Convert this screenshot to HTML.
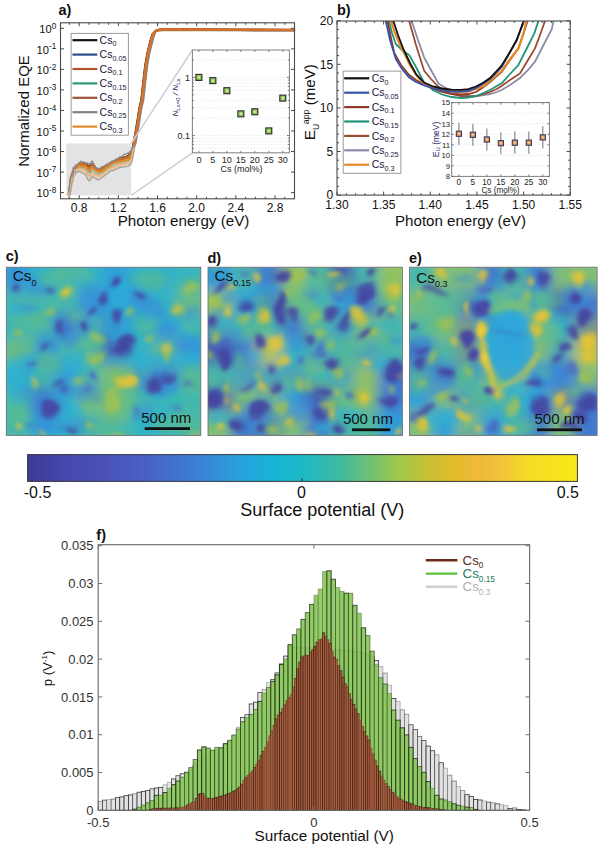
<!DOCTYPE html>
<html><head><meta charset="utf-8"><style>
html,body{margin:0;padding:0;background:#fff;}
svg{display:block;font-family:"Liberation Sans", sans-serif;}
</style></head><body>
<svg width="599" height="847" viewBox="0 0 599 847">
<defs>
<clipPath id="clipb"><rect x="337.0" y="21.0" width="233.20000000000005" height="174.1"/></clipPath>
<clipPath id="clipafm0"><rect x="6.3" y="267.2" width="194.5" height="168.3"/></clipPath><clipPath id="clipafm1"><rect x="208.0" y="267.2" width="194.39999999999998" height="168.3"/></clipPath><clipPath id="clipafm2"><rect x="409.5" y="267.2" width="187.60000000000002" height="168.3"/></clipPath>
<filter id="bl2" x="-50%" y="-50%" width="200%" height="200%"><feGaussianBlur stdDeviation="2"/></filter>
<filter id="bl3" x="-50%" y="-50%" width="200%" height="200%"><feGaussianBlur stdDeviation="2.6"/></filter>
<filter id="blgrid" x="-20%" y="-20%" width="140%" height="140%"><feGaussianBlur stdDeviation="7"/></filter>
<filter id="bl15" x="-50%" y="-50%" width="200%" height="200%"><feGaussianBlur stdDeviation="1.3"/></filter>
<filter id="bl4" x="-50%" y="-50%" width="200%" height="200%"><feGaussianBlur stdDeviation="4"/></filter>
<filter id="bl6" x="-50%" y="-50%" width="200%" height="200%"><feGaussianBlur stdDeviation="6"/></filter>
<filter id="afmsoft" x="-10%" y="-10%" width="120%" height="120%" color-interpolation-filters="sRGB">
<feTurbulence type="fractalNoise" baseFrequency="0.035" numOctaves="1" seed="3" result="t"/>
<feGaussianBlur in="SourceGraphic" stdDeviation="3.5" result="b"/>
<feDisplacementMap in="b" in2="t" scale="14" xChannelSelector="R" yChannelSelector="G"/>
</filter>
<filter id="afmhard" x="-10%" y="-10%" width="120%" height="120%" color-interpolation-filters="sRGB">
<feTurbulence type="fractalNoise" baseFrequency="0.05" numOctaves="1" seed="11" result="t"/>
<feGaussianBlur in="SourceGraphic" stdDeviation="1.9" result="b"/>
<feDisplacementMap in="b" in2="t" scale="14" xChannelSelector="R" yChannelSelector="G" result="d"/><feGaussianBlur in="d" stdDeviation="0.8"/>
</filter>
</defs>
<text x="58.50" y="15.20" font-size="14.5" text-anchor="start" font-weight="bold" fill="#111"  >a)</text>
<text transform="translate(29,111) rotate(-90)" font-size="15" text-anchor="middle" fill="#111">Normalized EQE</text>
<rect x="66.30" y="143.40" width="64.90" height="52.00" fill="#e3e3e5" stroke="none" stroke-width="1" />
<text x="56.2" y="33.00" font-size="11.2" text-anchor="end" fill="#111">10<tspan font-size="8.2" dy="-4.4">0</tspan></text>
<text x="56.2" y="53.54" font-size="11.2" text-anchor="end" fill="#111">10<tspan font-size="8.2" dy="-4.4">-1</tspan></text>
<text x="56.2" y="74.08" font-size="11.2" text-anchor="end" fill="#111">10<tspan font-size="8.2" dy="-4.4">-2</tspan></text>
<text x="56.2" y="94.62" font-size="11.2" text-anchor="end" fill="#111">10<tspan font-size="8.2" dy="-4.4">-3</tspan></text>
<text x="56.2" y="115.16" font-size="11.2" text-anchor="end" fill="#111">10<tspan font-size="8.2" dy="-4.4">-4</tspan></text>
<text x="56.2" y="135.70" font-size="11.2" text-anchor="end" fill="#111">10<tspan font-size="8.2" dy="-4.4">-5</tspan></text>
<text x="56.2" y="156.24" font-size="11.2" text-anchor="end" fill="#111">10<tspan font-size="8.2" dy="-4.4">-6</tspan></text>
<text x="56.2" y="176.78" font-size="11.2" text-anchor="end" fill="#111">10<tspan font-size="8.2" dy="-4.4">-7</tspan></text>
<text x="56.2" y="197.32" font-size="11.2" text-anchor="end" fill="#111">10<tspan font-size="8.2" dy="-4.4">-8</tspan></text>
<text x="79.20" y="211.70" font-size="12" text-anchor="middle" font-weight="normal" fill="#111"  >0.8</text>
<text x="118.36" y="211.70" font-size="12" text-anchor="middle" font-weight="normal" fill="#111"  >1.2</text>
<text x="157.52" y="211.70" font-size="12" text-anchor="middle" font-weight="normal" fill="#111"  >1.6</text>
<text x="196.68" y="211.70" font-size="12" text-anchor="middle" font-weight="normal" fill="#111"  >2.0</text>
<text x="235.84" y="211.70" font-size="12" text-anchor="middle" font-weight="normal" fill="#111"  >2.4</text>
<text x="275.00" y="211.70" font-size="12" text-anchor="middle" font-weight="normal" fill="#111"  >2.8</text>
<text x="183.50" y="225.70" font-size="15.2" text-anchor="middle" font-weight="normal" fill="#111"  >Photon energy (eV)</text>
<polyline points="67.85,193.93 68.73,191.98 69.70,190.99 70.51,176.32 71.23,177.05 72.21,171.78 72.73,180.96 73.76,169.78 74.45,168.14 75.52,165.53" stroke="#e0b080" stroke-width="1.4" fill="none" stroke-linejoin="round" stroke-linecap="round" />
<polyline points="68.28,194.34 68.99,190.36 69.51,190.47 70.48,183.92 71.51,183.52 72.36,174.75 73.15,173.87 74.20,172.75 74.92,169.04" stroke="#d89050" stroke-width="1.4" fill="none" stroke-linejoin="round" stroke-linecap="round" />
<polyline points="67.74,193.85 68.84,194.03 69.67,188.19 70.53,184.33 71.14,175.45 72.20,175.58 72.88,167.76 73.87,172.79 74.78,174.94 75.85,172.00" stroke="#e8c49a" stroke-width="1.4" fill="none" stroke-linejoin="round" stroke-linecap="round" />
<polyline points="68.34,194.87 68.98,192.59 69.53,194.06 70.32,184.74 70.97,178.02 71.57,172.76 72.61,181.36 73.40,174.89 74.22,169.15 74.84,174.84 75.87,168.84" stroke="#c87838" stroke-width="1.4" fill="none" stroke-linejoin="round" stroke-linecap="round" />
<polyline points="68.40,195.17 69.36,187.49 70.43,179.29 71.32,184.31 71.98,179.45 73.02,167.90 73.58,168.36 74.16,174.69 74.74,169.60 75.53,164.56" stroke="#a0a0a0" stroke-width="1.4" fill="none" stroke-linejoin="round" stroke-linecap="round" />
<polyline points="68.43,195.86 69.35,195.66 70.33,178.62 70.86,182.09 71.79,176.74 72.48,170.88 73.16,175.05 73.97,176.22 74.53,171.94 75.47,171.08" stroke="#e0b080" stroke-width="1.4" fill="none" stroke-linejoin="round" stroke-linecap="round" />
<polyline points="68.90,194.23 69.90,187.68 70.90,182.55 71.90,174.96 72.90,174.88 73.90,169.56 74.90,167.92 75.90,167.86 76.90,166.45 77.90,164.21 78.90,163.41 79.90,162.87 80.90,163.53 81.90,163.31 82.90,162.68 83.90,163.80 84.90,163.15 85.90,164.37 86.90,164.23 87.90,164.61 88.90,166.19 89.90,165.23 90.90,164.09 91.90,163.58 92.90,164.72 93.90,165.35 94.90,167.53 95.90,168.18 96.90,168.99 97.90,168.88 98.90,169.75 99.90,169.15 100.90,169.29 101.90,168.76 102.90,167.36 103.90,166.86 104.90,165.99 105.90,165.30 106.90,164.54 107.90,164.22 108.90,164.00 109.90,162.52 110.90,162.82 111.90,161.78 112.90,161.25 113.90,161.46 114.90,160.50 115.90,159.78 116.90,159.52 117.90,159.34 118.90,158.08 119.90,159.02 120.90,157.35 121.90,158.03 122.90,157.83 123.90,156.33 124.90,157.07 125.90,156.13 126.90,156.07 127.90,154.92 128.90,154.58 129.90,153.92 130.90,153.25 131.90,149.63 132.83,144.00 134.83,133.00 136.83,121.00 138.83,108.00 140.73,100.00 142.63,83.00 144.53,66.40 146.63,54.00 148.83,45.00 150.63,38.00 152.23,33.50 155.50,30.41 158.00,29.41 162.00,29.02 200.00,29.02 240.00,29.21 294.00,29.41" stroke="#222222" stroke-width="1.0" fill="none" stroke-linejoin="round" stroke-linecap="round" />
<polyline points="68.90,197.71 69.90,188.76 70.90,184.25 71.90,177.67 72.90,178.46 73.90,171.52 74.90,170.26 75.90,170.32 76.90,169.57 77.90,169.02 78.90,167.23 79.90,167.69 80.90,167.44 81.90,167.39 82.90,167.67 83.90,167.75 84.90,168.05 85.90,169.27 86.90,171.14 87.90,172.65 88.90,172.46 89.90,172.56 90.90,172.35 91.90,170.25 92.90,170.27 93.90,170.97 94.90,172.32 95.90,173.31 96.90,173.24 97.90,173.61 98.90,172.88 99.90,173.80 100.90,172.27 101.90,172.33 102.90,172.19 103.90,170.58 104.90,170.78 105.90,170.38 106.90,169.22 107.90,168.74 108.90,167.07 109.90,166.89 110.90,165.85 111.90,166.29 112.90,165.09 113.90,164.89 114.90,165.26 115.90,164.66 116.90,164.44 117.90,163.31 118.90,163.07 119.90,163.13 120.90,162.50 121.90,161.96 122.90,161.95 123.90,161.43 124.90,161.59 125.90,162.17 126.90,161.87 127.90,161.13 128.90,160.65 129.90,159.75 130.90,157.64 131.90,155.60 134.90,144.00 136.90,133.00 138.90,121.00 140.90,108.00 142.80,100.00 144.70,83.00 146.60,66.40 148.70,54.00 150.90,45.00 152.70,38.00 154.30,33.50 155.50,31.45 158.00,30.45 162.00,30.05 200.00,30.05 240.00,30.25 294.00,30.45" stroke="#2b9a70" stroke-width="0.8" fill="none" stroke-linejoin="round" stroke-linecap="round" />
<polyline points="68.90,196.70 69.90,188.16 70.90,183.42 71.90,179.13 72.90,176.10 73.90,172.70 74.90,172.48 75.90,168.96 76.90,168.37 77.90,166.46 78.90,164.86 79.90,163.38 80.90,164.26 81.90,163.98 82.90,164.70 83.90,164.54 84.90,165.28 85.90,165.74 86.90,166.65 87.90,166.72 88.90,167.65 89.90,168.28 90.90,167.11 91.90,164.94 92.90,166.57 93.90,167.66 94.90,168.29 95.90,169.58 96.90,170.09 97.90,169.98 98.90,169.89 99.90,169.22 100.90,169.99 101.90,169.60 102.90,168.39 103.90,168.12 104.90,167.56 105.90,166.84 106.90,165.33 107.90,165.45 108.90,164.44 109.90,163.83 110.90,162.75 111.90,162.48 112.90,162.32 113.90,161.74 114.90,161.48 115.90,160.13 116.90,159.94 117.90,159.96 118.90,160.04 119.90,159.24 120.90,159.71 121.90,159.44 122.90,158.42 123.90,158.83 124.90,158.28 125.90,157.66 126.90,157.39 127.90,157.27 128.90,156.71 129.90,156.35 130.90,153.93 131.90,151.88 135.17,144.00 137.17,133.00 139.17,121.00 141.17,108.00 143.07,100.00 144.97,83.00 146.87,66.40 148.97,54.00 151.17,45.00 152.97,38.00 154.57,33.50 155.50,31.59 158.00,30.59 162.00,30.19 200.00,30.19 240.00,30.39 294.00,30.59" stroke="#3a5a9a" stroke-width="0.9" fill="none" stroke-linejoin="round" stroke-linecap="round" />
<polyline points="68.90,193.78 69.90,184.23 70.90,178.46 71.90,175.09 72.90,171.83 73.90,171.69 74.90,170.03 75.90,167.81 76.90,166.97 77.90,165.21 78.90,164.30 79.90,164.17 80.90,163.89 81.90,163.38 82.90,164.12 83.90,164.06 84.90,163.95 85.90,164.23 86.90,165.48 87.90,166.04 88.90,167.02 89.90,167.22 90.90,165.51 91.90,163.60 92.90,165.51 93.90,165.54 94.90,166.79 95.90,168.53 96.90,169.19 97.90,169.05 98.90,169.60 99.90,169.75 100.90,168.82 101.90,168.43 102.90,167.57 103.90,167.08 104.90,167.44 105.90,165.92 106.90,166.05 107.90,165.30 108.90,164.18 109.90,163.03 110.90,163.36 111.90,162.12 112.90,161.56 113.90,160.98 114.90,161.46 115.90,160.33 116.90,159.59 117.90,159.41 118.90,158.62 119.90,159.04 120.90,158.51 121.90,158.02 122.90,158.43 123.90,158.21 124.90,156.78 125.90,157.15 126.90,156.42 127.90,156.99 128.90,156.38 129.90,154.98 130.90,153.08 131.90,150.32 133.37,144.00 135.37,133.00 137.37,121.00 139.37,108.00 141.27,100.00 143.17,83.00 145.07,66.40 147.17,54.00 149.37,45.00 151.17,38.00 152.77,33.50 155.50,30.68 158.00,29.68 162.00,29.29 200.00,29.29 240.00,29.48 294.00,29.68" stroke="#a85030" stroke-width="1.5" fill="none" stroke-linejoin="round" stroke-linecap="round" />
<polyline points="68.90,193.28 69.90,186.13 70.90,182.06 71.90,175.13 72.90,173.85 73.90,171.60 74.90,170.39 75.90,168.73 76.90,167.11 77.90,166.16 78.90,164.58 79.90,163.13 80.90,163.45 81.90,163.82 82.90,164.63 83.90,164.75 84.90,164.52 85.90,164.43 86.90,166.15 87.90,166.31 88.90,166.99 89.90,167.50 90.90,166.14 91.90,164.41 92.90,166.06 93.90,166.50 94.90,167.51 95.90,169.15 96.90,168.80 97.90,169.46 98.90,170.08 99.90,168.82 100.90,169.71 101.90,169.01 102.90,168.08 103.90,167.30 104.90,167.39 105.90,166.86 106.90,165.08 107.90,164.85 108.90,164.25 109.90,163.47 110.90,162.53 111.90,161.73 112.90,161.92 113.90,161.82 114.90,160.36 115.90,160.17 116.90,160.58 117.90,160.13 118.90,159.69 119.90,158.56 120.90,159.30 121.90,159.42 122.90,159.21 123.90,158.56 124.90,157.39 125.90,158.13 126.90,156.89 127.90,157.12 128.90,157.16 129.90,156.30 130.90,153.44 131.90,151.04 133.82,144.00 135.82,133.00 137.82,121.00 139.82,108.00 141.72,100.00 143.62,83.00 145.52,66.40 147.62,54.00 149.82,45.00 151.62,38.00 153.22,33.50 155.50,30.91 158.00,29.91 162.00,29.51 200.00,29.51 240.00,29.71 294.00,29.91" stroke="#c8642a" stroke-width="1.8" fill="none" stroke-linejoin="round" stroke-linecap="round" />
<polyline points="68.90,193.05 69.90,186.99 70.90,182.75 71.90,175.13 72.90,172.91 73.90,173.02 74.90,173.71 75.90,169.06 76.90,168.07 77.90,166.54 78.90,165.57 79.90,164.81 80.90,165.61 81.90,164.98 82.90,164.71 83.90,165.77 84.90,165.30 85.90,166.78 86.90,167.40 87.90,168.76 88.90,168.90 89.90,169.43 90.90,167.57 91.90,166.49 92.90,166.83 93.90,168.54 94.90,169.09 95.90,169.38 96.90,170.04 97.90,170.71 98.90,171.09 99.90,170.12 100.90,170.67 101.90,170.04 102.90,168.67 103.90,168.90 104.90,167.48 105.90,166.80 106.90,166.74 107.90,165.51 108.90,165.68 109.90,164.41 110.90,163.49 111.90,163.60 112.90,162.13 113.90,162.72 114.90,161.39 115.90,161.15 116.90,161.89 117.90,161.13 118.90,160.26 119.90,159.89 120.90,160.88 121.90,160.23 122.90,160.27 123.90,159.13 124.90,159.61 125.90,158.88 126.90,158.37 127.90,158.15 128.90,158.19 129.90,157.36 130.90,155.33 131.90,152.42 134.18,144.00 136.18,133.00 138.18,121.00 140.18,108.00 142.08,100.00 143.98,83.00 145.88,66.40 147.98,54.00 150.18,45.00 151.98,38.00 153.58,33.50 155.50,31.09 158.00,30.09 162.00,29.69 200.00,29.69 240.00,29.89 294.00,30.09" stroke="#d2782e" stroke-width="1.6" fill="none" stroke-linejoin="round" stroke-linecap="round" />
<polyline points="68.90,195.96 69.90,188.16 70.90,183.96 71.90,179.21 72.90,175.68 73.90,170.22 74.90,168.57 75.90,170.57 76.90,168.72 77.90,167.92 78.90,165.67 79.90,165.84 80.90,166.65 81.90,166.49 82.90,166.44 83.90,166.71 84.90,166.56 85.90,167.59 86.90,168.54 87.90,169.77 88.90,170.58 89.90,171.63 90.90,169.17 91.90,167.84 92.90,168.36 93.90,169.19 94.90,170.22 95.90,170.91 96.90,171.73 97.90,171.56 98.90,172.64 99.90,171.62 100.90,172.18 101.90,171.26 102.90,170.64 103.90,169.76 104.90,169.80 105.90,167.92 106.90,167.98 107.90,166.73 108.90,166.55 109.90,165.95 110.90,164.48 111.90,163.99 112.90,163.34 113.90,163.21 114.90,162.61 115.90,162.68 116.90,163.09 117.90,161.85 118.90,161.52 119.90,161.50 120.90,160.99 121.90,161.38 122.90,161.18 123.90,160.23 124.90,160.16 125.90,160.45 126.90,160.51 127.90,159.79 128.90,159.15 129.90,159.36 130.90,156.07 131.90,153.71 134.45,144.00 136.45,133.00 138.45,121.00 140.45,108.00 142.35,100.00 144.25,83.00 146.15,66.40 148.25,54.00 150.45,45.00 152.25,38.00 153.85,33.50 155.50,31.23 158.00,30.23 162.00,29.83 200.00,29.83 240.00,30.03 294.00,30.23" stroke="#e08a2a" stroke-width="1.6" fill="none" stroke-linejoin="round" stroke-linecap="round" />
<polyline points="68.90,195.19 69.90,189.77 70.90,186.29 71.90,178.02 72.90,178.73 73.90,176.30 74.90,170.32 75.90,170.56 76.90,170.11 77.90,168.91 78.90,168.46 79.90,168.48 80.90,168.69 81.90,168.68 82.90,169.01 83.90,170.66 84.90,170.10 85.90,171.88 86.90,173.05 87.90,174.52 88.90,175.10 89.90,175.56 90.90,173.62 91.90,172.79 92.90,173.14 93.90,173.58 94.90,174.76 95.90,174.43 96.90,174.55 97.90,175.66 98.90,175.31 99.90,175.08 100.90,174.46 101.90,174.19 102.90,173.68 103.90,173.30 104.90,171.79 105.90,171.29 106.90,171.12 107.90,169.58 108.90,168.73 109.90,168.41 110.90,167.50 111.90,167.94 112.90,167.55 113.90,166.39 114.90,165.73 115.90,165.26 116.90,165.09 117.90,164.47 118.90,164.62 119.90,164.50 120.90,163.71 121.90,163.13 122.90,163.87 123.90,162.82 124.90,162.89 125.90,162.79 126.90,162.70 127.90,162.11 128.90,162.28 129.90,161.32 130.90,160.39 131.90,157.99 134.63,144.00 136.63,133.00 138.63,121.00 140.63,108.00 142.53,100.00 144.43,83.00 146.33,66.40 148.43,54.00 150.63,45.00 152.43,38.00 154.03,33.50 155.50,31.32 158.00,30.32 162.00,29.92 200.00,29.92 240.00,30.12 294.00,30.32" stroke="#e2b080" stroke-width="1.8" fill="none" stroke-linejoin="round" stroke-linecap="round" />
<polyline points="68.90,197.07 69.90,192.05 70.90,188.38 71.90,184.28 72.90,179.20 73.90,175.56 74.90,170.59 75.90,171.23 76.90,170.62 77.90,170.29 78.90,170.40 79.90,169.83 80.90,169.94 81.90,171.34 82.90,171.47 83.90,171.14 84.90,171.82 85.90,173.46 86.90,175.31 87.90,177.49 88.90,179.05 89.90,178.60 90.90,176.30 91.90,175.16 92.90,174.51 93.90,175.30 94.90,175.66 95.90,176.92 96.90,177.60 97.90,177.80 98.90,176.59 99.90,176.79 100.90,175.88 101.90,175.99 102.90,174.94 103.90,174.95 104.90,174.08 105.90,172.44 106.90,172.04 107.90,172.19 108.90,170.87 109.90,170.27 110.90,169.73 111.90,169.68 112.90,169.44 113.90,168.40 114.90,168.60 115.90,167.67 116.90,166.57 117.90,167.16 118.90,166.24 119.90,165.35 120.90,166.28 121.90,164.59 122.90,165.21 123.90,164.95 124.90,165.39 125.90,164.55 126.90,164.14 127.90,164.07 128.90,163.72 129.90,163.26 130.90,161.65 131.90,160.25 134.72,144.00 136.72,133.00 138.72,121.00 140.72,108.00 142.62,100.00 144.52,83.00 146.42,66.40 148.52,54.00 150.72,45.00 152.52,38.00 154.12,33.50 155.50,31.36 158.00,30.36 162.00,29.96 200.00,29.96 240.00,30.16 294.00,30.36" stroke="#e8c49a" stroke-width="2.0" fill="none" stroke-linejoin="round" stroke-linecap="round" />
<polyline points="68.90,194.81 69.90,194.75 70.90,190.30 71.90,182.14 72.90,179.76 73.90,171.80 74.90,170.57 75.90,172.78 76.90,172.48 77.90,171.29 78.90,171.92 79.90,171.40 80.90,172.39 81.90,173.13 82.90,173.29 83.90,174.03 84.90,174.17 85.90,175.40 86.90,177.84 87.90,179.62 88.90,180.73 89.90,180.91 90.90,178.93 91.90,177.12 92.90,176.59 93.90,177.48 94.90,178.39 95.90,179.05 96.90,178.93 97.90,180.05 98.90,179.42 99.90,179.11 100.90,178.32 101.90,177.61 102.90,176.72 103.90,176.38 104.90,175.07 105.90,174.72 106.90,174.17 107.90,173.27 108.90,172.27 109.90,171.46 110.90,170.97 111.90,170.85 112.90,170.66 113.90,170.41 114.90,169.93 115.90,168.95 116.90,169.40 117.90,168.08 118.90,168.28 119.90,166.97 120.90,167.51 121.90,166.98 122.90,167.25 123.90,167.06 124.90,166.66 125.90,166.77 126.90,166.53 127.90,166.25 128.90,165.48 129.90,164.80 130.90,164.22 131.90,161.53 135.44,144.00 137.44,133.00 139.44,121.00 141.44,108.00 143.34,100.00 145.24,83.00 147.14,66.40 149.24,54.00 151.44,45.00 153.24,38.00 154.84,33.50 155.50,31.72 158.00,30.72 162.00,30.32 200.00,30.32 240.00,30.52 294.00,30.72" stroke="#a0a0a0" stroke-width="1.2" fill="none" stroke-linejoin="round" stroke-linecap="round" />
<polyline points="68.90,192.08 69.90,179.90 70.90,175.80 71.90,176.62 72.90,172.92 73.90,166.90 74.90,168.30 75.90,166.64 76.90,164.76 77.90,164.08 78.90,162.47 79.90,162.01 80.90,161.37 81.90,161.72 82.90,162.41 83.90,161.70 84.90,162.66 85.90,163.24 86.90,162.88 87.90,163.06 88.90,163.98 89.90,163.80 90.90,162.86 91.90,160.99 92.90,162.18 93.90,164.04 94.90,165.78 95.90,167.91 96.90,167.76 97.90,168.33 98.90,168.56 99.90,168.74 100.90,167.32 101.90,166.78 102.90,166.32 103.90,166.35 104.90,165.80 105.90,164.62 106.90,164.07 107.90,164.08 108.90,163.59 109.90,163.10 110.90,162.60 111.90,161.08 112.90,161.07 113.90,160.95 114.90,160.52 115.90,159.02 116.90,159.16 117.90,158.26 118.90,158.16 119.90,156.70 120.90,156.87 121.90,156.58 122.90,155.59 123.90,154.58 124.90,154.24 125.90,153.86 126.90,153.45 127.90,153.21 128.90,153.43 129.90,151.41 130.90,151.02 131.90,148.51 135.80,144.00 137.80,133.00 139.80,121.00 141.80,108.00 143.70,100.00 145.60,83.00 147.50,66.40 149.60,54.00 151.80,45.00 153.60,38.00 155.20,33.50 155.50,31.90 158.00,30.90 162.00,30.50 200.00,30.50 240.00,30.70 294.00,30.90" stroke="#888888" stroke-width="1.3" fill="none" stroke-linejoin="round" stroke-linecap="round" />
<polyline points="134.20,144.00 136.20,133.00 138.20,121.00 140.20,108.00 142.10,100.00 144.00,83.00 145.90,66.40 148.00,54.00 150.20,45.00 152.00,38.00 153.60,33.50 155.70,31.00 158.20,30.00 162.20,29.60 200.20,29.60 240.20,29.80 294.20,30.00" stroke="#d2691e" stroke-width="2.6" fill="none" stroke-linejoin="round" stroke-linecap="round" opacity="0.85"/>
<line x1="131.20" y1="143.40" x2="192.40" y2="50.00" stroke="#cfcfdc" stroke-width="1.6" />
<line x1="131.20" y1="195.40" x2="192.40" y2="152.80" stroke="#cfcfdc" stroke-width="1.6" />
<rect x="192.40" y="50.00" width="97.00" height="102.80" fill="#fff" stroke="none" stroke-width="1" />
<line x1="193.40" y1="59.91" x2="288.40" y2="59.91" stroke="#d4d8ec" stroke-width="0.7" stroke-dasharray="1,2"/>
<line x1="193.40" y1="77.40" x2="288.40" y2="77.40" stroke="#d4d8ec" stroke-width="0.7" stroke-dasharray="1,2"/>
<line x1="193.40" y1="80.06" x2="288.40" y2="80.06" stroke="#d4d8ec" stroke-width="0.7" stroke-dasharray="1,2"/>
<line x1="193.40" y1="83.03" x2="288.40" y2="83.03" stroke="#d4d8ec" stroke-width="0.7" stroke-dasharray="1,2"/>
<line x1="193.40" y1="86.40" x2="288.40" y2="86.40" stroke="#d4d8ec" stroke-width="0.7" stroke-dasharray="1,2"/>
<line x1="193.40" y1="90.29" x2="288.40" y2="90.29" stroke="#d4d8ec" stroke-width="0.7" stroke-dasharray="1,2"/>
<line x1="193.40" y1="94.89" x2="288.40" y2="94.89" stroke="#d4d8ec" stroke-width="0.7" stroke-dasharray="1,2"/>
<line x1="193.40" y1="100.52" x2="288.40" y2="100.52" stroke="#d4d8ec" stroke-width="0.7" stroke-dasharray="1,2"/>
<line x1="193.40" y1="107.78" x2="288.40" y2="107.78" stroke="#d4d8ec" stroke-width="0.7" stroke-dasharray="1,2"/>
<line x1="193.40" y1="118.01" x2="288.40" y2="118.01" stroke="#d4d8ec" stroke-width="0.7" stroke-dasharray="1,2"/>
<line x1="193.40" y1="135.50" x2="288.40" y2="135.50" stroke="#d4d8ec" stroke-width="0.7" stroke-dasharray="1,2"/>
<line x1="193.40" y1="138.16" x2="288.40" y2="138.16" stroke="#d4d8ec" stroke-width="0.7" stroke-dasharray="1,2"/>
<line x1="193.40" y1="141.13" x2="288.40" y2="141.13" stroke="#d4d8ec" stroke-width="0.7" stroke-dasharray="1,2"/>
<line x1="193.40" y1="144.50" x2="288.40" y2="144.50" stroke="#d4d8ec" stroke-width="0.7" stroke-dasharray="1,2"/>
<line x1="193.40" y1="148.39" x2="288.40" y2="148.39" stroke="#d4d8ec" stroke-width="0.7" stroke-dasharray="1,2"/>
<rect x="192.40" y="50.00" width="97.00" height="102.80" fill="none" stroke="#808080" stroke-width="1" />
<line x1="192.40" y1="59.91" x2="193.90" y2="59.91" stroke="#606060" stroke-width="0.8" />
<line x1="289.40" y1="59.91" x2="287.90" y2="59.91" stroke="#606060" stroke-width="0.8" />
<line x1="192.40" y1="77.40" x2="194.90" y2="77.40" stroke="#606060" stroke-width="0.8" />
<line x1="289.40" y1="77.40" x2="286.90" y2="77.40" stroke="#606060" stroke-width="0.8" />
<line x1="192.40" y1="80.06" x2="193.90" y2="80.06" stroke="#606060" stroke-width="0.8" />
<line x1="289.40" y1="80.06" x2="287.90" y2="80.06" stroke="#606060" stroke-width="0.8" />
<line x1="192.40" y1="83.03" x2="193.90" y2="83.03" stroke="#606060" stroke-width="0.8" />
<line x1="289.40" y1="83.03" x2="287.90" y2="83.03" stroke="#606060" stroke-width="0.8" />
<line x1="192.40" y1="86.40" x2="193.90" y2="86.40" stroke="#606060" stroke-width="0.8" />
<line x1="289.40" y1="86.40" x2="287.90" y2="86.40" stroke="#606060" stroke-width="0.8" />
<line x1="192.40" y1="90.29" x2="193.90" y2="90.29" stroke="#606060" stroke-width="0.8" />
<line x1="289.40" y1="90.29" x2="287.90" y2="90.29" stroke="#606060" stroke-width="0.8" />
<line x1="192.40" y1="94.89" x2="193.90" y2="94.89" stroke="#606060" stroke-width="0.8" />
<line x1="289.40" y1="94.89" x2="287.90" y2="94.89" stroke="#606060" stroke-width="0.8" />
<line x1="192.40" y1="100.52" x2="193.90" y2="100.52" stroke="#606060" stroke-width="0.8" />
<line x1="289.40" y1="100.52" x2="287.90" y2="100.52" stroke="#606060" stroke-width="0.8" />
<line x1="192.40" y1="107.78" x2="193.90" y2="107.78" stroke="#606060" stroke-width="0.8" />
<line x1="289.40" y1="107.78" x2="287.90" y2="107.78" stroke="#606060" stroke-width="0.8" />
<line x1="192.40" y1="118.01" x2="193.90" y2="118.01" stroke="#606060" stroke-width="0.8" />
<line x1="289.40" y1="118.01" x2="287.90" y2="118.01" stroke="#606060" stroke-width="0.8" />
<line x1="192.40" y1="135.50" x2="194.90" y2="135.50" stroke="#606060" stroke-width="0.8" />
<line x1="289.40" y1="135.50" x2="286.90" y2="135.50" stroke="#606060" stroke-width="0.8" />
<line x1="192.40" y1="138.16" x2="193.90" y2="138.16" stroke="#606060" stroke-width="0.8" />
<line x1="289.40" y1="138.16" x2="287.90" y2="138.16" stroke="#606060" stroke-width="0.8" />
<line x1="192.40" y1="141.13" x2="193.90" y2="141.13" stroke="#606060" stroke-width="0.8" />
<line x1="289.40" y1="141.13" x2="287.90" y2="141.13" stroke="#606060" stroke-width="0.8" />
<line x1="192.40" y1="144.50" x2="193.90" y2="144.50" stroke="#606060" stroke-width="0.8" />
<line x1="289.40" y1="144.50" x2="287.90" y2="144.50" stroke="#606060" stroke-width="0.8" />
<line x1="192.40" y1="148.39" x2="193.90" y2="148.39" stroke="#606060" stroke-width="0.8" />
<line x1="289.40" y1="148.39" x2="287.90" y2="148.39" stroke="#606060" stroke-width="0.8" />
<line x1="198.90" y1="152.80" x2="198.90" y2="150.80" stroke="#606060" stroke-width="0.8" />
<line x1="198.90" y1="50.00" x2="198.90" y2="52.00" stroke="#606060" stroke-width="0.8" />
<text x="198.90" y="162.60" font-size="9" text-anchor="middle" font-weight="normal" fill="#222"  >0</text>
<line x1="212.88" y1="152.80" x2="212.88" y2="150.80" stroke="#606060" stroke-width="0.8" />
<line x1="212.88" y1="50.00" x2="212.88" y2="52.00" stroke="#606060" stroke-width="0.8" />
<text x="212.88" y="162.60" font-size="9" text-anchor="middle" font-weight="normal" fill="#222"  >5</text>
<line x1="226.87" y1="152.80" x2="226.87" y2="150.80" stroke="#606060" stroke-width="0.8" />
<line x1="226.87" y1="50.00" x2="226.87" y2="52.00" stroke="#606060" stroke-width="0.8" />
<text x="226.87" y="162.60" font-size="9" text-anchor="middle" font-weight="normal" fill="#222"  >10</text>
<line x1="240.85" y1="152.80" x2="240.85" y2="150.80" stroke="#606060" stroke-width="0.8" />
<line x1="240.85" y1="50.00" x2="240.85" y2="52.00" stroke="#606060" stroke-width="0.8" />
<text x="240.85" y="162.60" font-size="9" text-anchor="middle" font-weight="normal" fill="#222"  >15</text>
<line x1="254.83" y1="152.80" x2="254.83" y2="150.80" stroke="#606060" stroke-width="0.8" />
<line x1="254.83" y1="50.00" x2="254.83" y2="52.00" stroke="#606060" stroke-width="0.8" />
<text x="254.83" y="162.60" font-size="9" text-anchor="middle" font-weight="normal" fill="#222"  >20</text>
<line x1="268.82" y1="152.80" x2="268.82" y2="150.80" stroke="#606060" stroke-width="0.8" />
<line x1="268.82" y1="50.00" x2="268.82" y2="52.00" stroke="#606060" stroke-width="0.8" />
<text x="268.82" y="162.60" font-size="9" text-anchor="middle" font-weight="normal" fill="#222"  >25</text>
<line x1="282.80" y1="152.80" x2="282.80" y2="150.80" stroke="#606060" stroke-width="0.8" />
<line x1="282.80" y1="50.00" x2="282.80" y2="52.00" stroke="#606060" stroke-width="0.8" />
<text x="282.80" y="162.60" font-size="9" text-anchor="middle" font-weight="normal" fill="#222"  >30</text>
<text x="241.60" y="172.20" font-size="9" text-anchor="middle" font-weight="normal" fill="#222"  >Cs (mol%)</text>
<text x="190.00" y="80.60" font-size="9" text-anchor="end" font-weight="normal" fill="#222"  >1</text>
<text x="190.00" y="138.80" font-size="9" text-anchor="end" font-weight="normal" fill="#222"  >0.1</text>
<text transform="translate(177.9,97.5) rotate(-90)" font-size="8.1" text-anchor="middle" fill="#1e2a6a" font-style="italic">N<tspan font-size="6" dy="1.8" font-style="normal">Lx=0</tspan><tspan dy="-1.8"> / N</tspan><tspan font-size="6" dy="1.8" font-style="normal">Lx</tspan></text>
<rect x="195.90" y="74.40" width="6.00" height="6.00" fill="#8cc85a" stroke="#2a2a2a" stroke-width="1.1" />
<rect x="197.90" y="76.40" width="2.00" height="2.00" fill="#e8f0a0" stroke="none" stroke-width="1" />
<rect x="209.88" y="77.63" width="6.00" height="6.00" fill="#8cc85a" stroke="#2a2a2a" stroke-width="1.1" />
<rect x="211.88" y="79.63" width="2.00" height="2.00" fill="#e8f0a0" stroke="none" stroke-width="1" />
<rect x="223.87" y="87.71" width="6.00" height="6.00" fill="#8cc85a" stroke="#2a2a2a" stroke-width="1.1" />
<rect x="225.87" y="89.71" width="2.00" height="2.00" fill="#e8f0a0" stroke="none" stroke-width="1" />
<rect x="237.85" y="110.83" width="6.00" height="6.00" fill="#8cc85a" stroke="#2a2a2a" stroke-width="1.1" />
<rect x="239.85" y="112.83" width="2.00" height="2.00" fill="#e8f0a0" stroke="none" stroke-width="1" />
<rect x="251.83" y="108.78" width="6.00" height="6.00" fill="#8cc85a" stroke="#2a2a2a" stroke-width="1.1" />
<rect x="253.83" y="110.78" width="2.00" height="2.00" fill="#e8f0a0" stroke="none" stroke-width="1" />
<rect x="265.82" y="127.90" width="6.00" height="6.00" fill="#8cc85a" stroke="#2a2a2a" stroke-width="1.1" />
<rect x="267.82" y="129.90" width="2.00" height="2.00" fill="#e8f0a0" stroke="none" stroke-width="1" />
<rect x="279.80" y="95.12" width="6.00" height="6.00" fill="#8cc85a" stroke="#2a2a2a" stroke-width="1.1" />
<rect x="281.80" y="97.12" width="2.00" height="2.00" fill="#e8f0a0" stroke="none" stroke-width="1" />
<rect x="71.10" y="33.40" width="57.30" height="101.80" fill="#fff" stroke="#9a9a9a" stroke-width="1" />
<line x1="72.50" y1="40.20" x2="97.30" y2="40.20" stroke="#111111" stroke-width="2.2" />
<text x="99.60" y="43.80" font-size="10.5" fill="#15153a">Cs<tspan font-size="7.2" dy="2.6">0</tspan></text>
<line x1="72.50" y1="54.60" x2="97.30" y2="54.60" stroke="#2c4f8c" stroke-width="2.2" />
<text x="99.60" y="58.20" font-size="10.5" fill="#15153a">Cs<tspan font-size="7.2" dy="2.6">0.05</tspan></text>
<line x1="72.50" y1="69.00" x2="97.30" y2="69.00" stroke="#b4522c" stroke-width="2.2" />
<text x="99.60" y="72.60" font-size="10.5" fill="#15153a">Cs<tspan font-size="7.2" dy="2.6">0.1</tspan></text>
<line x1="72.50" y1="83.40" x2="97.30" y2="83.40" stroke="#2b9a70" stroke-width="2.2" />
<text x="99.60" y="87.00" font-size="10.5" fill="#15153a">Cs<tspan font-size="7.2" dy="2.6">0.15</tspan></text>
<line x1="72.50" y1="97.80" x2="97.30" y2="97.80" stroke="#a25236" stroke-width="2.2" />
<text x="99.60" y="101.40" font-size="10.5" fill="#15153a">Cs<tspan font-size="7.2" dy="2.6">0.2</tspan></text>
<line x1="72.50" y1="112.20" x2="97.30" y2="112.20" stroke="#808080" stroke-width="2.2" />
<text x="99.60" y="115.80" font-size="10.5" fill="#15153a">Cs<tspan font-size="7.2" dy="2.6">0.25</tspan></text>
<line x1="72.50" y1="126.60" x2="97.30" y2="126.60" stroke="#e08a2a" stroke-width="2.2" />
<text x="99.60" y="130.20" font-size="10.5" fill="#15153a">Cs<tspan font-size="7.2" dy="2.6">0.3</tspan></text>
<rect x="60.50" y="22.80" width="234.00" height="176.00" fill="none" stroke="#4a4a4a" stroke-width="1.1" />
<line x1="60.50" y1="28.30" x2="64.00" y2="28.30" stroke="#4a4a4a" stroke-width="1" />
<line x1="294.50" y1="28.30" x2="291.00" y2="28.30" stroke="#4a4a4a" stroke-width="1" />
<line x1="60.50" y1="48.84" x2="64.00" y2="48.84" stroke="#4a4a4a" stroke-width="1" />
<line x1="294.50" y1="48.84" x2="291.00" y2="48.84" stroke="#4a4a4a" stroke-width="1" />
<line x1="60.50" y1="69.38" x2="64.00" y2="69.38" stroke="#4a4a4a" stroke-width="1" />
<line x1="294.50" y1="69.38" x2="291.00" y2="69.38" stroke="#4a4a4a" stroke-width="1" />
<line x1="60.50" y1="89.92" x2="64.00" y2="89.92" stroke="#4a4a4a" stroke-width="1" />
<line x1="294.50" y1="89.92" x2="291.00" y2="89.92" stroke="#4a4a4a" stroke-width="1" />
<line x1="60.50" y1="110.46" x2="64.00" y2="110.46" stroke="#4a4a4a" stroke-width="1" />
<line x1="294.50" y1="110.46" x2="291.00" y2="110.46" stroke="#4a4a4a" stroke-width="1" />
<line x1="60.50" y1="131.00" x2="64.00" y2="131.00" stroke="#4a4a4a" stroke-width="1" />
<line x1="294.50" y1="131.00" x2="291.00" y2="131.00" stroke="#4a4a4a" stroke-width="1" />
<line x1="60.50" y1="151.54" x2="64.00" y2="151.54" stroke="#4a4a4a" stroke-width="1" />
<line x1="294.50" y1="151.54" x2="291.00" y2="151.54" stroke="#4a4a4a" stroke-width="1" />
<line x1="60.50" y1="172.08" x2="64.00" y2="172.08" stroke="#4a4a4a" stroke-width="1" />
<line x1="294.50" y1="172.08" x2="291.00" y2="172.08" stroke="#4a4a4a" stroke-width="1" />
<line x1="60.50" y1="192.62" x2="64.00" y2="192.62" stroke="#4a4a4a" stroke-width="1" />
<line x1="294.50" y1="192.62" x2="291.00" y2="192.62" stroke="#4a4a4a" stroke-width="1" />
<line x1="69.41" y1="198.80" x2="69.41" y2="196.80" stroke="#4a4a4a" stroke-width="1" />
<line x1="69.41" y1="22.80" x2="69.41" y2="24.80" stroke="#4a4a4a" stroke-width="1" />
<line x1="79.20" y1="198.80" x2="79.20" y2="195.30" stroke="#4a4a4a" stroke-width="1" />
<line x1="79.20" y1="22.80" x2="79.20" y2="26.30" stroke="#4a4a4a" stroke-width="1" />
<line x1="88.99" y1="198.80" x2="88.99" y2="196.80" stroke="#4a4a4a" stroke-width="1" />
<line x1="88.99" y1="22.80" x2="88.99" y2="24.80" stroke="#4a4a4a" stroke-width="1" />
<line x1="98.78" y1="198.80" x2="98.78" y2="196.80" stroke="#4a4a4a" stroke-width="1" />
<line x1="98.78" y1="22.80" x2="98.78" y2="24.80" stroke="#4a4a4a" stroke-width="1" />
<line x1="108.57" y1="198.80" x2="108.57" y2="196.80" stroke="#4a4a4a" stroke-width="1" />
<line x1="108.57" y1="22.80" x2="108.57" y2="24.80" stroke="#4a4a4a" stroke-width="1" />
<line x1="118.36" y1="198.80" x2="118.36" y2="195.30" stroke="#4a4a4a" stroke-width="1" />
<line x1="118.36" y1="22.80" x2="118.36" y2="26.30" stroke="#4a4a4a" stroke-width="1" />
<line x1="128.15" y1="198.80" x2="128.15" y2="196.80" stroke="#4a4a4a" stroke-width="1" />
<line x1="128.15" y1="22.80" x2="128.15" y2="24.80" stroke="#4a4a4a" stroke-width="1" />
<line x1="137.94" y1="198.80" x2="137.94" y2="196.80" stroke="#4a4a4a" stroke-width="1" />
<line x1="137.94" y1="22.80" x2="137.94" y2="24.80" stroke="#4a4a4a" stroke-width="1" />
<line x1="147.73" y1="198.80" x2="147.73" y2="196.80" stroke="#4a4a4a" stroke-width="1" />
<line x1="147.73" y1="22.80" x2="147.73" y2="24.80" stroke="#4a4a4a" stroke-width="1" />
<line x1="157.52" y1="198.80" x2="157.52" y2="195.30" stroke="#4a4a4a" stroke-width="1" />
<line x1="157.52" y1="22.80" x2="157.52" y2="26.30" stroke="#4a4a4a" stroke-width="1" />
<line x1="167.31" y1="198.80" x2="167.31" y2="196.80" stroke="#4a4a4a" stroke-width="1" />
<line x1="167.31" y1="22.80" x2="167.31" y2="24.80" stroke="#4a4a4a" stroke-width="1" />
<line x1="177.10" y1="198.80" x2="177.10" y2="196.80" stroke="#4a4a4a" stroke-width="1" />
<line x1="177.10" y1="22.80" x2="177.10" y2="24.80" stroke="#4a4a4a" stroke-width="1" />
<line x1="186.89" y1="198.80" x2="186.89" y2="196.80" stroke="#4a4a4a" stroke-width="1" />
<line x1="186.89" y1="22.80" x2="186.89" y2="24.80" stroke="#4a4a4a" stroke-width="1" />
<line x1="196.68" y1="198.80" x2="196.68" y2="195.30" stroke="#4a4a4a" stroke-width="1" />
<line x1="196.68" y1="22.80" x2="196.68" y2="26.30" stroke="#4a4a4a" stroke-width="1" />
<line x1="206.47" y1="198.80" x2="206.47" y2="196.80" stroke="#4a4a4a" stroke-width="1" />
<line x1="206.47" y1="22.80" x2="206.47" y2="24.80" stroke="#4a4a4a" stroke-width="1" />
<line x1="216.26" y1="198.80" x2="216.26" y2="196.80" stroke="#4a4a4a" stroke-width="1" />
<line x1="216.26" y1="22.80" x2="216.26" y2="24.80" stroke="#4a4a4a" stroke-width="1" />
<line x1="226.05" y1="198.80" x2="226.05" y2="196.80" stroke="#4a4a4a" stroke-width="1" />
<line x1="226.05" y1="22.80" x2="226.05" y2="24.80" stroke="#4a4a4a" stroke-width="1" />
<line x1="235.84" y1="198.80" x2="235.84" y2="195.30" stroke="#4a4a4a" stroke-width="1" />
<line x1="235.84" y1="22.80" x2="235.84" y2="26.30" stroke="#4a4a4a" stroke-width="1" />
<line x1="245.63" y1="198.80" x2="245.63" y2="196.80" stroke="#4a4a4a" stroke-width="1" />
<line x1="245.63" y1="22.80" x2="245.63" y2="24.80" stroke="#4a4a4a" stroke-width="1" />
<line x1="255.42" y1="198.80" x2="255.42" y2="196.80" stroke="#4a4a4a" stroke-width="1" />
<line x1="255.42" y1="22.80" x2="255.42" y2="24.80" stroke="#4a4a4a" stroke-width="1" />
<line x1="265.21" y1="198.80" x2="265.21" y2="196.80" stroke="#4a4a4a" stroke-width="1" />
<line x1="265.21" y1="22.80" x2="265.21" y2="24.80" stroke="#4a4a4a" stroke-width="1" />
<line x1="275.00" y1="198.80" x2="275.00" y2="195.30" stroke="#4a4a4a" stroke-width="1" />
<line x1="275.00" y1="22.80" x2="275.00" y2="26.30" stroke="#4a4a4a" stroke-width="1" />
<line x1="284.79" y1="198.80" x2="284.79" y2="196.80" stroke="#4a4a4a" stroke-width="1" />
<line x1="284.79" y1="22.80" x2="284.79" y2="24.80" stroke="#4a4a4a" stroke-width="1" />
<text x="337.00" y="15.20" font-size="14.5" text-anchor="start" font-weight="bold" fill="#111"  >b)</text>
<text x="333.20" y="199.40" font-size="12" text-anchor="end" font-weight="normal" fill="#111"  >0</text>
<text x="333.20" y="155.80" font-size="12" text-anchor="end" font-weight="normal" fill="#111"  >5</text>
<text x="333.20" y="112.20" font-size="12" text-anchor="end" font-weight="normal" fill="#111"  >10</text>
<text x="333.20" y="68.60" font-size="12" text-anchor="end" font-weight="normal" fill="#111"  >15</text>
<text x="333.20" y="25.00" font-size="12" text-anchor="end" font-weight="normal" fill="#111"  >20</text>
<text x="337.00" y="208.80" font-size="12" text-anchor="middle" font-weight="normal" fill="#111"  >1.30</text>
<text x="383.64" y="208.80" font-size="12" text-anchor="middle" font-weight="normal" fill="#111"  >1.35</text>
<text x="430.28" y="208.80" font-size="12" text-anchor="middle" font-weight="normal" fill="#111"  >1.40</text>
<text x="476.92" y="208.80" font-size="12" text-anchor="middle" font-weight="normal" fill="#111"  >1.45</text>
<text x="523.56" y="208.80" font-size="12" text-anchor="middle" font-weight="normal" fill="#111"  >1.50</text>
<text x="570.20" y="208.80" font-size="12" text-anchor="middle" font-weight="normal" fill="#111"  >1.55</text>
<text x="460.50" y="225.60" font-size="15.1" text-anchor="middle" font-weight="normal" fill="#111"  >Photon energy (eV)</text>
<g transform="translate(314.6,140.2) rotate(-90)" fill="#111"><text x="0" y="0" font-size="15.5">E</text><text x="10.2" y="4.5" font-size="8.5">U</text><text x="16" y="-5.3" font-size="8.8">app</text><text x="35" y="0" font-size="15">(meV)</text></g>
<g clip-path="url(#clipb)">
<polyline points="411.70,21.00 418.00,40.00 424.20,57.60 431.00,70.00 438.40,83.40 444.00,87.00 450.10,90.10 458.00,94.00 466.00,96.00 474.00,96.50 483.50,95.00 490.00,94.00 496.80,92.00 501.70,90.00 510.00,85.00 520.00,78.00 528.00,70.00 535.00,61.70 543.00,46.00 551.80,29.20 553.50,21.00" stroke="#8c8ca6" stroke-width="1.8" fill="none" stroke-linejoin="round" stroke-linecap="round" style="stroke-linejoin:miter"/>
<polyline points="409.20,21.00 416.00,45.00 424.20,70.90 431.00,79.00 438.40,86.80 445.00,91.00 451.70,94.00 461.00,96.00 468.40,96.50 476.00,96.00 483.50,94.00 490.00,92.00 496.80,89.00 501.70,86.00 510.00,80.00 520.00,73.40 528.00,60.00 535.00,48.40 540.00,35.00 545.00,21.00" stroke="#9b4a33" stroke-width="1.8" fill="none" stroke-linejoin="round" stroke-linecap="round" style="stroke-linejoin:miter"/>
<polyline points="389.00,21.00 392.00,33.00 395.90,44.20 402.00,50.00 409.20,55.10 416.00,67.00 424.20,82.60 433.00,90.00 442.00,94.50 451.70,97.00 461.00,98.00 468.40,97.50 476.00,96.00 483.50,93.00 490.00,90.00 496.80,86.00 501.70,83.40 510.00,74.00 518.40,65.00 526.00,50.00 534.30,33.40 538.40,21.00" stroke="#1f9478" stroke-width="1.8" fill="none" stroke-linejoin="round" stroke-linecap="round" style="stroke-linejoin:miter"/>
<polyline points="387.50,21.00 391.00,38.00 394.20,52.60 401.00,65.00 409.20,75.00 416.00,80.00 423.00,84.00 433.00,88.50 442.00,92.00 451.70,94.00 461.00,94.50 468.40,94.00 476.00,92.00 483.50,87.00 490.00,82.00 496.80,76.00 501.70,71.80 510.00,60.00 518.40,48.40 523.00,35.00 527.60,21.00" stroke="#8e3a26" stroke-width="1.8" fill="none" stroke-linejoin="round" stroke-linecap="round" style="stroke-linejoin:miter"/>
<polyline points="391.00,21.00 395.00,33.00 400.00,45.00 405.00,55.00 410.00,65.00 417.00,76.00 424.00,84.00 433.00,87.50 442.00,90.00 451.70,91.50 461.00,92.00 468.40,91.50 476.00,89.00 483.50,86.00 490.00,81.00 496.80,75.00 501.70,71.00 510.00,59.00 518.40,48.40 523.00,35.00 526.50,21.00" stroke="#e5892a" stroke-width="2.2" fill="none" stroke-linejoin="round" stroke-linecap="round" style="stroke-linejoin:miter"/>
<polyline points="385.80,21.00 390.00,40.00 395.90,59.20 402.00,69.00 409.20,77.60 416.00,82.00 423.40,85.10 433.00,88.50 442.00,90.50 451.70,91.50 461.00,91.50 468.40,91.00 476.00,88.00 483.50,83.50 490.00,79.00 496.80,72.00 501.70,67.00 509.00,54.00 516.70,40.00 521.00,29.00 524.20,21.00" stroke="#3553a8" stroke-width="1.8" fill="none" stroke-linejoin="round" stroke-linecap="round" style="stroke-linejoin:miter"/>
<polyline points="393.40,21.00 398.00,35.00 403.40,49.20 410.00,63.00 416.00,74.00 424.00,82.60 433.00,86.50 442.00,88.50 451.70,89.70 461.00,89.80 468.40,89.20 476.00,86.50 483.50,82.50 490.00,78.00 496.80,70.90 502.00,65.00 510.00,52.00 516.70,40.00 520.00,31.00 523.50,21.00" stroke="#111111" stroke-width="1.8" fill="none" stroke-linejoin="round" stroke-linecap="round" style="stroke-linejoin:miter"/>
</g>
<rect x="343.20" y="71.10" width="57.70" height="102.20" fill="#fff" stroke="#9a9a9a" stroke-width="1" />
<line x1="344.20" y1="78.30" x2="369.20" y2="78.30" stroke="#111111" stroke-width="2.2" />
<text x="371.70" y="81.90" font-size="10.5" fill="#15153a">Cs<tspan font-size="7.2" dy="2.6">0</tspan></text>
<line x1="344.20" y1="92.70" x2="369.20" y2="92.70" stroke="#3553a8" stroke-width="2.2" />
<text x="371.70" y="96.30" font-size="10.5" fill="#15153a">Cs<tspan font-size="7.2" dy="2.6">0.05</tspan></text>
<line x1="344.20" y1="107.10" x2="369.20" y2="107.10" stroke="#8e3a26" stroke-width="2.2" />
<text x="371.70" y="110.70" font-size="10.5" fill="#15153a">Cs<tspan font-size="7.2" dy="2.6">0.1</tspan></text>
<line x1="344.20" y1="121.50" x2="369.20" y2="121.50" stroke="#1f9478" stroke-width="2.2" />
<text x="371.70" y="125.10" font-size="10.5" fill="#15153a">Cs<tspan font-size="7.2" dy="2.6">0.15</tspan></text>
<line x1="344.20" y1="135.90" x2="369.20" y2="135.90" stroke="#9b4a33" stroke-width="2.2" />
<text x="371.70" y="139.50" font-size="10.5" fill="#15153a">Cs<tspan font-size="7.2" dy="2.6">0.2</tspan></text>
<line x1="344.20" y1="150.30" x2="369.20" y2="150.30" stroke="#8c8ca6" stroke-width="2.2" />
<text x="371.70" y="153.90" font-size="10.5" fill="#15153a">Cs<tspan font-size="7.2" dy="2.6">0.25</tspan></text>
<line x1="344.20" y1="164.70" x2="369.20" y2="164.70" stroke="#e5892a" stroke-width="2.2" />
<text x="371.70" y="168.30" font-size="10.5" fill="#15153a">Cs<tspan font-size="7.2" dy="2.6">0.3</tspan></text>
<rect x="451.70" y="102.60" width="97.70" height="73.80" fill="#fff" stroke="none" stroke-width="1" />
<line x1="452.70" y1="165.86" x2="548.40" y2="165.86" stroke="#d0d4e6" stroke-width="0.7" stroke-dasharray="1,2"/>
<line x1="452.70" y1="155.32" x2="548.40" y2="155.32" stroke="#d0d4e6" stroke-width="0.7" stroke-dasharray="1,2"/>
<line x1="452.70" y1="144.78" x2="548.40" y2="144.78" stroke="#d0d4e6" stroke-width="0.7" stroke-dasharray="1,2"/>
<line x1="452.70" y1="134.24" x2="548.40" y2="134.24" stroke="#d0d4e6" stroke-width="0.7" stroke-dasharray="1,2"/>
<line x1="452.70" y1="123.70" x2="548.40" y2="123.70" stroke="#d0d4e6" stroke-width="0.7" stroke-dasharray="1,2"/>
<line x1="452.70" y1="113.16" x2="548.40" y2="113.16" stroke="#d0d4e6" stroke-width="0.7" stroke-dasharray="1,2"/>
<rect x="451.70" y="102.60" width="97.70" height="73.80" fill="none" stroke="#808080" stroke-width="1" />
<line x1="451.70" y1="176.40" x2="453.70" y2="176.40" stroke="#606060" stroke-width="0.8" />
<line x1="549.40" y1="176.40" x2="547.40" y2="176.40" stroke="#606060" stroke-width="0.8" />
<text x="450.20" y="179.20" font-size="7.8" text-anchor="end" font-weight="normal" fill="#222"  >8</text>
<line x1="451.70" y1="165.86" x2="453.70" y2="165.86" stroke="#606060" stroke-width="0.8" />
<line x1="549.40" y1="165.86" x2="547.40" y2="165.86" stroke="#606060" stroke-width="0.8" />
<text x="450.20" y="168.66" font-size="7.8" text-anchor="end" font-weight="normal" fill="#222"  >9</text>
<line x1="451.70" y1="155.32" x2="453.70" y2="155.32" stroke="#606060" stroke-width="0.8" />
<line x1="549.40" y1="155.32" x2="547.40" y2="155.32" stroke="#606060" stroke-width="0.8" />
<text x="450.20" y="158.12" font-size="7.8" text-anchor="end" font-weight="normal" fill="#222"  >10</text>
<line x1="451.70" y1="144.78" x2="453.70" y2="144.78" stroke="#606060" stroke-width="0.8" />
<line x1="549.40" y1="144.78" x2="547.40" y2="144.78" stroke="#606060" stroke-width="0.8" />
<text x="450.20" y="147.58" font-size="7.8" text-anchor="end" font-weight="normal" fill="#222"  >11</text>
<line x1="451.70" y1="134.24" x2="453.70" y2="134.24" stroke="#606060" stroke-width="0.8" />
<line x1="549.40" y1="134.24" x2="547.40" y2="134.24" stroke="#606060" stroke-width="0.8" />
<text x="450.20" y="137.04" font-size="7.8" text-anchor="end" font-weight="normal" fill="#222"  >12</text>
<line x1="451.70" y1="123.70" x2="453.70" y2="123.70" stroke="#606060" stroke-width="0.8" />
<line x1="549.40" y1="123.70" x2="547.40" y2="123.70" stroke="#606060" stroke-width="0.8" />
<text x="450.20" y="126.50" font-size="7.8" text-anchor="end" font-weight="normal" fill="#222"  >13</text>
<line x1="451.70" y1="113.16" x2="453.70" y2="113.16" stroke="#606060" stroke-width="0.8" />
<line x1="549.40" y1="113.16" x2="547.40" y2="113.16" stroke="#606060" stroke-width="0.8" />
<text x="450.20" y="115.96" font-size="7.8" text-anchor="end" font-weight="normal" fill="#222"  >14</text>
<line x1="451.70" y1="102.62" x2="453.70" y2="102.62" stroke="#606060" stroke-width="0.8" />
<line x1="549.40" y1="102.62" x2="547.40" y2="102.62" stroke="#606060" stroke-width="0.8" />
<text x="450.20" y="105.42" font-size="7.8" text-anchor="end" font-weight="normal" fill="#222"  >15</text>
<line x1="458.90" y1="176.40" x2="458.90" y2="174.40" stroke="#606060" stroke-width="0.8" />
<line x1="458.90" y1="102.60" x2="458.90" y2="104.60" stroke="#606060" stroke-width="0.8" />
<text x="458.90" y="184.60" font-size="8.2" text-anchor="middle" font-weight="normal" fill="#222"  >0</text>
<line x1="472.88" y1="176.40" x2="472.88" y2="174.40" stroke="#606060" stroke-width="0.8" />
<line x1="472.88" y1="102.60" x2="472.88" y2="104.60" stroke="#606060" stroke-width="0.8" />
<text x="472.88" y="184.60" font-size="8.2" text-anchor="middle" font-weight="normal" fill="#222"  >5</text>
<line x1="486.87" y1="176.40" x2="486.87" y2="174.40" stroke="#606060" stroke-width="0.8" />
<line x1="486.87" y1="102.60" x2="486.87" y2="104.60" stroke="#606060" stroke-width="0.8" />
<text x="486.87" y="184.60" font-size="8.2" text-anchor="middle" font-weight="normal" fill="#222"  >10</text>
<line x1="500.85" y1="176.40" x2="500.85" y2="174.40" stroke="#606060" stroke-width="0.8" />
<line x1="500.85" y1="102.60" x2="500.85" y2="104.60" stroke="#606060" stroke-width="0.8" />
<text x="500.85" y="184.60" font-size="8.2" text-anchor="middle" font-weight="normal" fill="#222"  >15</text>
<line x1="514.83" y1="176.40" x2="514.83" y2="174.40" stroke="#606060" stroke-width="0.8" />
<line x1="514.83" y1="102.60" x2="514.83" y2="104.60" stroke="#606060" stroke-width="0.8" />
<text x="514.83" y="184.60" font-size="8.2" text-anchor="middle" font-weight="normal" fill="#222"  >20</text>
<line x1="528.82" y1="176.40" x2="528.82" y2="174.40" stroke="#606060" stroke-width="0.8" />
<line x1="528.82" y1="102.60" x2="528.82" y2="104.60" stroke="#606060" stroke-width="0.8" />
<text x="528.82" y="184.60" font-size="8.2" text-anchor="middle" font-weight="normal" fill="#222"  >25</text>
<line x1="542.80" y1="176.40" x2="542.80" y2="174.40" stroke="#606060" stroke-width="0.8" />
<line x1="542.80" y1="102.60" x2="542.80" y2="104.60" stroke="#606060" stroke-width="0.8" />
<text x="542.80" y="184.60" font-size="8.2" text-anchor="middle" font-weight="normal" fill="#222"  >30</text>
<text x="500.50" y="192.60" font-size="8.2" text-anchor="middle" font-weight="normal" fill="#222"  >Cs (mol%)</text>
<g transform="translate(438.6,139.5) rotate(-90)" fill="#1e2a6a"><text x="0" y="0" font-size="8.5" text-anchor="middle">E<tspan font-size="6" dy="1.8">U</tspan><tspan dy="-1.8"> (meV)</tspan></text></g>
<line x1="458.90" y1="122.65" x2="458.90" y2="144.78" stroke="#808080" stroke-width="1.1" />
<line x1="472.88" y1="123.70" x2="472.88" y2="145.83" stroke="#808080" stroke-width="1.1" />
<line x1="486.87" y1="128.44" x2="486.87" y2="150.58" stroke="#808080" stroke-width="1.1" />
<line x1="500.85" y1="132.13" x2="500.85" y2="154.27" stroke="#808080" stroke-width="1.1" />
<line x1="514.83" y1="131.61" x2="514.83" y2="153.74" stroke="#808080" stroke-width="1.1" />
<line x1="528.82" y1="131.61" x2="528.82" y2="153.74" stroke="#808080" stroke-width="1.1" />
<line x1="542.80" y1="126.34" x2="542.80" y2="148.47" stroke="#808080" stroke-width="1.1" />
<rect x="456.30" y="131.11" width="5.20" height="5.20" fill="#e8964a" stroke="#2a2f6a" stroke-width="1" />
<rect x="458.00" y="132.81" width="1.80" height="1.80" fill="#f8d090" stroke="none" stroke-width="1" />
<rect x="470.28" y="132.17" width="5.20" height="5.20" fill="#e8964a" stroke="#2a2f6a" stroke-width="1" />
<rect x="471.98" y="133.87" width="1.80" height="1.80" fill="#f8d090" stroke="none" stroke-width="1" />
<rect x="484.27" y="136.91" width="5.20" height="5.20" fill="#e8964a" stroke="#2a2f6a" stroke-width="1" />
<rect x="485.97" y="138.61" width="1.80" height="1.80" fill="#f8d090" stroke="none" stroke-width="1" />
<rect x="498.25" y="140.60" width="5.20" height="5.20" fill="#e8964a" stroke="#2a2f6a" stroke-width="1" />
<rect x="499.95" y="142.30" width="1.80" height="1.80" fill="#f8d090" stroke="none" stroke-width="1" />
<rect x="512.23" y="140.07" width="5.20" height="5.20" fill="#e8964a" stroke="#2a2f6a" stroke-width="1" />
<rect x="513.93" y="141.77" width="1.80" height="1.80" fill="#f8d090" stroke="none" stroke-width="1" />
<rect x="526.22" y="140.07" width="5.20" height="5.20" fill="#e8964a" stroke="#2a2f6a" stroke-width="1" />
<rect x="527.92" y="141.77" width="1.80" height="1.80" fill="#f8d090" stroke="none" stroke-width="1" />
<rect x="540.20" y="134.80" width="5.20" height="5.20" fill="#e8964a" stroke="#2a2f6a" stroke-width="1" />
<rect x="541.90" y="136.50" width="1.80" height="1.80" fill="#f8d090" stroke="none" stroke-width="1" />
<rect x="337.00" y="21.00" width="233.20" height="174.10" fill="none" stroke="#4a4a4a" stroke-width="1.1" />
<line x1="337.00" y1="195.10" x2="340.50" y2="195.10" stroke="#4a4a4a" stroke-width="1" />
<line x1="570.20" y1="195.10" x2="566.70" y2="195.10" stroke="#4a4a4a" stroke-width="1" />
<line x1="337.00" y1="186.38" x2="339.00" y2="186.38" stroke="#4a4a4a" stroke-width="1" />
<line x1="570.20" y1="186.38" x2="568.20" y2="186.38" stroke="#4a4a4a" stroke-width="1" />
<line x1="337.00" y1="177.66" x2="339.00" y2="177.66" stroke="#4a4a4a" stroke-width="1" />
<line x1="570.20" y1="177.66" x2="568.20" y2="177.66" stroke="#4a4a4a" stroke-width="1" />
<line x1="337.00" y1="168.94" x2="339.00" y2="168.94" stroke="#4a4a4a" stroke-width="1" />
<line x1="570.20" y1="168.94" x2="568.20" y2="168.94" stroke="#4a4a4a" stroke-width="1" />
<line x1="337.00" y1="160.22" x2="339.00" y2="160.22" stroke="#4a4a4a" stroke-width="1" />
<line x1="570.20" y1="160.22" x2="568.20" y2="160.22" stroke="#4a4a4a" stroke-width="1" />
<line x1="337.00" y1="151.50" x2="340.50" y2="151.50" stroke="#4a4a4a" stroke-width="1" />
<line x1="570.20" y1="151.50" x2="566.70" y2="151.50" stroke="#4a4a4a" stroke-width="1" />
<line x1="337.00" y1="142.78" x2="339.00" y2="142.78" stroke="#4a4a4a" stroke-width="1" />
<line x1="570.20" y1="142.78" x2="568.20" y2="142.78" stroke="#4a4a4a" stroke-width="1" />
<line x1="337.00" y1="134.06" x2="339.00" y2="134.06" stroke="#4a4a4a" stroke-width="1" />
<line x1="570.20" y1="134.06" x2="568.20" y2="134.06" stroke="#4a4a4a" stroke-width="1" />
<line x1="337.00" y1="125.34" x2="339.00" y2="125.34" stroke="#4a4a4a" stroke-width="1" />
<line x1="570.20" y1="125.34" x2="568.20" y2="125.34" stroke="#4a4a4a" stroke-width="1" />
<line x1="337.00" y1="116.62" x2="339.00" y2="116.62" stroke="#4a4a4a" stroke-width="1" />
<line x1="570.20" y1="116.62" x2="568.20" y2="116.62" stroke="#4a4a4a" stroke-width="1" />
<line x1="337.00" y1="107.90" x2="340.50" y2="107.90" stroke="#4a4a4a" stroke-width="1" />
<line x1="570.20" y1="107.90" x2="566.70" y2="107.90" stroke="#4a4a4a" stroke-width="1" />
<line x1="337.00" y1="99.18" x2="339.00" y2="99.18" stroke="#4a4a4a" stroke-width="1" />
<line x1="570.20" y1="99.18" x2="568.20" y2="99.18" stroke="#4a4a4a" stroke-width="1" />
<line x1="337.00" y1="90.46" x2="339.00" y2="90.46" stroke="#4a4a4a" stroke-width="1" />
<line x1="570.20" y1="90.46" x2="568.20" y2="90.46" stroke="#4a4a4a" stroke-width="1" />
<line x1="337.00" y1="81.74" x2="339.00" y2="81.74" stroke="#4a4a4a" stroke-width="1" />
<line x1="570.20" y1="81.74" x2="568.20" y2="81.74" stroke="#4a4a4a" stroke-width="1" />
<line x1="337.00" y1="73.02" x2="339.00" y2="73.02" stroke="#4a4a4a" stroke-width="1" />
<line x1="570.20" y1="73.02" x2="568.20" y2="73.02" stroke="#4a4a4a" stroke-width="1" />
<line x1="337.00" y1="64.30" x2="340.50" y2="64.30" stroke="#4a4a4a" stroke-width="1" />
<line x1="570.20" y1="64.30" x2="566.70" y2="64.30" stroke="#4a4a4a" stroke-width="1" />
<line x1="337.00" y1="55.58" x2="339.00" y2="55.58" stroke="#4a4a4a" stroke-width="1" />
<line x1="570.20" y1="55.58" x2="568.20" y2="55.58" stroke="#4a4a4a" stroke-width="1" />
<line x1="337.00" y1="46.86" x2="339.00" y2="46.86" stroke="#4a4a4a" stroke-width="1" />
<line x1="570.20" y1="46.86" x2="568.20" y2="46.86" stroke="#4a4a4a" stroke-width="1" />
<line x1="337.00" y1="38.14" x2="339.00" y2="38.14" stroke="#4a4a4a" stroke-width="1" />
<line x1="570.20" y1="38.14" x2="568.20" y2="38.14" stroke="#4a4a4a" stroke-width="1" />
<line x1="337.00" y1="29.42" x2="339.00" y2="29.42" stroke="#4a4a4a" stroke-width="1" />
<line x1="570.20" y1="29.42" x2="568.20" y2="29.42" stroke="#4a4a4a" stroke-width="1" />
<line x1="337.00" y1="20.70" x2="340.50" y2="20.70" stroke="#4a4a4a" stroke-width="1" />
<line x1="570.20" y1="20.70" x2="566.70" y2="20.70" stroke="#4a4a4a" stroke-width="1" />
<line x1="337.00" y1="195.10" x2="337.00" y2="191.60" stroke="#4a4a4a" stroke-width="1" />
<line x1="337.00" y1="21.00" x2="337.00" y2="24.50" stroke="#4a4a4a" stroke-width="1" />
<line x1="346.33" y1="195.10" x2="346.33" y2="193.10" stroke="#4a4a4a" stroke-width="1" />
<line x1="346.33" y1="21.00" x2="346.33" y2="23.00" stroke="#4a4a4a" stroke-width="1" />
<line x1="355.66" y1="195.10" x2="355.66" y2="193.10" stroke="#4a4a4a" stroke-width="1" />
<line x1="355.66" y1="21.00" x2="355.66" y2="23.00" stroke="#4a4a4a" stroke-width="1" />
<line x1="364.98" y1="195.10" x2="364.98" y2="193.10" stroke="#4a4a4a" stroke-width="1" />
<line x1="364.98" y1="21.00" x2="364.98" y2="23.00" stroke="#4a4a4a" stroke-width="1" />
<line x1="374.31" y1="195.10" x2="374.31" y2="193.10" stroke="#4a4a4a" stroke-width="1" />
<line x1="374.31" y1="21.00" x2="374.31" y2="23.00" stroke="#4a4a4a" stroke-width="1" />
<line x1="383.64" y1="195.10" x2="383.64" y2="191.60" stroke="#4a4a4a" stroke-width="1" />
<line x1="383.64" y1="21.00" x2="383.64" y2="24.50" stroke="#4a4a4a" stroke-width="1" />
<line x1="392.97" y1="195.10" x2="392.97" y2="193.10" stroke="#4a4a4a" stroke-width="1" />
<line x1="392.97" y1="21.00" x2="392.97" y2="23.00" stroke="#4a4a4a" stroke-width="1" />
<line x1="402.30" y1="195.10" x2="402.30" y2="193.10" stroke="#4a4a4a" stroke-width="1" />
<line x1="402.30" y1="21.00" x2="402.30" y2="23.00" stroke="#4a4a4a" stroke-width="1" />
<line x1="411.62" y1="195.10" x2="411.62" y2="193.10" stroke="#4a4a4a" stroke-width="1" />
<line x1="411.62" y1="21.00" x2="411.62" y2="23.00" stroke="#4a4a4a" stroke-width="1" />
<line x1="420.95" y1="195.10" x2="420.95" y2="193.10" stroke="#4a4a4a" stroke-width="1" />
<line x1="420.95" y1="21.00" x2="420.95" y2="23.00" stroke="#4a4a4a" stroke-width="1" />
<line x1="430.28" y1="195.10" x2="430.28" y2="191.60" stroke="#4a4a4a" stroke-width="1" />
<line x1="430.28" y1="21.00" x2="430.28" y2="24.50" stroke="#4a4a4a" stroke-width="1" />
<line x1="439.61" y1="195.10" x2="439.61" y2="193.10" stroke="#4a4a4a" stroke-width="1" />
<line x1="439.61" y1="21.00" x2="439.61" y2="23.00" stroke="#4a4a4a" stroke-width="1" />
<line x1="448.94" y1="195.10" x2="448.94" y2="193.10" stroke="#4a4a4a" stroke-width="1" />
<line x1="448.94" y1="21.00" x2="448.94" y2="23.00" stroke="#4a4a4a" stroke-width="1" />
<line x1="458.26" y1="195.10" x2="458.26" y2="193.10" stroke="#4a4a4a" stroke-width="1" />
<line x1="458.26" y1="21.00" x2="458.26" y2="23.00" stroke="#4a4a4a" stroke-width="1" />
<line x1="467.59" y1="195.10" x2="467.59" y2="193.10" stroke="#4a4a4a" stroke-width="1" />
<line x1="467.59" y1="21.00" x2="467.59" y2="23.00" stroke="#4a4a4a" stroke-width="1" />
<line x1="476.92" y1="195.10" x2="476.92" y2="191.60" stroke="#4a4a4a" stroke-width="1" />
<line x1="476.92" y1="21.00" x2="476.92" y2="24.50" stroke="#4a4a4a" stroke-width="1" />
<line x1="486.25" y1="195.10" x2="486.25" y2="193.10" stroke="#4a4a4a" stroke-width="1" />
<line x1="486.25" y1="21.00" x2="486.25" y2="23.00" stroke="#4a4a4a" stroke-width="1" />
<line x1="495.58" y1="195.10" x2="495.58" y2="193.10" stroke="#4a4a4a" stroke-width="1" />
<line x1="495.58" y1="21.00" x2="495.58" y2="23.00" stroke="#4a4a4a" stroke-width="1" />
<line x1="504.90" y1="195.10" x2="504.90" y2="193.10" stroke="#4a4a4a" stroke-width="1" />
<line x1="504.90" y1="21.00" x2="504.90" y2="23.00" stroke="#4a4a4a" stroke-width="1" />
<line x1="514.23" y1="195.10" x2="514.23" y2="193.10" stroke="#4a4a4a" stroke-width="1" />
<line x1="514.23" y1="21.00" x2="514.23" y2="23.00" stroke="#4a4a4a" stroke-width="1" />
<line x1="523.56" y1="195.10" x2="523.56" y2="191.60" stroke="#4a4a4a" stroke-width="1" />
<line x1="523.56" y1="21.00" x2="523.56" y2="24.50" stroke="#4a4a4a" stroke-width="1" />
<line x1="532.89" y1="195.10" x2="532.89" y2="193.10" stroke="#4a4a4a" stroke-width="1" />
<line x1="532.89" y1="21.00" x2="532.89" y2="23.00" stroke="#4a4a4a" stroke-width="1" />
<line x1="542.22" y1="195.10" x2="542.22" y2="193.10" stroke="#4a4a4a" stroke-width="1" />
<line x1="542.22" y1="21.00" x2="542.22" y2="23.00" stroke="#4a4a4a" stroke-width="1" />
<line x1="551.54" y1="195.10" x2="551.54" y2="193.10" stroke="#4a4a4a" stroke-width="1" />
<line x1="551.54" y1="21.00" x2="551.54" y2="23.00" stroke="#4a4a4a" stroke-width="1" />
<line x1="560.87" y1="195.10" x2="560.87" y2="193.10" stroke="#4a4a4a" stroke-width="1" />
<line x1="560.87" y1="21.00" x2="560.87" y2="23.00" stroke="#4a4a4a" stroke-width="1" />
<line x1="570.20" y1="195.10" x2="570.20" y2="191.60" stroke="#4a4a4a" stroke-width="1" />
<line x1="570.20" y1="21.00" x2="570.20" y2="24.50" stroke="#4a4a4a" stroke-width="1" />
<g clip-path="url(#clipafm0)">
<g filter="url(#blgrid)"><rect x="-5.7" y="255.2" width="36.8" height="36.5" fill="#319dd8"/><rect x="30.6" y="255.2" width="24.8" height="36.5" fill="#32b2c8"/><rect x="54.9" y="255.2" width="24.8" height="36.5" fill="#49b7aa"/><rect x="79.2" y="255.2" width="24.8" height="36.5" fill="#32b2c8"/><rect x="103.5" y="255.2" width="24.8" height="36.5" fill="#319dd8"/><rect x="127.9" y="255.2" width="24.8" height="36.5" fill="#32b2c8"/><rect x="152.2" y="255.2" width="24.8" height="36.5" fill="#32b2c8"/><rect x="176.5" y="255.2" width="36.8" height="36.5" fill="#49b7aa"/><rect x="-5.7" y="291.2" width="36.8" height="24.5" fill="#49b7aa"/><rect x="30.6" y="291.2" width="24.8" height="24.5" fill="#49b7aa"/><rect x="54.9" y="291.2" width="24.8" height="24.5" fill="#49b7aa"/><rect x="79.2" y="291.2" width="24.8" height="24.5" fill="#319dd8"/><rect x="103.5" y="291.2" width="24.8" height="24.5" fill="#319dd8"/><rect x="127.9" y="291.2" width="24.8" height="24.5" fill="#319dd8"/><rect x="152.2" y="291.2" width="24.8" height="24.5" fill="#32b2c8"/><rect x="176.5" y="291.2" width="36.8" height="24.5" fill="#67bc86"/><rect x="-5.7" y="315.3" width="36.8" height="24.5" fill="#32b2c8"/><rect x="30.6" y="315.3" width="24.8" height="24.5" fill="#49b7aa"/><rect x="54.9" y="315.3" width="24.8" height="24.5" fill="#3f79ce"/><rect x="79.2" y="315.3" width="24.8" height="24.5" fill="#49b7aa"/><rect x="103.5" y="315.3" width="24.8" height="24.5" fill="#3f79ce"/><rect x="127.9" y="315.3" width="24.8" height="24.5" fill="#32b2c8"/><rect x="152.2" y="315.3" width="24.8" height="24.5" fill="#319dd8"/><rect x="176.5" y="315.3" width="36.8" height="24.5" fill="#32b2c8"/><rect x="-5.7" y="339.3" width="36.8" height="24.5" fill="#67bc86"/><rect x="30.6" y="339.3" width="24.8" height="24.5" fill="#319dd8"/><rect x="54.9" y="339.3" width="24.8" height="24.5" fill="#49b7aa"/><rect x="79.2" y="339.3" width="24.8" height="24.5" fill="#49b7aa"/><rect x="103.5" y="339.3" width="24.8" height="24.5" fill="#4757b6"/><rect x="127.9" y="339.3" width="24.8" height="24.5" fill="#32b2c8"/><rect x="152.2" y="339.3" width="24.8" height="24.5" fill="#67bc86"/><rect x="176.5" y="339.3" width="36.8" height="24.5" fill="#319dd8"/><rect x="-5.7" y="363.4" width="36.8" height="24.5" fill="#32b2c8"/><rect x="30.6" y="363.4" width="24.8" height="24.5" fill="#49b7aa"/><rect x="54.9" y="363.4" width="24.8" height="24.5" fill="#319dd8"/><rect x="79.2" y="363.4" width="24.8" height="24.5" fill="#49b7aa"/><rect x="103.5" y="363.4" width="24.8" height="24.5" fill="#91c260"/><rect x="127.9" y="363.4" width="24.8" height="24.5" fill="#48a2ba"/><rect x="152.2" y="363.4" width="24.8" height="24.5" fill="#3f79ce"/><rect x="176.5" y="363.4" width="36.8" height="24.5" fill="#49b7aa"/><rect x="-5.7" y="387.4" width="36.8" height="24.5" fill="#49b7aa"/><rect x="30.6" y="387.4" width="24.8" height="24.5" fill="#3f79ce"/><rect x="54.9" y="387.4" width="24.8" height="24.5" fill="#32b2c8"/><rect x="79.2" y="387.4" width="24.8" height="24.5" fill="#80be76"/><rect x="103.5" y="387.4" width="24.8" height="24.5" fill="#80be76"/><rect x="127.9" y="387.4" width="24.8" height="24.5" fill="#49b7aa"/><rect x="152.2" y="387.4" width="24.8" height="24.5" fill="#32b2c8"/><rect x="176.5" y="387.4" width="36.8" height="24.5" fill="#49b7aa"/><rect x="-5.7" y="411.5" width="36.8" height="36.5" fill="#49b7aa"/><rect x="30.6" y="411.5" width="24.8" height="36.5" fill="#319dd8"/><rect x="54.9" y="411.5" width="24.8" height="36.5" fill="#32b2c8"/><rect x="79.2" y="411.5" width="24.8" height="36.5" fill="#49b7aa"/><rect x="103.5" y="411.5" width="24.8" height="36.5" fill="#67bc86"/><rect x="127.9" y="411.5" width="24.8" height="36.5" fill="#32b2c8"/><rect x="152.2" y="411.5" width="24.8" height="36.5" fill="#32b2c8"/><rect x="176.5" y="411.5" width="36.8" height="36.5" fill="#49b7aa"/></g>
<g filter="url(#afmsoft)" opacity="0.6"><ellipse cx="119.4" cy="307.9" rx="14.7" ry="39.3" transform="rotate(0 119.4 307.9)" fill="#2ab0d6" fill-opacity="1"/><ellipse cx="184.8" cy="271.9" rx="16.4" ry="4.9" transform="rotate(0 184.8 271.9)" fill="#2ab0d6" fill-opacity="1"/><ellipse cx="22.4" cy="307.9" rx="18.0" ry="6.5" transform="rotate(0 22.4 307.9)" fill="#2ab0d6" fill-opacity="1"/><ellipse cx="22.4" cy="375.5" rx="16.4" ry="24.5" transform="rotate(0 22.4 375.5)" fill="#2ab0d6" fill-opacity="1"/><ellipse cx="74.7" cy="362.5" rx="11.5" ry="11.5" transform="rotate(0 74.7 362.5)" fill="#2ab0d6" fill-opacity="1"/><ellipse cx="71.4" cy="411.5" rx="9.8" ry="8.2" transform="rotate(0 71.4 411.5)" fill="#2ab0d6" fill-opacity="1"/><ellipse cx="152.1" cy="360.8" rx="49.1" ry="8.2" transform="rotate(0 152.1 360.8)" fill="#2ab0d6" fill-opacity="1"/><ellipse cx="168.4" cy="400.1" rx="32.7" ry="8.2" transform="rotate(0 168.4 400.1)" fill="#3ab8b4" fill-opacity="1"/><ellipse cx="122.6" cy="427.9" rx="19.6" ry="6.5" transform="rotate(0 122.6 427.9)" fill="#3ab8b4" fill-opacity="1"/><ellipse cx="146.4" cy="303.0" rx="18.0" ry="8.2" transform="rotate(30 146.4 303.0)" fill="#3b8cd8" fill-opacity="0.95"/><ellipse cx="158.6" cy="311.2" rx="6.5" ry="6.5" transform="rotate(0 158.6 311.2)" fill="#3b8cd8" fill-opacity="0.95"/><ellipse cx="166.8" cy="333.3" rx="9.8" ry="5.7" transform="rotate(0 166.8 333.3)" fill="#3b8cd8" fill-opacity="0.95"/><ellipse cx="187.3" cy="343.9" rx="13.9" ry="8.2" transform="rotate(0 187.3 343.9)" fill="#3b8cd8" fill-opacity="0.95"/><ellipse cx="191.4" cy="311.2" rx="9.8" ry="4.9" transform="rotate(-20 191.4 311.2)" fill="#3b8cd8" fill-opacity="0.95"/><ellipse cx="15.8" cy="276.8" rx="9.8" ry="8.2" transform="rotate(0 15.8 276.8)" fill="#3b8cd8" fill-opacity="0.95"/><ellipse cx="38.7" cy="286.6" rx="16.4" ry="6.5" transform="rotate(20 38.7 286.6)" fill="#3b8cd8" fill-opacity="0.95"/><ellipse cx="91.1" cy="299.7" rx="14.7" ry="14.7" transform="rotate(0 91.1 299.7)" fill="#3b8cd8" fill-opacity="0.95"/><ellipse cx="27.3" cy="306.3" rx="9.8" ry="4.1" transform="rotate(0 27.3 306.3)" fill="#3b8cd8" fill-opacity="0.95"/><ellipse cx="60.0" cy="325.9" rx="6.5" ry="14.7" transform="rotate(10 60.0 325.9)" fill="#3b8cd8" fill-opacity="0.95"/><ellipse cx="71.4" cy="339.0" rx="9.8" ry="6.5" transform="rotate(30 71.4 339.0)" fill="#3b8cd8" fill-opacity="0.95"/><ellipse cx="86.2" cy="325.9" rx="8.2" ry="9.8" transform="rotate(-20 86.2 325.9)" fill="#3b8cd8" fill-opacity="0.95"/><ellipse cx="46.9" cy="345.5" rx="13.1" ry="6.5" transform="rotate(0 46.9 345.5)" fill="#3b8cd8" fill-opacity="0.95"/><ellipse cx="64.9" cy="390.3" rx="9.8" ry="9.8" transform="rotate(0 64.9 390.3)" fill="#3b8cd8" fill-opacity="0.95"/><ellipse cx="48.5" cy="408.3" rx="14.7" ry="13.1" transform="rotate(0 48.5 408.3)" fill="#3b8cd8" fill-opacity="0.95"/><ellipse cx="89.4" cy="391.9" rx="14.7" ry="14.7" transform="rotate(0 89.4 391.9)" fill="#3b8cd8" fill-opacity="0.95"/><ellipse cx="63.3" cy="426.3" rx="29.5" ry="5.7" transform="rotate(0 63.3 426.3)" fill="#3b8cd8" fill-opacity="0.95"/><ellipse cx="25.6" cy="391.9" rx="4.9" ry="6.5" transform="rotate(0 25.6 391.9)" fill="#3b8cd8" fill-opacity="0.95"/><ellipse cx="27.3" cy="372.3" rx="4.9" ry="3.3" transform="rotate(0 27.3 372.3)" fill="#3b8cd8" fill-opacity="0.95"/><ellipse cx="158.6" cy="385.4" rx="18.0" ry="11.5" transform="rotate(-10 158.6 385.4)" fill="#3b8cd8" fill-opacity="0.95"/><ellipse cx="143.9" cy="409.9" rx="9.8" ry="6.5" transform="rotate(0 143.9 409.9)" fill="#3b8cd8" fill-opacity="0.95"/><ellipse cx="152.1" cy="280.1" rx="16.4" ry="9.8" transform="rotate(0 152.1 280.1)" fill="#62bc86" fill-opacity="0.9"/><ellipse cx="146.4" cy="324.3" rx="10.6" ry="8.2" transform="rotate(0 146.4 324.3)" fill="#62bc86" fill-opacity="0.9"/><ellipse cx="193.0" cy="326.7" rx="8.2" ry="5.7" transform="rotate(0 193.0 326.7)" fill="#62bc86" fill-opacity="0.9"/><ellipse cx="55.1" cy="276.8" rx="14.7" ry="6.5" transform="rotate(0 55.1 276.8)" fill="#62bc86" fill-opacity="0.9"/><ellipse cx="84.5" cy="273.5" rx="13.1" ry="5.7" transform="rotate(0 84.5 273.5)" fill="#62bc86" fill-opacity="0.9"/><ellipse cx="25.6" cy="324.3" rx="19.6" ry="9.8" transform="rotate(0 25.6 324.3)" fill="#62bc86" fill-opacity="0.9"/><ellipse cx="22.4" cy="343.9" rx="16.4" ry="8.2" transform="rotate(0 22.4 343.9)" fill="#62bc86" fill-opacity="0.9"/><ellipse cx="91.1" cy="343.9" rx="13.1" ry="8.2" transform="rotate(0 91.1 343.9)" fill="#62bc86" fill-opacity="0.9"/><ellipse cx="78.0" cy="316.1" rx="6.5" ry="6.5" transform="rotate(0 78.0 316.1)" fill="#62bc86" fill-opacity="0.9"/><ellipse cx="46.9" cy="362.5" rx="13.1" ry="11.5" transform="rotate(0 46.9 362.5)" fill="#62bc86" fill-opacity="0.9"/><ellipse cx="17.5" cy="413.2" rx="13.1" ry="11.5" transform="rotate(0 17.5 413.2)" fill="#62bc86" fill-opacity="0.9"/><ellipse cx="87.8" cy="408.3" rx="9.8" ry="8.2" transform="rotate(0 87.8 408.3)" fill="#62bc86" fill-opacity="0.9"/><ellipse cx="119.4" cy="391.9" rx="18.0" ry="24.5" transform="rotate(0 119.4 391.9)" fill="#62bc86" fill-opacity="0.9"/><ellipse cx="191.4" cy="380.5" rx="9.8" ry="14.7" transform="rotate(0 191.4 380.5)" fill="#62bc86" fill-opacity="0.9"/><ellipse cx="176.6" cy="424.6" rx="24.5" ry="9.8" transform="rotate(0 176.6 424.6)" fill="#62bc86" fill-opacity="0.9"/></g><g filter="url(#afmhard)" opacity="0.95"><ellipse cx="177.4" cy="309.5" rx="6.3" ry="5.6" transform="rotate(-30 177.4 309.5)" fill="#a6c24c" fill-opacity="0.8"/><ellipse cx="191.4" cy="289.1" rx="8.3" ry="4.9" transform="rotate(-25 191.4 289.1)" fill="#a6c24c" fill-opacity="0.8"/><ellipse cx="130.8" cy="314.4" rx="4.2" ry="4.2" transform="rotate(0 130.8 314.4)" fill="#a6c24c" fill-opacity="0.8"/><ellipse cx="149.6" cy="336.5" rx="4.9" ry="3.5" transform="rotate(0 149.6 336.5)" fill="#a6c24c" fill-opacity="0.8"/><ellipse cx="68.2" cy="290.7" rx="9.7" ry="6.3" transform="rotate(-20 68.2 290.7)" fill="#a6c24c" fill-opacity="0.8"/><ellipse cx="47.7" cy="311.2" rx="4.9" ry="3.5" transform="rotate(-30 47.7 311.2)" fill="#a6c24c" fill-opacity="0.8"/><ellipse cx="15.8" cy="332.4" rx="5.6" ry="2.8" transform="rotate(0 15.8 332.4)" fill="#a6c24c" fill-opacity="0.8"/><ellipse cx="97.6" cy="337.4" rx="5.6" ry="5.6" transform="rotate(0 97.6 337.4)" fill="#a6c24c" fill-opacity="0.8"/><ellipse cx="96.0" cy="359.2" rx="8.3" ry="5.6" transform="rotate(0 96.0 359.2)" fill="#a6c24c" fill-opacity="0.8"/><ellipse cx="78.0" cy="380.5" rx="5.6" ry="2.8" transform="rotate(30 78.0 380.5)" fill="#a6c24c" fill-opacity="0.8"/><ellipse cx="89.4" cy="427.9" rx="4.2" ry="3.5" transform="rotate(0 89.4 427.9)" fill="#a6c24c" fill-opacity="0.8"/><ellipse cx="125.9" cy="381.3" rx="11.1" ry="7.6" transform="rotate(0 125.9 381.3)" fill="#a6c24c" fill-opacity="0.8"/><ellipse cx="112.8" cy="400.1" rx="7.0" ry="12.5" transform="rotate(10 112.8 400.1)" fill="#a6c24c" fill-opacity="0.8"/><ellipse cx="168.4" cy="355.1" rx="3.5" ry="4.9" transform="rotate(0 168.4 355.1)" fill="#a6c24c" fill-opacity="0.8"/><ellipse cx="119.4" cy="432.8" rx="7.0" ry="2.1" transform="rotate(0 119.4 432.8)" fill="#a6c24c" fill-opacity="0.8"/><ellipse cx="194.6" cy="431.2" rx="5.6" ry="2.8" transform="rotate(0 194.6 431.2)" fill="#a6c24c" fill-opacity="0.8"/><ellipse cx="30.5" cy="364.1" rx="6.2" ry="3.1" transform="rotate(-20 30.5 364.1)" fill="#4a66c2" fill-opacity="0.85"/><ellipse cx="92.7" cy="377.2" rx="4.7" ry="4.7" transform="rotate(0 92.7 377.2)" fill="#4a66c2" fill-opacity="0.85"/><ellipse cx="84.5" cy="391.9" rx="3.1" ry="3.1" transform="rotate(0 84.5 391.9)" fill="#4a66c2" fill-opacity="0.85"/><ellipse cx="32.2" cy="426.3" rx="3.1" ry="2.3" transform="rotate(0 32.2 426.3)" fill="#4a66c2" fill-opacity="0.85"/><ellipse cx="188.1" cy="385.4" rx="3.9" ry="2.3" transform="rotate(0 188.1 385.4)" fill="#4a66c2" fill-opacity="0.85"/><ellipse cx="135.7" cy="413.2" rx="3.1" ry="3.1" transform="rotate(0 135.7 413.2)" fill="#4a66c2" fill-opacity="0.85"/><ellipse cx="173.4" cy="407.4" rx="4.7" ry="2.3" transform="rotate(0 173.4 407.4)" fill="#4a66c2" fill-opacity="0.85"/><ellipse cx="115.3" cy="281.7" rx="5.7" ry="6.5" transform="rotate(30 115.3 281.7)" fill="#46429f" fill-opacity="0.95"/><ellipse cx="106.3" cy="298.1" rx="4.1" ry="6.5" transform="rotate(0 106.3 298.1)" fill="#46429f" fill-opacity="0.95"/><ellipse cx="139.8" cy="294.8" rx="5.7" ry="3.3" transform="rotate(15 139.8 294.8)" fill="#46429f" fill-opacity="0.95"/><ellipse cx="116.1" cy="314.8" rx="6.5" ry="6.2" transform="rotate(30 116.1 314.8)" fill="#46429f" fill-opacity="0.95"/><ellipse cx="125.9" cy="343.1" rx="9.8" ry="9.0" transform="rotate(0 125.9 343.1)" fill="#46429f" fill-opacity="0.95"/><ellipse cx="15.8" cy="289.9" rx="3.3" ry="4.9" transform="rotate(20 15.8 289.9)" fill="#46429f" fill-opacity="0.95"/><ellipse cx="49.4" cy="289.1" rx="4.1" ry="2.5" transform="rotate(20 49.4 289.1)" fill="#46429f" fill-opacity="0.95"/><ellipse cx="100.9" cy="301.4" rx="3.3" ry="4.9" transform="rotate(0 100.9 301.4)" fill="#46429f" fill-opacity="0.95"/><ellipse cx="91.1" cy="311.2" rx="3.3" ry="4.1" transform="rotate(0 91.1 311.2)" fill="#46429f" fill-opacity="0.95"/><ellipse cx="60.0" cy="326.7" rx="3.3" ry="7.4" transform="rotate(5 60.0 326.7)" fill="#46429f" fill-opacity="0.95"/><ellipse cx="85.4" cy="327.5" rx="4.1" ry="5.7" transform="rotate(-20 85.4 327.5)" fill="#46429f" fill-opacity="0.95"/><ellipse cx="48.5" cy="348.8" rx="4.9" ry="2.5" transform="rotate(0 48.5 348.8)" fill="#46429f" fill-opacity="0.95"/><ellipse cx="60.0" cy="382.9" rx="4.9" ry="2.5" transform="rotate(-15 60.0 382.9)" fill="#46429f" fill-opacity="0.95"/><ellipse cx="66.5" cy="388.6" rx="3.3" ry="2.5" transform="rotate(0 66.5 388.6)" fill="#46429f" fill-opacity="0.95"/><ellipse cx="47.7" cy="409.1" rx="9.8" ry="8.2" transform="rotate(0 47.7 409.1)" fill="#46429f" fill-opacity="0.95"/><ellipse cx="71.4" cy="429.5" rx="4.9" ry="2.5" transform="rotate(0 71.4 429.5)" fill="#46429f" fill-opacity="0.95"/><ellipse cx="122.6" cy="352.6" rx="9.8" ry="3.3" transform="rotate(0 122.6 352.6)" fill="#46429f" fill-opacity="0.95"/><ellipse cx="153.7" cy="385.4" rx="8.2" ry="8.2" transform="rotate(0 153.7 385.4)" fill="#46429f" fill-opacity="0.95"/><ellipse cx="168.4" cy="378.0" rx="8.2" ry="3.3" transform="rotate(-15 168.4 378.0)" fill="#46429f" fill-opacity="0.95"/><ellipse cx="177.4" cy="309.2" rx="3.2" ry="2.3" transform="rotate(-30 177.4 309.2)" fill="#e6c436" fill-opacity="0.95"/><ellipse cx="168.4" cy="347.2" rx="3.8" ry="3.8" transform="rotate(0 168.4 347.2)" fill="#e6c436" fill-opacity="0.95"/><ellipse cx="68.2" cy="289.9" rx="5.7" ry="3.8" transform="rotate(-20 68.2 289.9)" fill="#e6c436" fill-opacity="0.95"/><ellipse cx="34.6" cy="382.9" rx="3.2" ry="2.6" transform="rotate(0 34.6 382.9)" fill="#e6c436" fill-opacity="0.95"/><ellipse cx="19.1" cy="427.9" rx="3.8" ry="2.6" transform="rotate(0 19.1 427.9)" fill="#e6c436" fill-opacity="0.95"/><ellipse cx="45.3" cy="432.8" rx="3.8" ry="1.9" transform="rotate(0 45.3 432.8)" fill="#e6c436" fill-opacity="0.95"/><ellipse cx="127.5" cy="380.5" rx="10.2" ry="6.4" transform="rotate(-10 127.5 380.5)" fill="#e6c436" fill-opacity="0.95"/></g>
</g>
<rect x="6.30" y="267.20" width="194.50" height="168.30" fill="none" stroke="#6a6a6a" stroke-width="0.8" />
<text x="5.70" y="261.40" font-size="14.5" text-anchor="start" font-weight="bold" fill="#111"  >c)</text>
<g clip-path="url(#clipafm1)">
<g filter="url(#blgrid)"><rect x="196.0" y="255.2" width="36.8" height="36.5" fill="#319dd8"/><rect x="232.3" y="255.2" width="24.8" height="36.5" fill="#49b7aa"/><rect x="256.6" y="255.2" width="24.8" height="36.5" fill="#3f79ce"/><rect x="280.9" y="255.2" width="24.8" height="36.5" fill="#91c260"/><rect x="305.2" y="255.2" width="24.8" height="36.5" fill="#49b7aa"/><rect x="329.5" y="255.2" width="24.8" height="36.5" fill="#4757b6"/><rect x="353.8" y="255.2" width="24.8" height="36.5" fill="#49b7aa"/><rect x="378.1" y="255.2" width="36.8" height="36.5" fill="#91c260"/><rect x="196.0" y="291.2" width="36.8" height="24.5" fill="#91c260"/><rect x="232.3" y="291.2" width="24.8" height="24.5" fill="#319dd8"/><rect x="256.6" y="291.2" width="24.8" height="24.5" fill="#3f79ce"/><rect x="280.9" y="291.2" width="24.8" height="24.5" fill="#67bc86"/><rect x="305.2" y="291.2" width="24.8" height="24.5" fill="#67bc86"/><rect x="329.5" y="291.2" width="24.8" height="24.5" fill="#319dd8"/><rect x="353.8" y="291.2" width="24.8" height="24.5" fill="#3f79ce"/><rect x="378.1" y="291.2" width="36.8" height="24.5" fill="#67bc86"/><rect x="196.0" y="315.3" width="36.8" height="24.5" fill="#48a2ba"/><rect x="232.3" y="315.3" width="24.8" height="24.5" fill="#49b7aa"/><rect x="256.6" y="315.3" width="24.8" height="24.5" fill="#49b7aa"/><rect x="280.9" y="315.3" width="24.8" height="24.5" fill="#3f79ce"/><rect x="305.2" y="315.3" width="24.8" height="24.5" fill="#67bc86"/><rect x="329.5" y="315.3" width="24.8" height="24.5" fill="#48a2ba"/><rect x="353.8" y="315.3" width="24.8" height="24.5" fill="#80be76"/><rect x="378.1" y="315.3" width="36.8" height="24.5" fill="#49b7aa"/><rect x="196.0" y="339.3" width="36.8" height="24.5" fill="#4757b6"/><rect x="232.3" y="339.3" width="24.8" height="24.5" fill="#3f79ce"/><rect x="256.6" y="339.3" width="24.8" height="24.5" fill="#c5c445"/><rect x="280.9" y="339.3" width="24.8" height="24.5" fill="#32b2c8"/><rect x="305.2" y="339.3" width="24.8" height="24.5" fill="#48a2ba"/><rect x="329.5" y="339.3" width="24.8" height="24.5" fill="#49b7aa"/><rect x="353.8" y="339.3" width="24.8" height="24.5" fill="#48a2ba"/><rect x="378.1" y="339.3" width="36.8" height="24.5" fill="#49b7aa"/><rect x="196.0" y="363.4" width="36.8" height="24.5" fill="#49b7aa"/><rect x="232.3" y="363.4" width="24.8" height="24.5" fill="#48a2ba"/><rect x="256.6" y="363.4" width="24.8" height="24.5" fill="#48a2ba"/><rect x="280.9" y="363.4" width="24.8" height="24.5" fill="#48a2ba"/><rect x="305.2" y="363.4" width="24.8" height="24.5" fill="#67bc86"/><rect x="329.5" y="363.4" width="24.8" height="24.5" fill="#48a2ba"/><rect x="353.8" y="363.4" width="24.8" height="24.5" fill="#91c260"/><rect x="378.1" y="363.4" width="36.8" height="24.5" fill="#3f79ce"/><rect x="196.0" y="387.4" width="36.8" height="24.5" fill="#4757b6"/><rect x="232.3" y="387.4" width="24.8" height="24.5" fill="#80be76"/><rect x="256.6" y="387.4" width="24.8" height="24.5" fill="#80be76"/><rect x="280.9" y="387.4" width="24.8" height="24.5" fill="#319dd8"/><rect x="305.2" y="387.4" width="24.8" height="24.5" fill="#4757b6"/><rect x="329.5" y="387.4" width="24.8" height="24.5" fill="#67bc86"/><rect x="353.8" y="387.4" width="24.8" height="24.5" fill="#80be76"/><rect x="378.1" y="387.4" width="36.8" height="24.5" fill="#3f79ce"/><rect x="196.0" y="411.5" width="36.8" height="36.5" fill="#80be76"/><rect x="232.3" y="411.5" width="24.8" height="36.5" fill="#3f79ce"/><rect x="256.6" y="411.5" width="24.8" height="36.5" fill="#4d8fb0"/><rect x="280.9" y="411.5" width="24.8" height="36.5" fill="#80be76"/><rect x="305.2" y="411.5" width="24.8" height="36.5" fill="#3f79ce"/><rect x="329.5" y="411.5" width="24.8" height="36.5" fill="#49b7aa"/><rect x="353.8" y="411.5" width="24.8" height="36.5" fill="#49b7aa"/><rect x="378.1" y="411.5" width="36.8" height="36.5" fill="#319dd8"/></g>
<g filter="url(#afmsoft)" opacity="0.6"><ellipse cx="257.1" cy="291.5" rx="24.5" ry="4.1" transform="rotate(0 257.1 291.5)" fill="#2ab0d6" fill-opacity="1"/><ellipse cx="224.4" cy="324.3" rx="9.8" ry="4.9" transform="rotate(0 224.4 324.3)" fill="#2ab0d6" fill-opacity="1"/><ellipse cx="321.4" cy="299.7" rx="8.2" ry="8.2" transform="rotate(0 321.4 299.7)" fill="#2ab0d6" fill-opacity="1"/><ellipse cx="354.1" cy="324.3" rx="49.1" ry="3.3" transform="rotate(0 354.1 324.3)" fill="#2ab0d6" fill-opacity="1"/><ellipse cx="257.1" cy="355.9" rx="9.8" ry="4.9" transform="rotate(0 257.1 355.9)" fill="#2ab0d6" fill-opacity="1"/><ellipse cx="216.2" cy="413.2" rx="9.8" ry="6.5" transform="rotate(0 216.2 413.2)" fill="#2ab0d6" fill-opacity="1"/><ellipse cx="224.4" cy="419.7" rx="13.1" ry="4.9" transform="rotate(0 224.4 419.7)" fill="#2ab0d6" fill-opacity="1"/><ellipse cx="378.6" cy="364.1" rx="8.2" ry="8.2" transform="rotate(0 378.6 364.1)" fill="#2ab0d6" fill-opacity="1"/><ellipse cx="324.6" cy="378.8" rx="19.6" ry="4.9" transform="rotate(0 324.6 378.8)" fill="#2ab0d6" fill-opacity="1"/><ellipse cx="345.9" cy="413.2" rx="13.1" ry="6.5" transform="rotate(0 345.9 413.2)" fill="#2ab0d6" fill-opacity="1"/><ellipse cx="321.4" cy="427.9" rx="8.2" ry="4.9" transform="rotate(0 321.4 427.9)" fill="#2ab0d6" fill-opacity="1"/><ellipse cx="211.3" cy="275.2" rx="4.1" ry="4.9" transform="rotate(0 211.3 275.2)" fill="#3b8cd8" fill-opacity="0.95"/><ellipse cx="227.6" cy="299.7" rx="8.2" ry="4.9" transform="rotate(0 227.6 299.7)" fill="#3b8cd8" fill-opacity="0.95"/><ellipse cx="214.5" cy="314.4" rx="6.5" ry="4.9" transform="rotate(0 214.5 314.4)" fill="#3b8cd8" fill-opacity="0.95"/><ellipse cx="235.8" cy="335.7" rx="8.2" ry="4.9" transform="rotate(-30 235.8 335.7)" fill="#3b8cd8" fill-opacity="0.95"/><ellipse cx="296.4" cy="343.9" rx="8.2" ry="6.5" transform="rotate(0 296.4 343.9)" fill="#3b8cd8" fill-opacity="0.95"/><ellipse cx="311.5" cy="294.8" rx="8.2" ry="6.5" transform="rotate(0 311.5 294.8)" fill="#3b8cd8" fill-opacity="0.95"/><ellipse cx="396.6" cy="340.6" rx="8.2" ry="4.9" transform="rotate(0 396.6 340.6)" fill="#3b8cd8" fill-opacity="0.95"/><ellipse cx="247.3" cy="386.2" rx="9.8" ry="3.3" transform="rotate(-30 247.3 386.2)" fill="#3b8cd8" fill-opacity="0.95"/><ellipse cx="257.1" cy="411.5" rx="18.0" ry="13.1" transform="rotate(-30 257.1 411.5)" fill="#3b8cd8" fill-opacity="0.95"/><ellipse cx="296.4" cy="413.2" rx="9.8" ry="9.8" transform="rotate(0 296.4 413.2)" fill="#3b8cd8" fill-opacity="0.95"/><ellipse cx="245.6" cy="431.2" rx="9.8" ry="4.1" transform="rotate(0 245.6 431.2)" fill="#3b8cd8" fill-opacity="0.95"/><ellipse cx="308.3" cy="405.0" rx="6.5" ry="6.5" transform="rotate(0 308.3 405.0)" fill="#3b8cd8" fill-opacity="0.95"/><ellipse cx="263.6" cy="303.0" rx="9.8" ry="6.5" transform="rotate(0 263.6 303.0)" fill="#62bc86" fill-opacity="0.9"/><ellipse cx="299.6" cy="304.6" rx="6.5" ry="9.8" transform="rotate(0 299.6 304.6)" fill="#62bc86" fill-opacity="0.9"/><ellipse cx="257.1" cy="329.2" rx="16.4" ry="6.5" transform="rotate(0 257.1 329.2)" fill="#62bc86" fill-opacity="0.9"/><ellipse cx="329.5" cy="280.1" rx="21.3" ry="8.2" transform="rotate(0 329.5 280.1)" fill="#62bc86" fill-opacity="0.9"/><ellipse cx="311.5" cy="314.4" rx="8.2" ry="9.8" transform="rotate(0 311.5 314.4)" fill="#62bc86" fill-opacity="0.9"/><ellipse cx="354.1" cy="343.9" rx="13.1" ry="6.5" transform="rotate(0 354.1 343.9)" fill="#62bc86" fill-opacity="0.9"/><ellipse cx="383.5" cy="337.4" rx="8.2" ry="6.5" transform="rotate(0 383.5 337.4)" fill="#62bc86" fill-opacity="0.9"/><ellipse cx="240.7" cy="360.8" rx="6.5" ry="9.8" transform="rotate(0 240.7 360.8)" fill="#62bc86" fill-opacity="0.9"/><ellipse cx="289.8" cy="383.7" rx="11.5" ry="8.2" transform="rotate(0 289.8 383.7)" fill="#62bc86" fill-opacity="0.9"/><ellipse cx="212.9" cy="380.5" rx="6.5" ry="4.9" transform="rotate(0 212.9 380.5)" fill="#62bc86" fill-opacity="0.9"/><ellipse cx="349.2" cy="360.8" rx="9.8" ry="8.2" transform="rotate(0 349.2 360.8)" fill="#62bc86" fill-opacity="0.9"/><ellipse cx="309.9" cy="362.5" rx="6.5" ry="6.5" transform="rotate(0 309.9 362.5)" fill="#62bc86" fill-opacity="0.9"/><ellipse cx="367.2" cy="427.9" rx="13.1" ry="6.5" transform="rotate(0 367.2 427.9)" fill="#62bc86" fill-opacity="0.9"/></g><g filter="url(#afmhard)" opacity="0.95"><ellipse cx="216.2" cy="268.6" rx="4.2" ry="2.1" transform="rotate(0 216.2 268.6)" fill="#a6c24c" fill-opacity="0.8"/><ellipse cx="299.6" cy="275.2" rx="5.6" ry="5.6" transform="rotate(0 299.6 275.2)" fill="#a6c24c" fill-opacity="0.8"/><ellipse cx="212.9" cy="299.7" rx="5.6" ry="7.0" transform="rotate(0 212.9 299.7)" fill="#a6c24c" fill-opacity="0.8"/><ellipse cx="262.0" cy="314.4" rx="8.3" ry="9.7" transform="rotate(0 262.0 314.4)" fill="#a6c24c" fill-opacity="0.8"/><ellipse cx="289.8" cy="294.8" rx="4.2" ry="3.5" transform="rotate(0 289.8 294.8)" fill="#a6c24c" fill-opacity="0.8"/><ellipse cx="244.0" cy="319.4" rx="5.6" ry="5.6" transform="rotate(0 244.0 319.4)" fill="#a6c24c" fill-opacity="0.8"/><ellipse cx="214.5" cy="337.4" rx="5.6" ry="5.6" transform="rotate(0 214.5 337.4)" fill="#a6c24c" fill-opacity="0.8"/><ellipse cx="342.6" cy="287.5" rx="4.2" ry="3.5" transform="rotate(0 342.6 287.5)" fill="#a6c24c" fill-opacity="0.8"/><ellipse cx="391.7" cy="291.5" rx="8.3" ry="11.1" transform="rotate(0 391.7 291.5)" fill="#a6c24c" fill-opacity="0.8"/><ellipse cx="357.4" cy="316.1" rx="9.7" ry="8.3" transform="rotate(0 357.4 316.1)" fill="#a6c24c" fill-opacity="0.8"/><ellipse cx="314.8" cy="316.1" rx="4.2" ry="4.2" transform="rotate(0 314.8 316.1)" fill="#a6c24c" fill-opacity="0.8"/><ellipse cx="370.4" cy="332.4" rx="5.6" ry="4.2" transform="rotate(0 370.4 332.4)" fill="#a6c24c" fill-opacity="0.8"/><ellipse cx="321.4" cy="334.1" rx="5.6" ry="4.2" transform="rotate(0 321.4 334.1)" fill="#a6c24c" fill-opacity="0.8"/><ellipse cx="332.8" cy="345.5" rx="4.2" ry="3.5" transform="rotate(0 332.8 345.5)" fill="#a6c24c" fill-opacity="0.8"/><ellipse cx="211.3" cy="357.5" rx="4.2" ry="4.2" transform="rotate(0 211.3 357.5)" fill="#a6c24c" fill-opacity="0.8"/><ellipse cx="257.1" cy="375.5" rx="7.0" ry="2.8" transform="rotate(30 257.1 375.5)" fill="#a6c24c" fill-opacity="0.8"/><ellipse cx="299.6" cy="383.7" rx="4.2" ry="5.6" transform="rotate(0 299.6 383.7)" fill="#a6c24c" fill-opacity="0.8"/><ellipse cx="229.3" cy="390.3" rx="4.2" ry="5.6" transform="rotate(0 229.3 390.3)" fill="#a6c24c" fill-opacity="0.8"/><ellipse cx="281.6" cy="408.3" rx="7.0" ry="5.6" transform="rotate(0 281.6 408.3)" fill="#a6c24c" fill-opacity="0.8"/><ellipse cx="273.4" cy="429.5" rx="5.6" ry="4.2" transform="rotate(0 273.4 429.5)" fill="#a6c24c" fill-opacity="0.8"/><ellipse cx="337.7" cy="373.9" rx="7.0" ry="5.6" transform="rotate(0 337.7 373.9)" fill="#a6c24c" fill-opacity="0.8"/><ellipse cx="308.3" cy="383.7" rx="2.8" ry="4.2" transform="rotate(0 308.3 383.7)" fill="#a6c24c" fill-opacity="0.8"/><ellipse cx="363.9" cy="396.8" rx="8.3" ry="8.3" transform="rotate(0 363.9 396.8)" fill="#a6c24c" fill-opacity="0.8"/><ellipse cx="390.1" cy="388.6" rx="4.2" ry="2.8" transform="rotate(0 390.1 388.6)" fill="#a6c24c" fill-opacity="0.8"/><ellipse cx="327.9" cy="405.0" rx="7.0" ry="5.6" transform="rotate(0 327.9 405.0)" fill="#a6c24c" fill-opacity="0.8"/><ellipse cx="245.6" cy="274.4" rx="3.9" ry="2.3" transform="rotate(0 245.6 274.4)" fill="#4a66c2" fill-opacity="0.85"/><ellipse cx="227.6" cy="345.5" rx="6.2" ry="4.7" transform="rotate(0 227.6 345.5)" fill="#4a66c2" fill-opacity="0.85"/><ellipse cx="311.5" cy="274.4" rx="4.7" ry="2.3" transform="rotate(0 311.5 274.4)" fill="#4a66c2" fill-opacity="0.85"/><ellipse cx="339.4" cy="298.1" rx="4.7" ry="2.3" transform="rotate(0 339.4 298.1)" fill="#4a66c2" fill-opacity="0.85"/><ellipse cx="391.7" cy="317.7" rx="3.9" ry="2.3" transform="rotate(0 391.7 317.7)" fill="#4a66c2" fill-opacity="0.85"/><ellipse cx="321.4" cy="345.5" rx="4.7" ry="4.7" transform="rotate(0 321.4 345.5)" fill="#4a66c2" fill-opacity="0.85"/><ellipse cx="301.3" cy="360.8" rx="4.7" ry="3.9" transform="rotate(0 301.3 360.8)" fill="#4a66c2" fill-opacity="0.85"/><ellipse cx="321.4" cy="353.5" rx="6.2" ry="3.1" transform="rotate(0 321.4 353.5)" fill="#4a66c2" fill-opacity="0.85"/><ellipse cx="352.4" cy="393.5" rx="4.7" ry="4.7" transform="rotate(0 352.4 393.5)" fill="#4a66c2" fill-opacity="0.85"/><ellipse cx="221.1" cy="286.6" rx="8.2" ry="3.3" transform="rotate(-35 221.1 286.6)" fill="#46429f" fill-opacity="0.95"/><ellipse cx="283.3" cy="275.2" rx="9.8" ry="7.4" transform="rotate(-20 283.3 275.2)" fill="#46429f" fill-opacity="0.95"/><ellipse cx="245.6" cy="305.4" rx="4.9" ry="5.7" transform="rotate(0 245.6 305.4)" fill="#46429f" fill-opacity="0.95"/><ellipse cx="281.6" cy="309.5" rx="6.5" ry="16.4" transform="rotate(5 281.6 309.5)" fill="#46429f" fill-opacity="0.95"/><ellipse cx="293.1" cy="316.1" rx="4.1" ry="5.7" transform="rotate(0 293.1 316.1)" fill="#46429f" fill-opacity="0.95"/><ellipse cx="212.9" cy="322.6" rx="4.9" ry="6.5" transform="rotate(0 212.9 322.6)" fill="#46429f" fill-opacity="0.95"/><ellipse cx="260.4" cy="340.6" rx="7.4" ry="5.7" transform="rotate(0 260.4 340.6)" fill="#46429f" fill-opacity="0.95"/><ellipse cx="368.8" cy="271.9" rx="4.1" ry="4.9" transform="rotate(0 368.8 271.9)" fill="#46429f" fill-opacity="0.95"/><ellipse cx="367.2" cy="291.5" rx="11.5" ry="8.2" transform="rotate(-35 367.2 291.5)" fill="#46429f" fill-opacity="0.95"/><ellipse cx="362.3" cy="301.4" rx="4.9" ry="4.1" transform="rotate(0 362.3 301.4)" fill="#46429f" fill-opacity="0.95"/><ellipse cx="329.5" cy="314.4" rx="6.5" ry="7.4" transform="rotate(20 329.5 314.4)" fill="#46429f" fill-opacity="0.95"/><ellipse cx="344.3" cy="322.6" rx="4.1" ry="8.2" transform="rotate(30 344.3 322.6)" fill="#46429f" fill-opacity="0.95"/><ellipse cx="381.9" cy="312.0" rx="4.9" ry="3.3" transform="rotate(-30 381.9 312.0)" fill="#46429f" fill-opacity="0.95"/><ellipse cx="362.3" cy="332.4" rx="4.1" ry="6.5" transform="rotate(30 362.3 332.4)" fill="#46429f" fill-opacity="0.95"/><ellipse cx="308.3" cy="339.0" rx="4.9" ry="4.1" transform="rotate(0 308.3 339.0)" fill="#46429f" fill-opacity="0.95"/><ellipse cx="226.0" cy="360.8" rx="7.4" ry="11.5" transform="rotate(10 226.0 360.8)" fill="#46429f" fill-opacity="0.95"/><ellipse cx="273.4" cy="368.2" rx="4.1" ry="3.3" transform="rotate(0 273.4 368.2)" fill="#46429f" fill-opacity="0.95"/><ellipse cx="248.1" cy="386.2" rx="6.5" ry="1.6" transform="rotate(-30 248.1 386.2)" fill="#46429f" fill-opacity="0.95"/><ellipse cx="275.1" cy="386.2" rx="5.7" ry="4.9" transform="rotate(0 275.1 386.2)" fill="#46429f" fill-opacity="0.95"/><ellipse cx="214.5" cy="396.8" rx="8.2" ry="8.2" transform="rotate(0 214.5 396.8)" fill="#46429f" fill-opacity="0.95"/><ellipse cx="258.7" cy="409.9" rx="13.1" ry="9.0" transform="rotate(-30 258.7 409.9)" fill="#46429f" fill-opacity="0.95"/><ellipse cx="237.5" cy="426.3" rx="8.2" ry="5.7" transform="rotate(0 237.5 426.3)" fill="#46429f" fill-opacity="0.95"/><ellipse cx="262.0" cy="427.9" rx="4.9" ry="4.9" transform="rotate(0 262.0 427.9)" fill="#46429f" fill-opacity="0.95"/><ellipse cx="331.2" cy="364.1" rx="8.2" ry="6.5" transform="rotate(-20 331.2 364.1)" fill="#46429f" fill-opacity="0.95"/><ellipse cx="393.4" cy="370.6" rx="8.2" ry="13.1" transform="rotate(0 393.4 370.6)" fill="#46429f" fill-opacity="0.95"/><ellipse cx="323.0" cy="389.4" rx="7.4" ry="3.3" transform="rotate(0 323.0 389.4)" fill="#46429f" fill-opacity="0.95"/><ellipse cx="388.4" cy="400.9" rx="9.0" ry="6.5" transform="rotate(0 388.4 400.9)" fill="#46429f" fill-opacity="0.95"/><ellipse cx="319.7" cy="414.8" rx="4.9" ry="4.9" transform="rotate(0 319.7 414.8)" fill="#46429f" fill-opacity="0.95"/><ellipse cx="337.7" cy="427.9" rx="8.2" ry="4.9" transform="rotate(0 337.7 427.9)" fill="#46429f" fill-opacity="0.95"/><ellipse cx="229.3" cy="288.3" rx="3.2" ry="3.2" transform="rotate(0 229.3 288.3)" fill="#e6c436" fill-opacity="0.95"/><ellipse cx="257.1" cy="277.6" rx="3.8" ry="4.5" transform="rotate(-20 257.1 277.6)" fill="#e6c436" fill-opacity="0.95"/><ellipse cx="227.6" cy="310.4" rx="4.5" ry="3.8" transform="rotate(0 227.6 310.4)" fill="#e6c436" fill-opacity="0.95"/><ellipse cx="263.6" cy="314.4" rx="4.5" ry="5.7" transform="rotate(0 263.6 314.4)" fill="#e6c436" fill-opacity="0.95"/><ellipse cx="276.7" cy="342.3" rx="5.1" ry="7.0" transform="rotate(0 276.7 342.3)" fill="#e6c436" fill-opacity="0.95"/><ellipse cx="334.5" cy="271.1" rx="5.1" ry="2.6" transform="rotate(0 334.5 271.1)" fill="#e6c436" fill-opacity="0.95"/><ellipse cx="394.2" cy="288.3" rx="4.5" ry="5.7" transform="rotate(0 394.2 288.3)" fill="#e6c436" fill-opacity="0.95"/><ellipse cx="393.4" cy="311.2" rx="3.8" ry="3.8" transform="rotate(0 393.4 311.2)" fill="#e6c436" fill-opacity="0.95"/><ellipse cx="359.0" cy="316.1" rx="5.1" ry="5.1" transform="rotate(0 359.0 316.1)" fill="#e6c436" fill-opacity="0.95"/><ellipse cx="283.3" cy="360.8" rx="5.1" ry="4.5" transform="rotate(0 283.3 360.8)" fill="#e6c436" fill-opacity="0.95"/><ellipse cx="262.0" cy="385.4" rx="3.8" ry="3.8" transform="rotate(0 262.0 385.4)" fill="#e6c436" fill-opacity="0.95"/><ellipse cx="226.0" cy="401.7" rx="2.6" ry="2.6" transform="rotate(0 226.0 401.7)" fill="#e6c436" fill-opacity="0.95"/><ellipse cx="234.2" cy="409.9" rx="3.2" ry="3.8" transform="rotate(0 234.2 409.9)" fill="#e6c436" fill-opacity="0.95"/><ellipse cx="219.5" cy="427.9" rx="5.1" ry="3.2" transform="rotate(0 219.5 427.9)" fill="#e6c436" fill-opacity="0.95"/><ellipse cx="291.4" cy="421.4" rx="3.8" ry="3.2" transform="rotate(0 291.4 421.4)" fill="#e6c436" fill-opacity="0.95"/><ellipse cx="367.2" cy="363.3" rx="4.5" ry="3.8" transform="rotate(0 367.2 363.3)" fill="#e6c436" fill-opacity="0.95"/><ellipse cx="399.9" cy="375.5" rx="1.9" ry="1.9" transform="rotate(0 399.9 375.5)" fill="#e6c436" fill-opacity="0.95"/><ellipse cx="336.1" cy="390.3" rx="3.2" ry="2.6" transform="rotate(0 336.1 390.3)" fill="#e6c436" fill-opacity="0.95"/><ellipse cx="365.5" cy="400.1" rx="5.1" ry="5.1" transform="rotate(0 365.5 400.1)" fill="#e6c436" fill-opacity="0.95"/><ellipse cx="329.5" cy="414.8" rx="3.8" ry="3.2" transform="rotate(0 329.5 414.8)" fill="#e6c436" fill-opacity="0.95"/><ellipse cx="398.3" cy="431.2" rx="3.8" ry="3.2" transform="rotate(0 398.3 431.2)" fill="#e6c436" fill-opacity="0.95"/><ellipse cx="311.5" cy="432.8" rx="5.1" ry="2.6" transform="rotate(0 311.5 432.8)" fill="#e6c436" fill-opacity="0.95"/></g>
</g>
<rect x="208.00" y="267.20" width="194.40" height="168.30" fill="none" stroke="#6a6a6a" stroke-width="0.8" />
<text x="207.40" y="262.70" font-size="14.5" text-anchor="start" font-weight="bold" fill="#111"  >d)</text>
<g clip-path="url(#clipafm2)">
<g filter="url(#blgrid)"><rect x="397.5" y="255.2" width="36.0" height="36.5" fill="#49b7aa"/><rect x="432.9" y="255.2" width="24.0" height="36.5" fill="#80be76"/><rect x="456.4" y="255.2" width="24.0" height="36.5" fill="#80be76"/><rect x="479.9" y="255.2" width="24.0" height="36.5" fill="#3f79ce"/><rect x="503.3" y="255.2" width="24.0" height="36.5" fill="#49b7aa"/><rect x="526.8" y="255.2" width="24.0" height="36.5" fill="#3f79ce"/><rect x="550.2" y="255.2" width="24.0" height="36.5" fill="#80be76"/><rect x="573.7" y="255.2" width="36.0" height="36.5" fill="#80be76"/><rect x="397.5" y="291.2" width="36.0" height="24.5" fill="#80be76"/><rect x="432.9" y="291.2" width="24.0" height="24.5" fill="#49b7aa"/><rect x="456.4" y="291.2" width="24.0" height="24.5" fill="#3f79ce"/><rect x="479.9" y="291.2" width="24.0" height="24.5" fill="#49b7aa"/><rect x="503.3" y="291.2" width="24.0" height="24.5" fill="#80be76"/><rect x="526.8" y="291.2" width="24.0" height="24.5" fill="#49b7aa"/><rect x="550.2" y="291.2" width="24.0" height="24.5" fill="#4757b6"/><rect x="573.7" y="291.2" width="36.0" height="24.5" fill="#3f79ce"/><rect x="397.5" y="315.3" width="36.0" height="24.5" fill="#49b7aa"/><rect x="432.9" y="315.3" width="24.0" height="24.5" fill="#80be76"/><rect x="456.4" y="315.3" width="24.0" height="24.5" fill="#77958a"/><rect x="479.9" y="315.3" width="24.0" height="24.5" fill="#32b2c8"/><rect x="503.3" y="315.3" width="24.0" height="24.5" fill="#319dd8"/><rect x="526.8" y="315.3" width="24.0" height="24.5" fill="#80be76"/><rect x="550.2" y="315.3" width="24.0" height="24.5" fill="#32b2c8"/><rect x="573.7" y="315.3" width="36.0" height="24.5" fill="#77958a"/><rect x="397.5" y="339.3" width="36.0" height="24.5" fill="#3f79ce"/><rect x="432.9" y="339.3" width="24.0" height="24.5" fill="#49b7aa"/><rect x="456.4" y="339.3" width="24.0" height="24.5" fill="#77958a"/><rect x="479.9" y="339.3" width="24.0" height="24.5" fill="#32b2c8"/><rect x="503.3" y="339.3" width="24.0" height="24.5" fill="#32b2c8"/><rect x="526.8" y="339.3" width="24.0" height="24.5" fill="#80be76"/><rect x="550.2" y="339.3" width="24.0" height="24.5" fill="#48a2ba"/><rect x="573.7" y="339.3" width="36.0" height="24.5" fill="#c5c445"/><rect x="397.5" y="363.4" width="36.0" height="24.5" fill="#48a2ba"/><rect x="432.9" y="363.4" width="24.0" height="24.5" fill="#3f79ce"/><rect x="456.4" y="363.4" width="24.0" height="24.5" fill="#49b7aa"/><rect x="479.9" y="363.4" width="24.0" height="24.5" fill="#80be76"/><rect x="503.3" y="363.4" width="24.0" height="24.5" fill="#80be76"/><rect x="526.8" y="363.4" width="24.0" height="24.5" fill="#319dd8"/><rect x="550.2" y="363.4" width="24.0" height="24.5" fill="#3f79ce"/><rect x="573.7" y="363.4" width="36.0" height="24.5" fill="#80be76"/><rect x="397.5" y="387.4" width="36.0" height="24.5" fill="#319dd8"/><rect x="432.9" y="387.4" width="24.0" height="24.5" fill="#80be76"/><rect x="456.4" y="387.4" width="24.0" height="24.5" fill="#48a2ba"/><rect x="479.9" y="387.4" width="24.0" height="24.5" fill="#49b7aa"/><rect x="503.3" y="387.4" width="24.0" height="24.5" fill="#32b2c8"/><rect x="526.8" y="387.4" width="24.0" height="24.5" fill="#319dd8"/><rect x="550.2" y="387.4" width="24.0" height="24.5" fill="#77958a"/><rect x="573.7" y="387.4" width="36.0" height="24.5" fill="#3f79ce"/><rect x="397.5" y="411.5" width="36.0" height="36.5" fill="#80be76"/><rect x="432.9" y="411.5" width="24.0" height="36.5" fill="#319dd8"/><rect x="456.4" y="411.5" width="24.0" height="36.5" fill="#80be76"/><rect x="479.9" y="411.5" width="24.0" height="36.5" fill="#319dd8"/><rect x="503.3" y="411.5" width="24.0" height="36.5" fill="#49b7aa"/><rect x="526.8" y="411.5" width="24.0" height="36.5" fill="#3f79ce"/><rect x="550.2" y="411.5" width="24.0" height="36.5" fill="#80be76"/><rect x="573.7" y="411.5" width="36.0" height="36.5" fill="#3f79ce"/></g>
<g filter="url(#afmsoft)" opacity="0.6"><ellipse cx="437.2" cy="300.0" rx="15.7" ry="3.1" transform="rotate(-10 437.2 300.0)" fill="#2ab0d6" fill-opacity="1"/><ellipse cx="515.6" cy="295.2" rx="7.8" ry="6.3" transform="rotate(0 515.6 295.2)" fill="#2ab0d6" fill-opacity="1"/><ellipse cx="553.2" cy="317.2" rx="6.3" ry="4.7" transform="rotate(0 553.2 317.2)" fill="#2ab0d6" fill-opacity="1"/><ellipse cx="512.4" cy="329.8" rx="12.6" ry="20.4" transform="rotate(0 512.4 329.8)" fill="#2ab0d6" fill-opacity="1"/><ellipse cx="440.4" cy="421.6" rx="15.7" ry="9.4" transform="rotate(0 440.4 421.6)" fill="#2ab0d6" fill-opacity="1"/><ellipse cx="412.1" cy="398.1" rx="3.9" ry="9.4" transform="rotate(0 412.1 398.1)" fill="#2ab0d6" fill-opacity="1"/><ellipse cx="512.4" cy="360.4" rx="9.4" ry="9.4" transform="rotate(0 512.4 360.4)" fill="#2ab0d6" fill-opacity="1"/><ellipse cx="515.6" cy="390.2" rx="11.0" ry="7.8" transform="rotate(0 515.6 390.2)" fill="#2ab0d6" fill-opacity="1"/><ellipse cx="463.9" cy="278.0" rx="9.4" ry="4.7" transform="rotate(0 463.9 278.0)" fill="#3b8cd8" fill-opacity="0.95"/><ellipse cx="482.8" cy="309.4" rx="11.0" ry="12.6" transform="rotate(0 482.8 309.4)" fill="#3b8cd8" fill-opacity="0.95"/><ellipse cx="496.9" cy="323.5" rx="6.3" ry="9.4" transform="rotate(0 496.9 323.5)" fill="#3b8cd8" fill-opacity="0.95"/><ellipse cx="496.9" cy="284.3" rx="6.3" ry="6.3" transform="rotate(0 496.9 284.3)" fill="#3b8cd8" fill-opacity="0.95"/><ellipse cx="424.7" cy="342.3" rx="7.8" ry="6.3" transform="rotate(0 424.7 342.3)" fill="#3b8cd8" fill-opacity="0.95"/><ellipse cx="587.7" cy="287.4" rx="7.8" ry="6.3" transform="rotate(0 587.7 287.4)" fill="#3b8cd8" fill-opacity="0.95"/><ellipse cx="573.6" cy="298.4" rx="12.6" ry="12.6" transform="rotate(0 573.6 298.4)" fill="#3b8cd8" fill-opacity="0.95"/><ellipse cx="517.1" cy="295.2" rx="3.9" ry="3.1" transform="rotate(0 517.1 295.2)" fill="#3b8cd8" fill-opacity="0.95"/><ellipse cx="532.8" cy="304.7" rx="4.7" ry="4.7" transform="rotate(0 532.8 304.7)" fill="#3b8cd8" fill-opacity="0.95"/><ellipse cx="509.3" cy="339.2" rx="7.8" ry="6.3" transform="rotate(0 509.3 339.2)" fill="#3b8cd8" fill-opacity="0.95"/><ellipse cx="448.2" cy="382.4" rx="23.5" ry="4.7" transform="rotate(-30 448.2 382.4)" fill="#3b8cd8" fill-opacity="0.95"/><ellipse cx="468.6" cy="432.6" rx="7.8" ry="3.1" transform="rotate(0 468.6 432.6)" fill="#3b8cd8" fill-opacity="0.95"/><ellipse cx="478.1" cy="369.8" rx="6.3" ry="11.0" transform="rotate(-20 478.1 369.8)" fill="#3b8cd8" fill-opacity="0.95"/><ellipse cx="554.8" cy="376.1" rx="23.5" ry="12.6" transform="rotate(0 554.8 376.1)" fill="#3b8cd8" fill-opacity="0.95"/><ellipse cx="440.4" cy="306.2" rx="31.4" ry="12.6" transform="rotate(-10 440.4 306.2)" fill="#62bc86" fill-opacity="0.9"/><ellipse cx="432.5" cy="326.6" rx="12.6" ry="7.8" transform="rotate(0 432.5 326.6)" fill="#62bc86" fill-opacity="0.9"/><ellipse cx="496.9" cy="298.4" rx="6.3" ry="12.6" transform="rotate(0 496.9 298.4)" fill="#62bc86" fill-opacity="0.9"/><ellipse cx="440.4" cy="348.6" rx="9.4" ry="3.9" transform="rotate(0 440.4 348.6)" fill="#62bc86" fill-opacity="0.9"/><ellipse cx="550.1" cy="300.0" rx="15.7" ry="7.8" transform="rotate(0 550.1 300.0)" fill="#62bc86" fill-opacity="0.9"/><ellipse cx="550.1" cy="334.5" rx="11.0" ry="12.6" transform="rotate(0 550.1 334.5)" fill="#62bc86" fill-opacity="0.9"/><ellipse cx="507.7" cy="304.7" rx="6.3" ry="6.3" transform="rotate(0 507.7 304.7)" fill="#62bc86" fill-opacity="0.9"/><ellipse cx="463.9" cy="376.1" rx="9.4" ry="12.6" transform="rotate(0 463.9 376.1)" fill="#62bc86" fill-opacity="0.9"/><ellipse cx="421.6" cy="382.4" rx="9.4" ry="9.4" transform="rotate(0 421.6 382.4)" fill="#62bc86" fill-opacity="0.9"/><ellipse cx="478.1" cy="398.1" rx="9.4" ry="9.4" transform="rotate(0 478.1 398.1)" fill="#62bc86" fill-opacity="0.9"/><ellipse cx="543.8" cy="373.0" rx="6.3" ry="4.7" transform="rotate(0 543.8 373.0)" fill="#62bc86" fill-opacity="0.9"/><ellipse cx="578.3" cy="390.2" rx="9.4" ry="6.3" transform="rotate(0 578.3 390.2)" fill="#62bc86" fill-opacity="0.9"/><ellipse cx="526.5" cy="426.3" rx="12.6" ry="7.8" transform="rotate(0 526.5 426.3)" fill="#62bc86" fill-opacity="0.9"/></g><g filter="url(#afmhard)" opacity="0.95"><ellipse cx="418.4" cy="293.7" rx="4.0" ry="5.3" transform="rotate(0 418.4 293.7)" fill="#a6c24c" fill-opacity="0.8"/><ellipse cx="445.1" cy="321.9" rx="6.7" ry="4.0" transform="rotate(0 445.1 321.9)" fill="#a6c24c" fill-opacity="0.8"/><ellipse cx="484.3" cy="348.6" rx="6.7" ry="3.3" transform="rotate(0 484.3 348.6)" fill="#a6c24c" fill-opacity="0.8"/><ellipse cx="525.0" cy="296.8" rx="3.3" ry="8.0" transform="rotate(0 525.0 296.8)" fill="#a6c24c" fill-opacity="0.8"/><ellipse cx="531.2" cy="328.2" rx="8.0" ry="8.0" transform="rotate(0 531.2 328.2)" fill="#a6c24c" fill-opacity="0.8"/><ellipse cx="541.4" cy="315.7" rx="7.3" ry="7.3" transform="rotate(0 541.4 315.7)" fill="#a6c24c" fill-opacity="0.8"/><ellipse cx="431.0" cy="358.8" rx="4.0" ry="6.7" transform="rotate(0 431.0 358.8)" fill="#a6c24c" fill-opacity="0.8"/><ellipse cx="468.6" cy="371.4" rx="4.0" ry="4.0" transform="rotate(0 468.6 371.4)" fill="#a6c24c" fill-opacity="0.8"/><ellipse cx="423.1" cy="382.4" rx="3.3" ry="4.0" transform="rotate(0 423.1 382.4)" fill="#a6c24c" fill-opacity="0.8"/><ellipse cx="442.0" cy="396.5" rx="5.3" ry="4.0" transform="rotate(-30 442.0 396.5)" fill="#a6c24c" fill-opacity="0.8"/><ellipse cx="584.6" cy="376.1" rx="5.3" ry="6.7" transform="rotate(0 584.6 376.1)" fill="#a6c24c" fill-opacity="0.8"/><ellipse cx="512.4" cy="405.9" rx="8.0" ry="10.7" transform="rotate(0 512.4 405.9)" fill="#a6c24c" fill-opacity="0.8"/><ellipse cx="482.8" cy="289.0" rx="8.9" ry="3.7" transform="rotate(0 482.8 289.0)" fill="#4a66c2" fill-opacity="0.85"/><ellipse cx="418.4" cy="352.6" rx="4.5" ry="2.2" transform="rotate(0 418.4 352.6)" fill="#4a66c2" fill-opacity="0.85"/><ellipse cx="413.7" cy="418.5" rx="4.5" ry="6.0" transform="rotate(0 413.7 418.5)" fill="#4a66c2" fill-opacity="0.85"/><ellipse cx="493.7" cy="426.3" rx="6.0" ry="7.5" transform="rotate(0 493.7 426.3)" fill="#4a66c2" fill-opacity="0.85"/><ellipse cx="572.1" cy="369.8" rx="4.5" ry="6.0" transform="rotate(0 572.1 369.8)" fill="#4a66c2" fill-opacity="0.85"/><ellipse cx="432.5" cy="290.5" rx="12.6" ry="2.4" transform="rotate(10 432.5 290.5)" fill="#46429f" fill-opacity="0.95"/><ellipse cx="482.8" cy="309.4" rx="7.1" ry="7.8" transform="rotate(0 482.8 309.4)" fill="#46429f" fill-opacity="0.95"/><ellipse cx="467.1" cy="337.6" rx="6.3" ry="9.4" transform="rotate(5 467.1 337.6)" fill="#46429f" fill-opacity="0.95"/><ellipse cx="412.9" cy="328.2" rx="4.7" ry="3.9" transform="rotate(0 412.9 328.2)" fill="#46429f" fill-opacity="0.95"/><ellipse cx="421.6" cy="348.6" rx="6.3" ry="3.1" transform="rotate(0 421.6 348.6)" fill="#46429f" fill-opacity="0.95"/><ellipse cx="510.8" cy="276.4" rx="7.8" ry="6.3" transform="rotate(0 510.8 276.4)" fill="#46429f" fill-opacity="0.95"/><ellipse cx="543.8" cy="278.0" rx="7.1" ry="5.5" transform="rotate(-30 543.8 278.0)" fill="#46429f" fill-opacity="0.95"/><ellipse cx="574.4" cy="298.4" rx="7.8" ry="7.8" transform="rotate(0 574.4 298.4)" fill="#46429f" fill-opacity="0.95"/><ellipse cx="586.2" cy="317.2" rx="11.0" ry="6.3" transform="rotate(-30 586.2 317.2)" fill="#46429f" fill-opacity="0.95"/><ellipse cx="573.6" cy="332.9" rx="4.7" ry="7.8" transform="rotate(0 573.6 332.9)" fill="#46429f" fill-opacity="0.95"/><ellipse cx="562.6" cy="347.0" rx="6.3" ry="4.7" transform="rotate(0 562.6 347.0)" fill="#46429f" fill-opacity="0.95"/><ellipse cx="420.0" cy="363.6" rx="4.7" ry="7.8" transform="rotate(0 420.0 363.6)" fill="#46429f" fill-opacity="0.95"/><ellipse cx="473.3" cy="355.7" rx="6.3" ry="4.7" transform="rotate(0 473.3 355.7)" fill="#46429f" fill-opacity="0.95"/><ellipse cx="446.7" cy="373.0" rx="7.8" ry="4.7" transform="rotate(20 446.7 373.0)" fill="#46429f" fill-opacity="0.95"/><ellipse cx="489.8" cy="390.2" rx="4.7" ry="3.9" transform="rotate(0 489.8 390.2)" fill="#46429f" fill-opacity="0.95"/><ellipse cx="452.9" cy="399.7" rx="6.3" ry="3.1" transform="rotate(-20 452.9 399.7)" fill="#46429f" fill-opacity="0.95"/><ellipse cx="424.7" cy="409.1" rx="11.0" ry="3.1" transform="rotate(-30 424.7 409.1)" fill="#46429f" fill-opacity="0.95"/><ellipse cx="556.4" cy="357.3" rx="6.3" ry="3.1" transform="rotate(0 556.4 357.3)" fill="#46429f" fill-opacity="0.95"/><ellipse cx="534.4" cy="384.0" rx="9.4" ry="3.9" transform="rotate(-10 534.4 384.0)" fill="#46429f" fill-opacity="0.95"/><ellipse cx="542.2" cy="405.9" rx="7.8" ry="9.4" transform="rotate(-20 542.2 405.9)" fill="#46429f" fill-opacity="0.95"/><ellipse cx="587.7" cy="402.8" rx="9.4" ry="7.8" transform="rotate(0 587.7 402.8)" fill="#46429f" fill-opacity="0.95"/><ellipse cx="581.5" cy="416.9" rx="6.3" ry="6.3" transform="rotate(0 581.5 416.9)" fill="#46429f" fill-opacity="0.95"/><ellipse cx="568.9" cy="427.9" rx="7.8" ry="4.7" transform="rotate(0 568.9 427.9)" fill="#46429f" fill-opacity="0.95"/><ellipse cx="442.0" cy="272.5" rx="4.9" ry="4.3" transform="rotate(0 442.0 272.5)" fill="#e6c436" fill-opacity="0.95"/><ellipse cx="484.3" cy="276.4" rx="7.3" ry="3.7" transform="rotate(-15 484.3 276.4)" fill="#e6c436" fill-opacity="0.95"/><ellipse cx="468.6" cy="309.4" rx="3.1" ry="4.9" transform="rotate(0 468.6 309.4)" fill="#e6c436" fill-opacity="0.95"/><ellipse cx="480.4" cy="329.8" rx="4.3" ry="6.7" transform="rotate(10 480.4 329.8)" fill="#e6c436" fill-opacity="0.95"/><ellipse cx="452.9" cy="339.2" rx="3.1" ry="5.5" transform="rotate(0 452.9 339.2)" fill="#e6c436" fill-opacity="0.95"/><ellipse cx="528.1" cy="279.6" rx="3.7" ry="3.7" transform="rotate(0 528.1 279.6)" fill="#e6c436" fill-opacity="0.95"/><ellipse cx="578.3" cy="278.0" rx="7.3" ry="5.5" transform="rotate(-20 578.3 278.0)" fill="#e6c436" fill-opacity="0.95"/><ellipse cx="541.4" cy="315.7" rx="4.3" ry="4.9" transform="rotate(0 541.4 315.7)" fill="#e6c436" fill-opacity="0.95"/><ellipse cx="536.0" cy="329.8" rx="4.9" ry="4.9" transform="rotate(0 536.0 329.8)" fill="#e6c436" fill-opacity="0.95"/><ellipse cx="588.5" cy="340.8" rx="7.3" ry="8.6" transform="rotate(0 588.5 340.8)" fill="#e6c436" fill-opacity="0.95"/><ellipse cx="485.9" cy="362.0" rx="3.1" ry="9.8" transform="rotate(-20 485.9 362.0)" fill="#e6c436" fill-opacity="0.95"/><ellipse cx="496.9" cy="394.9" rx="4.9" ry="4.9" transform="rotate(-30 496.9 394.9)" fill="#e6c436" fill-opacity="0.95"/><ellipse cx="467.1" cy="399.7" rx="3.1" ry="2.4" transform="rotate(0 467.1 399.7)" fill="#e6c436" fill-opacity="0.95"/><ellipse cx="463.9" cy="416.1" rx="8.6" ry="3.7" transform="rotate(25 463.9 416.1)" fill="#e6c436" fill-opacity="0.95"/><ellipse cx="481.2" cy="427.9" rx="3.7" ry="2.4" transform="rotate(0 481.2 427.9)" fill="#e6c436" fill-opacity="0.95"/><ellipse cx="421.6" cy="424.8" rx="4.9" ry="8.6" transform="rotate(10 421.6 424.8)" fill="#e6c436" fill-opacity="0.95"/><ellipse cx="523.4" cy="371.4" rx="3.7" ry="15.9" transform="rotate(45 523.4 371.4)" fill="#e6c436" fill-opacity="0.95"/><ellipse cx="589.3" cy="355.7" rx="6.1" ry="4.9" transform="rotate(0 589.3 355.7)" fill="#e6c436" fill-opacity="0.95"/><ellipse cx="559.5" cy="399.7" rx="3.7" ry="8.6" transform="rotate(10 559.5 399.7)" fill="#e6c436" fill-opacity="0.95"/><ellipse cx="568.9" cy="410.6" rx="4.9" ry="4.9" transform="rotate(0 568.9 410.6)" fill="#e6c436" fill-opacity="0.95"/><ellipse cx="507.7" cy="429.5" rx="4.9" ry="3.7" transform="rotate(0 507.7 429.5)" fill="#e6c436" fill-opacity="0.95"/></g><g filter="url(#bl3)"><ellipse cx="511" cy="347" rx="23" ry="36" fill="#2ea6dc" opacity="0.85"/></g><g filter="url(#bl2)"><path d="M487,312 Q508,302 530,307" stroke="#7cc070" stroke-width="5" fill="none" opacity="0.7"/><line x1="490" y1="330" x2="524" y2="335" stroke="#4a52b2" stroke-width="1.5" opacity="0.6"/><polyline points="480.5,323 481,331 482,338 483.5,348 485.5,358 488.5,367 491.5,376 494,389" stroke="#e2c43a" stroke-width="4.5" fill="none" stroke-linecap="round" stroke-linejoin="round" opacity="0.9"/><polyline points="494,389 503,386 515,380 524,372 531,364 538,354" stroke="#c8c444" stroke-width="3.5" fill="none" stroke-linecap="round" stroke-linejoin="round" opacity="0.85"/><ellipse cx="480.5" cy="330" rx="4" ry="7" fill="#f0cc34"/><ellipse cx="484" cy="357" rx="3.5" ry="6" fill="#f0cc34"/><ellipse cx="540" cy="317" rx="6" ry="5" fill="#e6c43a" opacity="0.8"/><ellipse cx="535" cy="328" rx="6" ry="3.5" fill="#d8c040" opacity="0.7"/><ellipse cx="484" cy="307" rx="6" ry="7" fill="#4a46a6" opacity="0.85"/><ellipse cx="467.5" cy="340" rx="5" ry="9" fill="#4a46a6" opacity="0.85"/><ellipse cx="474" cy="354" rx="4" ry="3.5" fill="#4a46a6" opacity="0.8"/><ellipse cx="490" cy="391" rx="4.5" ry="3.5" fill="#4a46a6" opacity="0.8"/></g>
</g>
<rect x="409.50" y="267.20" width="187.60" height="168.30" fill="none" stroke="#6a6a6a" stroke-width="0.8" />
<text x="408.90" y="262.70" font-size="14.5" text-anchor="start" font-weight="bold" fill="#111"  >e)</text>
<text x="12.80" y="280.90" font-size="15.3" fill="#111">Cs<tspan font-size="9" dy="4.6">0</tspan></text>
<text x="214.50" y="281.40" font-size="15.3" fill="#111">Cs<tspan font-size="9" dy="4.6">0.15</tspan></text>
<text x="416.20" y="282.60" font-size="15.3" fill="#111">Cs<tspan font-size="9" dy="4.6">0.3</tspan></text>
<text x="166.25" y="422.50" font-size="15" text-anchor="middle" font-weight="normal" fill="#111"  >500 nm</text>
<rect x="144.70" y="427.20" width="45.30" height="2.80" fill="#111" stroke="none" stroke-width="1" />
<text x="367.90" y="423.80" font-size="15" text-anchor="middle" font-weight="normal" fill="#111"  >500 nm</text>
<rect x="351.90" y="428.40" width="38.40" height="2.80" fill="#111" stroke="none" stroke-width="1" />
<text x="559.50" y="424.20" font-size="15" text-anchor="middle" font-weight="normal" fill="#111"  >500 nm</text>
<rect x="537.00" y="428.40" width="45.00" height="2.80" fill="#111" stroke="none" stroke-width="1" />
<defs><linearGradient id="cbg" x1="0" x2="1" y1="0" y2="0"><stop offset="0.0000" stop-color="#3d3a98"/><stop offset="0.0589" stop-color="#4546aa"/><stop offset="0.1317" stop-color="#4a50b6"/><stop offset="0.2226" stop-color="#4862c6"/><stop offset="0.3136" stop-color="#3a82d6"/><stop offset="0.3863" stop-color="#28a2dc"/><stop offset="0.4409" stop-color="#18b2d8"/><stop offset="0.4991" stop-color="#1cb9c6"/><stop offset="0.5682" stop-color="#40b9a0"/><stop offset="0.6228" stop-color="#70c172"/><stop offset="0.6773" stop-color="#a0c84a"/><stop offset="0.7319" stop-color="#c8c032"/><stop offset="0.7774" stop-color="#e4bc2c"/><stop offset="0.8228" stop-color="#f0b93a"/><stop offset="0.8683" stop-color="#f1c639"/><stop offset="0.9138" stop-color="#f6dc24"/><stop offset="1.0000" stop-color="#f8e818"/></linearGradient></defs>
<rect x="27.60" y="454.60" width="549.80" height="26.80" fill="url(#cbg)" stroke="#3a3a3a" stroke-width="1" />
<line x1="302.00" y1="481.40" x2="302.00" y2="478.00" stroke="#333" stroke-width="1" />
<text x="37.50" y="497.60" font-size="16" text-anchor="middle" font-weight="normal" fill="#111"  >-0.5</text>
<text x="301.50" y="497.60" font-size="16" text-anchor="middle" font-weight="normal" fill="#111"  >0</text>
<text x="567.80" y="497.60" font-size="16" text-anchor="middle" font-weight="normal" fill="#111"  >0.5</text>
<text x="322.20" y="516.00" font-size="18" text-anchor="middle" font-weight="normal" fill="#111"  >Surface potential (V)</text>
<text x="96.3" y="539.6" font-size="14.5" font-weight="bold" fill="#111">f)</text>
<rect x="98.20" y="801.30" width="4.31" height="9.00" fill="#e2e2e2" fill-opacity="1.0" stroke="#222" stroke-opacity="0.50" stroke-width="0.8"/><rect x="102.51" y="800.15" width="4.31" height="10.15" fill="#e2e2e2" fill-opacity="1.0" stroke="#222" stroke-opacity="0.81" stroke-width="0.8"/><rect x="106.83" y="799.56" width="4.31" height="10.74" fill="#e2e2e2" fill-opacity="1.0" stroke="#222" stroke-opacity="0.32" stroke-width="0.8"/><rect x="111.14" y="799.06" width="4.31" height="11.24" fill="#e2e2e2" fill-opacity="1.0" stroke="#222" stroke-opacity="0.63" stroke-width="0.8"/><rect x="115.46" y="797.63" width="4.31" height="12.67" fill="#e2e2e2" fill-opacity="1.0" stroke="#222" stroke-opacity="0.90" stroke-width="0.8"/><rect x="119.77" y="796.87" width="4.31" height="13.43" fill="#e2e2e2" fill-opacity="1.0" stroke="#222" stroke-opacity="0.90" stroke-width="0.8"/><rect x="124.08" y="795.63" width="4.31" height="14.67" fill="#e2e2e2" fill-opacity="1.0" stroke="#222" stroke-opacity="0.90" stroke-width="0.8"/><rect x="128.40" y="794.88" width="4.31" height="15.42" fill="#e2e2e2" fill-opacity="1.0" stroke="#222" stroke-opacity="0.90" stroke-width="0.8"/><rect x="132.71" y="793.73" width="4.31" height="16.57" fill="#e2e2e2" fill-opacity="1.0" stroke="#222" stroke-opacity="0.50" stroke-width="0.8"/><rect x="137.03" y="792.21" width="4.31" height="18.09" fill="#e2e2e2" fill-opacity="1.0" stroke="#222" stroke-opacity="0.90" stroke-width="0.8"/><rect x="141.34" y="791.41" width="4.31" height="18.89" fill="#e2e2e2" fill-opacity="1.0" stroke="#222" stroke-opacity="0.90" stroke-width="0.8"/><rect x="145.65" y="790.49" width="4.31" height="19.81" fill="#e2e2e2" fill-opacity="1.0" stroke="#222" stroke-opacity="0.90" stroke-width="0.8"/><rect x="149.97" y="788.79" width="4.31" height="21.51" fill="#e2e2e2" fill-opacity="1.0" stroke="#222" stroke-opacity="0.81" stroke-width="0.8"/><rect x="154.28" y="787.96" width="4.31" height="22.34" fill="#e2e2e2" fill-opacity="1.0" stroke="#222" stroke-opacity="0.90" stroke-width="0.8"/><rect x="158.60" y="787.37" width="4.31" height="22.93" fill="#e2e2e2" fill-opacity="1.0" stroke="#222" stroke-opacity="0.90" stroke-width="0.8"/><rect x="162.91" y="784.77" width="4.31" height="25.53" fill="#e2e2e2" fill-opacity="1.0" stroke="#222" stroke-opacity="0.32" stroke-width="0.8"/><rect x="167.22" y="782.17" width="4.31" height="28.13" fill="#e2e2e2" fill-opacity="1.0" stroke="#222" stroke-opacity="0.32" stroke-width="0.8"/><rect x="171.54" y="778.93" width="4.31" height="31.37" fill="#e2e2e2" fill-opacity="1.0" stroke="#222" stroke-opacity="0.90" stroke-width="0.8"/><rect x="175.85" y="775.72" width="4.31" height="34.58" fill="#e2e2e2" fill-opacity="1.0" stroke="#222" stroke-opacity="0.81" stroke-width="0.8"/><rect x="180.17" y="773.77" width="4.31" height="36.53" fill="#e2e2e2" fill-opacity="1.0" stroke="#222" stroke-opacity="0.90" stroke-width="0.8"/><rect x="184.48" y="772.22" width="4.31" height="38.08" fill="#e2e2e2" fill-opacity="1.0" stroke="#222" stroke-opacity="0.90" stroke-width="0.8"/><rect x="188.79" y="769.95" width="4.31" height="40.35" fill="#e2e2e2" fill-opacity="1.0" stroke="#222" stroke-opacity="0.32" stroke-width="0.8"/><rect x="193.11" y="765.21" width="4.31" height="45.09" fill="#e2e2e2" fill-opacity="1.0" stroke="#222" stroke-opacity="0.90" stroke-width="0.8"/><rect x="197.42" y="760.46" width="4.31" height="49.84" fill="#e2e2e2" fill-opacity="1.0" stroke="#222" stroke-opacity="0.90" stroke-width="0.8"/><rect x="201.74" y="757.27" width="4.31" height="53.03" fill="#e2e2e2" fill-opacity="1.0" stroke="#222" stroke-opacity="0.90" stroke-width="0.8"/><rect x="206.05" y="754.26" width="4.31" height="56.04" fill="#e2e2e2" fill-opacity="1.0" stroke="#222" stroke-opacity="0.81" stroke-width="0.8"/><rect x="210.36" y="751.99" width="4.31" height="58.31" fill="#e2e2e2" fill-opacity="1.0" stroke="#222" stroke-opacity="0.63" stroke-width="0.8"/><rect x="214.68" y="750.27" width="4.31" height="60.03" fill="#e2e2e2" fill-opacity="1.0" stroke="#222" stroke-opacity="0.63" stroke-width="0.8"/><rect x="218.99" y="748.08" width="4.31" height="62.22" fill="#e2e2e2" fill-opacity="1.0" stroke="#222" stroke-opacity="0.90" stroke-width="0.8"/><rect x="223.31" y="744.63" width="4.31" height="65.67" fill="#e2e2e2" fill-opacity="1.0" stroke="#222" stroke-opacity="0.90" stroke-width="0.8"/><rect x="227.62" y="741.18" width="4.31" height="69.12" fill="#e2e2e2" fill-opacity="1.0" stroke="#222" stroke-opacity="0.90" stroke-width="0.8"/><rect x="231.93" y="735.16" width="4.31" height="75.14" fill="#e2e2e2" fill-opacity="1.0" stroke="#222" stroke-opacity="0.90" stroke-width="0.8"/><rect x="236.25" y="727.21" width="4.31" height="83.09" fill="#e2e2e2" fill-opacity="1.0" stroke="#222" stroke-opacity="0.32" stroke-width="0.8"/><rect x="240.56" y="717.34" width="4.31" height="92.96" fill="#e2e2e2" fill-opacity="1.0" stroke="#222" stroke-opacity="0.90" stroke-width="0.8"/><rect x="244.88" y="714.66" width="4.31" height="95.64" fill="#e2e2e2" fill-opacity="1.0" stroke="#222" stroke-opacity="0.81" stroke-width="0.8"/><rect x="249.19" y="703.93" width="4.31" height="106.37" fill="#e2e2e2" fill-opacity="1.0" stroke="#222" stroke-opacity="0.90" stroke-width="0.8"/><rect x="253.50" y="702.15" width="4.31" height="108.15" fill="#e2e2e2" fill-opacity="1.0" stroke="#222" stroke-opacity="0.90" stroke-width="0.8"/><rect x="257.82" y="692.48" width="4.31" height="117.82" fill="#e2e2e2" fill-opacity="1.0" stroke="#222" stroke-opacity="0.81" stroke-width="0.8"/><rect x="262.13" y="689.69" width="4.31" height="120.61" fill="#e2e2e2" fill-opacity="1.0" stroke="#222" stroke-opacity="0.50" stroke-width="0.8"/><rect x="266.45" y="682.56" width="4.31" height="127.74" fill="#e2e2e2" fill-opacity="1.0" stroke="#222" stroke-opacity="0.32" stroke-width="0.8"/><rect x="270.76" y="679.36" width="4.31" height="130.94" fill="#e2e2e2" fill-opacity="1.0" stroke="#222" stroke-opacity="0.81" stroke-width="0.8"/><rect x="275.07" y="672.93" width="4.31" height="137.37" fill="#e2e2e2" fill-opacity="1.0" stroke="#222" stroke-opacity="0.90" stroke-width="0.8"/><rect x="279.39" y="663.97" width="4.31" height="146.33" fill="#e2e2e2" fill-opacity="1.0" stroke="#222" stroke-opacity="0.90" stroke-width="0.8"/><rect x="283.70" y="656.04" width="4.31" height="154.26" fill="#e2e2e2" fill-opacity="1.0" stroke="#222" stroke-opacity="0.90" stroke-width="0.8"/><rect x="288.02" y="646.11" width="4.31" height="164.19" fill="#e2e2e2" fill-opacity="1.0" stroke="#222" stroke-opacity="0.50" stroke-width="0.8"/><rect x="292.33" y="646.94" width="4.31" height="163.36" fill="#e2e2e2" fill-opacity="1.0" stroke="#222" stroke-opacity="0.90" stroke-width="0.8"/><rect x="296.64" y="647.77" width="4.31" height="162.53" fill="#e2e2e2" fill-opacity="1.0" stroke="#222" stroke-opacity="0.63" stroke-width="0.8"/><rect x="300.96" y="648.00" width="4.31" height="162.30" fill="#e2e2e2" fill-opacity="1.0" stroke="#222" stroke-opacity="0.81" stroke-width="0.8"/><rect x="305.27" y="648.00" width="4.31" height="162.30" fill="#e2e2e2" fill-opacity="1.0" stroke="#222" stroke-opacity="0.90" stroke-width="0.8"/><rect x="309.59" y="648.00" width="4.31" height="162.30" fill="#e2e2e2" fill-opacity="1.0" stroke="#222" stroke-opacity="0.90" stroke-width="0.8"/><rect x="313.90" y="648.00" width="4.31" height="162.30" fill="#e2e2e2" fill-opacity="1.0" stroke="#222" stroke-opacity="0.90" stroke-width="0.8"/><rect x="318.21" y="648.04" width="4.31" height="162.26" fill="#e2e2e2" fill-opacity="1.0" stroke="#222" stroke-opacity="0.63" stroke-width="0.8"/><rect x="322.53" y="648.47" width="4.31" height="161.83" fill="#e2e2e2" fill-opacity="1.0" stroke="#222" stroke-opacity="0.81" stroke-width="0.8"/><rect x="326.84" y="648.90" width="4.31" height="161.40" fill="#e2e2e2" fill-opacity="1.0" stroke="#222" stroke-opacity="0.50" stroke-width="0.8"/><rect x="331.16" y="649.33" width="4.31" height="160.97" fill="#e2e2e2" fill-opacity="1.0" stroke="#222" stroke-opacity="0.90" stroke-width="0.8"/><rect x="335.47" y="649.76" width="4.31" height="160.54" fill="#e2e2e2" fill-opacity="1.0" stroke="#222" stroke-opacity="0.90" stroke-width="0.8"/><rect x="339.78" y="650.19" width="4.31" height="160.11" fill="#e2e2e2" fill-opacity="1.0" stroke="#222" stroke-opacity="0.63" stroke-width="0.8"/><rect x="344.10" y="650.63" width="4.31" height="159.67" fill="#e2e2e2" fill-opacity="1.0" stroke="#222" stroke-opacity="0.90" stroke-width="0.8"/><rect x="348.41" y="651.06" width="4.31" height="159.24" fill="#e2e2e2" fill-opacity="1.0" stroke="#222" stroke-opacity="0.90" stroke-width="0.8"/><rect x="352.73" y="651.49" width="4.31" height="158.81" fill="#e2e2e2" fill-opacity="1.0" stroke="#222" stroke-opacity="0.90" stroke-width="0.8"/><rect x="357.04" y="651.92" width="4.31" height="158.38" fill="#e2e2e2" fill-opacity="1.0" stroke="#222" stroke-opacity="0.90" stroke-width="0.8"/><rect x="361.35" y="653.05" width="4.31" height="157.25" fill="#e2e2e2" fill-opacity="1.0" stroke="#222" stroke-opacity="0.81" stroke-width="0.8"/><rect x="365.67" y="654.35" width="4.31" height="155.95" fill="#e2e2e2" fill-opacity="1.0" stroke="#222" stroke-opacity="0.32" stroke-width="0.8"/><rect x="369.98" y="656.81" width="4.31" height="153.49" fill="#e2e2e2" fill-opacity="1.0" stroke="#222" stroke-opacity="0.63" stroke-width="0.8"/><rect x="374.30" y="660.48" width="4.31" height="149.82" fill="#e2e2e2" fill-opacity="1.0" stroke="#222" stroke-opacity="0.90" stroke-width="0.8"/><rect x="378.61" y="666.47" width="4.31" height="143.83" fill="#e2e2e2" fill-opacity="1.0" stroke="#222" stroke-opacity="0.32" stroke-width="0.8"/><rect x="382.92" y="673.07" width="4.31" height="137.23" fill="#e2e2e2" fill-opacity="1.0" stroke="#222" stroke-opacity="0.50" stroke-width="0.8"/><rect x="387.24" y="685.24" width="4.31" height="125.06" fill="#e2e2e2" fill-opacity="1.0" stroke="#222" stroke-opacity="0.32" stroke-width="0.8"/><rect x="391.55" y="698.49" width="4.31" height="111.81" fill="#e2e2e2" fill-opacity="1.0" stroke="#222" stroke-opacity="0.90" stroke-width="0.8"/><rect x="395.87" y="701.61" width="4.31" height="108.69" fill="#e2e2e2" fill-opacity="1.0" stroke="#222" stroke-opacity="0.32" stroke-width="0.8"/><rect x="400.18" y="709.78" width="4.31" height="100.52" fill="#e2e2e2" fill-opacity="1.0" stroke="#222" stroke-opacity="0.50" stroke-width="0.8"/><rect x="404.49" y="714.25" width="4.31" height="96.05" fill="#e2e2e2" fill-opacity="1.0" stroke="#222" stroke-opacity="0.50" stroke-width="0.8"/><rect x="408.81" y="724.71" width="4.31" height="85.59" fill="#e2e2e2" fill-opacity="1.0" stroke="#222" stroke-opacity="0.81" stroke-width="0.8"/><rect x="413.12" y="729.60" width="4.31" height="80.70" fill="#e2e2e2" fill-opacity="1.0" stroke="#222" stroke-opacity="0.81" stroke-width="0.8"/><rect x="417.44" y="736.46" width="4.31" height="73.84" fill="#e2e2e2" fill-opacity="1.0" stroke="#222" stroke-opacity="0.63" stroke-width="0.8"/><rect x="421.75" y="740.56" width="4.31" height="69.74" fill="#e2e2e2" fill-opacity="1.0" stroke="#222" stroke-opacity="0.81" stroke-width="0.8"/><rect x="426.06" y="746.06" width="4.31" height="64.24" fill="#e2e2e2" fill-opacity="1.0" stroke="#222" stroke-opacity="0.90" stroke-width="0.8"/><rect x="430.38" y="750.72" width="4.31" height="59.58" fill="#e2e2e2" fill-opacity="1.0" stroke="#222" stroke-opacity="0.90" stroke-width="0.8"/><rect x="434.69" y="754.79" width="4.31" height="55.51" fill="#e2e2e2" fill-opacity="1.0" stroke="#222" stroke-opacity="0.50" stroke-width="0.8"/><rect x="439.01" y="762.72" width="4.31" height="47.58" fill="#e2e2e2" fill-opacity="1.0" stroke="#222" stroke-opacity="0.90" stroke-width="0.8"/><rect x="443.32" y="768.06" width="4.31" height="42.24" fill="#e2e2e2" fill-opacity="1.0" stroke="#222" stroke-opacity="0.32" stroke-width="0.8"/><rect x="447.63" y="775.16" width="4.31" height="35.14" fill="#e2e2e2" fill-opacity="1.0" stroke="#222" stroke-opacity="0.50" stroke-width="0.8"/><rect x="451.95" y="781.01" width="4.31" height="29.29" fill="#e2e2e2" fill-opacity="1.0" stroke="#222" stroke-opacity="0.63" stroke-width="0.8"/><rect x="456.26" y="786.68" width="4.31" height="23.62" fill="#e2e2e2" fill-opacity="1.0" stroke="#222" stroke-opacity="0.32" stroke-width="0.8"/><rect x="460.58" y="790.53" width="4.31" height="19.77" fill="#e2e2e2" fill-opacity="1.0" stroke="#222" stroke-opacity="0.50" stroke-width="0.8"/><rect x="464.89" y="794.65" width="4.31" height="15.65" fill="#e2e2e2" fill-opacity="1.0" stroke="#222" stroke-opacity="0.90" stroke-width="0.8"/><rect x="469.20" y="796.52" width="4.31" height="13.78" fill="#e2e2e2" fill-opacity="1.0" stroke="#222" stroke-opacity="0.90" stroke-width="0.8"/><rect x="473.52" y="799.44" width="4.31" height="10.86" fill="#e2e2e2" fill-opacity="1.0" stroke="#222" stroke-opacity="0.90" stroke-width="0.8"/><rect x="477.83" y="799.95" width="4.31" height="10.35" fill="#e2e2e2" fill-opacity="1.0" stroke="#222" stroke-opacity="0.90" stroke-width="0.8"/><rect x="482.15" y="800.95" width="4.31" height="9.35" fill="#e2e2e2" fill-opacity="1.0" stroke="#222" stroke-opacity="0.32" stroke-width="0.8"/><rect x="486.46" y="802.17" width="4.31" height="8.13" fill="#e2e2e2" fill-opacity="1.0" stroke="#222" stroke-opacity="0.81" stroke-width="0.8"/><rect x="490.77" y="802.80" width="4.31" height="7.50" fill="#e2e2e2" fill-opacity="1.0" stroke="#222" stroke-opacity="0.50" stroke-width="0.8"/><rect x="495.09" y="803.79" width="4.31" height="6.51" fill="#e2e2e2" fill-opacity="1.0" stroke="#222" stroke-opacity="0.81" stroke-width="0.8"/><rect x="499.40" y="804.70" width="4.31" height="5.60" fill="#e2e2e2" fill-opacity="1.0" stroke="#222" stroke-opacity="0.32" stroke-width="0.8"/><rect x="503.72" y="805.59" width="4.31" height="4.71" fill="#e2e2e2" fill-opacity="1.0" stroke="#222" stroke-opacity="0.32" stroke-width="0.8"/><rect x="508.03" y="808.49" width="4.31" height="1.81" fill="#e2e2e2" fill-opacity="1.0" stroke="#222" stroke-opacity="0.90" stroke-width="0.8"/><rect x="512.34" y="807.90" width="4.31" height="2.40" fill="#e2e2e2" fill-opacity="1.0" stroke="#222" stroke-opacity="0.63" stroke-width="0.8"/><rect x="516.66" y="809.53" width="4.31" height="0.77" fill="#e2e2e2" fill-opacity="1.0" stroke="#222" stroke-opacity="0.90" stroke-width="0.8"/><rect x="520.97" y="809.78" width="4.31" height="0.52" fill="#e2e2e2" fill-opacity="1.0" stroke="#222" stroke-opacity="0.90" stroke-width="0.8"/>
<rect x="132.71" y="809.12" width="4.31" height="1.18" fill="#86c655" fill-opacity="0.9" stroke="#1a2410" stroke-opacity="0.85" stroke-width="0.95"/><rect x="137.03" y="807.16" width="4.31" height="3.14" fill="#86c655" fill-opacity="0.9" stroke="#1a2410" stroke-opacity="0.47" stroke-width="0.95"/><rect x="141.34" y="805.00" width="4.31" height="5.30" fill="#86c655" fill-opacity="0.9" stroke="#1a2410" stroke-opacity="0.47" stroke-width="0.95"/><rect x="145.65" y="802.84" width="4.31" height="7.46" fill="#86c655" fill-opacity="0.9" stroke="#1a2410" stroke-opacity="0.59" stroke-width="0.95"/><rect x="149.97" y="800.41" width="4.31" height="9.89" fill="#86c655" fill-opacity="0.9" stroke="#1a2410" stroke-opacity="0.47" stroke-width="0.95"/><rect x="154.28" y="795.28" width="4.31" height="15.02" fill="#86c655" fill-opacity="0.9" stroke="#1a2410" stroke-opacity="0.85" stroke-width="0.95"/><rect x="158.60" y="795.20" width="4.31" height="15.10" fill="#86c655" fill-opacity="0.9" stroke="#1a2410" stroke-opacity="0.30" stroke-width="0.95"/><rect x="162.91" y="792.55" width="4.31" height="17.75" fill="#86c655" fill-opacity="0.9" stroke="#1a2410" stroke-opacity="0.85" stroke-width="0.95"/><rect x="167.22" y="788.42" width="4.31" height="21.88" fill="#86c655" fill-opacity="0.9" stroke="#1a2410" stroke-opacity="0.30" stroke-width="0.95"/><rect x="171.54" y="784.66" width="4.31" height="25.64" fill="#86c655" fill-opacity="0.9" stroke="#1a2410" stroke-opacity="0.85" stroke-width="0.95"/><rect x="175.85" y="781.01" width="4.31" height="29.29" fill="#86c655" fill-opacity="0.9" stroke="#1a2410" stroke-opacity="0.85" stroke-width="0.95"/><rect x="180.17" y="777.17" width="4.31" height="33.13" fill="#86c655" fill-opacity="0.9" stroke="#1a2410" stroke-opacity="0.47" stroke-width="0.95"/><rect x="184.48" y="772.72" width="4.31" height="37.58" fill="#86c655" fill-opacity="0.9" stroke="#1a2410" stroke-opacity="0.30" stroke-width="0.95"/><rect x="188.79" y="767.63" width="4.31" height="42.67" fill="#86c655" fill-opacity="0.9" stroke="#1a2410" stroke-opacity="0.59" stroke-width="0.95"/><rect x="193.11" y="759.50" width="4.31" height="50.80" fill="#86c655" fill-opacity="0.9" stroke="#1a2410" stroke-opacity="0.59" stroke-width="0.95"/><rect x="197.42" y="749.97" width="4.31" height="60.33" fill="#86c655" fill-opacity="0.9" stroke="#1a2410" stroke-opacity="0.85" stroke-width="0.95"/><rect x="201.74" y="746.82" width="4.31" height="63.48" fill="#86c655" fill-opacity="0.9" stroke="#1a2410" stroke-opacity="0.85" stroke-width="0.95"/><rect x="206.05" y="748.07" width="4.31" height="62.23" fill="#86c655" fill-opacity="0.9" stroke="#1a2410" stroke-opacity="0.59" stroke-width="0.95"/><rect x="210.36" y="750.18" width="4.31" height="60.12" fill="#86c655" fill-opacity="0.9" stroke="#1a2410" stroke-opacity="0.59" stroke-width="0.95"/><rect x="214.68" y="747.34" width="4.31" height="62.96" fill="#86c655" fill-opacity="0.9" stroke="#1a2410" stroke-opacity="0.47" stroke-width="0.95"/><rect x="218.99" y="747.73" width="4.31" height="62.57" fill="#86c655" fill-opacity="0.9" stroke="#1a2410" stroke-opacity="0.59" stroke-width="0.95"/><rect x="223.31" y="743.64" width="4.31" height="66.66" fill="#86c655" fill-opacity="0.9" stroke="#1a2410" stroke-opacity="0.85" stroke-width="0.95"/><rect x="227.62" y="740.28" width="4.31" height="70.02" fill="#86c655" fill-opacity="0.9" stroke="#1a2410" stroke-opacity="0.59" stroke-width="0.95"/><rect x="231.93" y="735.24" width="4.31" height="75.06" fill="#86c655" fill-opacity="0.9" stroke="#1a2410" stroke-opacity="0.30" stroke-width="0.95"/><rect x="236.25" y="729.05" width="4.31" height="81.25" fill="#86c655" fill-opacity="0.9" stroke="#1a2410" stroke-opacity="0.47" stroke-width="0.95"/><rect x="240.56" y="721.73" width="4.31" height="88.57" fill="#86c655" fill-opacity="0.9" stroke="#1a2410" stroke-opacity="0.59" stroke-width="0.95"/><rect x="244.88" y="717.52" width="4.31" height="92.78" fill="#86c655" fill-opacity="0.9" stroke="#1a2410" stroke-opacity="0.30" stroke-width="0.95"/><rect x="249.19" y="714.60" width="4.31" height="95.70" fill="#86c655" fill-opacity="0.9" stroke="#1a2410" stroke-opacity="0.59" stroke-width="0.95"/><rect x="253.50" y="709.53" width="4.31" height="100.77" fill="#86c655" fill-opacity="0.9" stroke="#1a2410" stroke-opacity="0.47" stroke-width="0.95"/><rect x="257.82" y="701.36" width="4.31" height="108.94" fill="#86c655" fill-opacity="0.9" stroke="#1a2410" stroke-opacity="0.85" stroke-width="0.95"/><rect x="262.13" y="692.96" width="4.31" height="117.34" fill="#86c655" fill-opacity="0.9" stroke="#1a2410" stroke-opacity="0.30" stroke-width="0.95"/><rect x="266.45" y="687.52" width="4.31" height="122.78" fill="#86c655" fill-opacity="0.9" stroke="#1a2410" stroke-opacity="0.47" stroke-width="0.95"/><rect x="270.76" y="681.32" width="4.31" height="128.98" fill="#86c655" fill-opacity="0.9" stroke="#1a2410" stroke-opacity="0.77" stroke-width="0.95"/><rect x="275.07" y="674.92" width="4.31" height="135.38" fill="#86c655" fill-opacity="0.9" stroke="#1a2410" stroke-opacity="0.85" stroke-width="0.95"/><rect x="279.39" y="664.44" width="4.31" height="145.86" fill="#86c655" fill-opacity="0.9" stroke="#1a2410" stroke-opacity="0.85" stroke-width="0.95"/><rect x="283.70" y="659.06" width="4.31" height="151.24" fill="#86c655" fill-opacity="0.9" stroke="#1a2410" stroke-opacity="0.30" stroke-width="0.95"/><rect x="288.02" y="644.74" width="4.31" height="165.56" fill="#86c655" fill-opacity="0.9" stroke="#1a2410" stroke-opacity="0.85" stroke-width="0.95"/><rect x="292.33" y="634.82" width="4.31" height="175.48" fill="#86c655" fill-opacity="0.9" stroke="#1a2410" stroke-opacity="0.77" stroke-width="0.95"/><rect x="296.64" y="628.84" width="4.31" height="181.46" fill="#86c655" fill-opacity="0.9" stroke="#1a2410" stroke-opacity="0.47" stroke-width="0.95"/><rect x="300.96" y="619.35" width="4.31" height="190.95" fill="#86c655" fill-opacity="0.9" stroke="#1a2410" stroke-opacity="0.77" stroke-width="0.95"/><rect x="305.27" y="612.46" width="4.31" height="197.84" fill="#86c655" fill-opacity="0.9" stroke="#1a2410" stroke-opacity="0.59" stroke-width="0.95"/><rect x="309.59" y="604.35" width="4.31" height="205.95" fill="#86c655" fill-opacity="0.9" stroke="#1a2410" stroke-opacity="0.77" stroke-width="0.95"/><rect x="313.90" y="595.23" width="4.31" height="215.07" fill="#86c655" fill-opacity="0.9" stroke="#1a2410" stroke-opacity="0.30" stroke-width="0.95"/><rect x="318.21" y="589.03" width="4.31" height="221.27" fill="#86c655" fill-opacity="0.9" stroke="#1a2410" stroke-opacity="0.30" stroke-width="0.95"/><rect x="322.53" y="571.49" width="4.31" height="238.81" fill="#86c655" fill-opacity="0.9" stroke="#1a2410" stroke-opacity="0.30" stroke-width="0.95"/><rect x="326.84" y="570.78" width="4.31" height="239.52" fill="#86c655" fill-opacity="0.9" stroke="#1a2410" stroke-opacity="0.85" stroke-width="0.95"/><rect x="331.16" y="579.22" width="4.31" height="231.08" fill="#86c655" fill-opacity="0.9" stroke="#1a2410" stroke-opacity="0.77" stroke-width="0.95"/><rect x="335.47" y="587.50" width="4.31" height="222.80" fill="#86c655" fill-opacity="0.9" stroke="#1a2410" stroke-opacity="0.30" stroke-width="0.95"/><rect x="339.78" y="591.22" width="4.31" height="219.08" fill="#86c655" fill-opacity="0.9" stroke="#1a2410" stroke-opacity="0.30" stroke-width="0.95"/><rect x="344.10" y="593.19" width="4.31" height="217.11" fill="#86c655" fill-opacity="0.9" stroke="#1a2410" stroke-opacity="0.85" stroke-width="0.95"/><rect x="348.41" y="593.28" width="4.31" height="217.02" fill="#86c655" fill-opacity="0.9" stroke="#1a2410" stroke-opacity="0.47" stroke-width="0.95"/><rect x="352.73" y="605.35" width="4.31" height="204.95" fill="#86c655" fill-opacity="0.9" stroke="#1a2410" stroke-opacity="0.77" stroke-width="0.95"/><rect x="357.04" y="613.19" width="4.31" height="197.11" fill="#86c655" fill-opacity="0.9" stroke="#1a2410" stroke-opacity="0.30" stroke-width="0.95"/><rect x="361.35" y="627.82" width="4.31" height="182.48" fill="#86c655" fill-opacity="0.9" stroke="#1a2410" stroke-opacity="0.85" stroke-width="0.95"/><rect x="365.67" y="635.47" width="4.31" height="174.83" fill="#86c655" fill-opacity="0.9" stroke="#1a2410" stroke-opacity="0.47" stroke-width="0.95"/><rect x="369.98" y="651.12" width="4.31" height="159.18" fill="#86c655" fill-opacity="0.9" stroke="#1a2410" stroke-opacity="0.59" stroke-width="0.95"/><rect x="374.30" y="664.74" width="4.31" height="145.56" fill="#86c655" fill-opacity="0.9" stroke="#1a2410" stroke-opacity="0.30" stroke-width="0.95"/><rect x="378.61" y="677.70" width="4.31" height="132.60" fill="#86c655" fill-opacity="0.9" stroke="#1a2410" stroke-opacity="0.47" stroke-width="0.95"/><rect x="382.92" y="683.97" width="4.31" height="126.33" fill="#86c655" fill-opacity="0.9" stroke="#1a2410" stroke-opacity="0.59" stroke-width="0.95"/><rect x="387.24" y="693.38" width="4.31" height="116.92" fill="#86c655" fill-opacity="0.9" stroke="#1a2410" stroke-opacity="0.30" stroke-width="0.95"/><rect x="391.55" y="710.04" width="4.31" height="100.26" fill="#86c655" fill-opacity="0.9" stroke="#1a2410" stroke-opacity="0.77" stroke-width="0.95"/><rect x="395.87" y="720.17" width="4.31" height="90.13" fill="#86c655" fill-opacity="0.9" stroke="#1a2410" stroke-opacity="0.77" stroke-width="0.95"/><rect x="400.18" y="727.79" width="4.31" height="82.51" fill="#86c655" fill-opacity="0.9" stroke="#1a2410" stroke-opacity="0.85" stroke-width="0.95"/><rect x="404.49" y="734.86" width="4.31" height="75.44" fill="#86c655" fill-opacity="0.9" stroke="#1a2410" stroke-opacity="0.77" stroke-width="0.95"/><rect x="408.81" y="747.40" width="4.31" height="62.90" fill="#86c655" fill-opacity="0.9" stroke="#1a2410" stroke-opacity="0.77" stroke-width="0.95"/><rect x="413.12" y="758.54" width="4.31" height="51.76" fill="#86c655" fill-opacity="0.9" stroke="#1a2410" stroke-opacity="0.77" stroke-width="0.95"/><rect x="417.44" y="766.59" width="4.31" height="43.71" fill="#86c655" fill-opacity="0.9" stroke="#1a2410" stroke-opacity="0.59" stroke-width="0.95"/><rect x="421.75" y="772.42" width="4.31" height="37.88" fill="#86c655" fill-opacity="0.9" stroke="#1a2410" stroke-opacity="0.77" stroke-width="0.95"/><rect x="426.06" y="781.61" width="4.31" height="28.69" fill="#86c655" fill-opacity="0.9" stroke="#1a2410" stroke-opacity="0.85" stroke-width="0.95"/><rect x="430.38" y="788.36" width="4.31" height="21.94" fill="#86c655" fill-opacity="0.9" stroke="#1a2410" stroke-opacity="0.30" stroke-width="0.95"/><rect x="434.69" y="795.23" width="4.31" height="15.07" fill="#86c655" fill-opacity="0.9" stroke="#1a2410" stroke-opacity="0.85" stroke-width="0.95"/><rect x="439.01" y="798.96" width="4.31" height="11.34" fill="#86c655" fill-opacity="0.9" stroke="#1a2410" stroke-opacity="0.77" stroke-width="0.95"/><rect x="443.32" y="799.92" width="4.31" height="10.38" fill="#86c655" fill-opacity="0.9" stroke="#1a2410" stroke-opacity="0.47" stroke-width="0.95"/><rect x="447.63" y="801.79" width="4.31" height="8.51" fill="#86c655" fill-opacity="0.9" stroke="#1a2410" stroke-opacity="0.47" stroke-width="0.95"/><rect x="451.95" y="803.81" width="4.31" height="6.49" fill="#86c655" fill-opacity="0.9" stroke="#1a2410" stroke-opacity="0.85" stroke-width="0.95"/><rect x="456.26" y="805.26" width="4.31" height="5.04" fill="#86c655" fill-opacity="0.9" stroke="#1a2410" stroke-opacity="0.77" stroke-width="0.95"/><rect x="460.58" y="806.09" width="4.31" height="4.21" fill="#86c655" fill-opacity="0.9" stroke="#1a2410" stroke-opacity="0.30" stroke-width="0.95"/><rect x="464.89" y="807.13" width="4.31" height="3.17" fill="#86c655" fill-opacity="0.9" stroke="#1a2410" stroke-opacity="0.85" stroke-width="0.95"/><rect x="469.20" y="807.57" width="4.31" height="2.73" fill="#86c655" fill-opacity="0.9" stroke="#1a2410" stroke-opacity="0.47" stroke-width="0.95"/><rect x="473.52" y="809.39" width="4.31" height="0.91" fill="#86c655" fill-opacity="0.9" stroke="#1a2410" stroke-opacity="0.85" stroke-width="0.95"/>
<rect x="149.97" y="809.20" width="2.16" height="1.10" fill="#ab5e40" fill-opacity="1.0" stroke="#2a1008" stroke-opacity="0.70" stroke-width="0.8"/><rect x="152.13" y="808.38" width="2.16" height="1.92" fill="#ab5e40" fill-opacity="1.0" stroke="#2a1008" stroke-opacity="0.39" stroke-width="0.8"/><rect x="154.28" y="808.35" width="2.16" height="1.95" fill="#ab5e40" fill-opacity="1.0" stroke="#2a1008" stroke-opacity="0.63" stroke-width="0.8"/><rect x="156.44" y="808.31" width="2.16" height="1.99" fill="#ab5e40" fill-opacity="1.0" stroke="#2a1008" stroke-opacity="0.49" stroke-width="0.8"/><rect x="158.60" y="808.28" width="2.16" height="2.02" fill="#ab5e40" fill-opacity="1.0" stroke="#2a1008" stroke-opacity="0.70" stroke-width="0.8"/><rect x="160.75" y="808.25" width="2.16" height="2.05" fill="#ab5e40" fill-opacity="1.0" stroke="#2a1008" stroke-opacity="0.70" stroke-width="0.8"/><rect x="162.91" y="808.22" width="2.16" height="2.08" fill="#ab5e40" fill-opacity="1.0" stroke="#2a1008" stroke-opacity="0.49" stroke-width="0.8"/><rect x="165.07" y="808.16" width="2.16" height="2.14" fill="#ab5e40" fill-opacity="1.0" stroke="#2a1008" stroke-opacity="0.49" stroke-width="0.8"/><rect x="167.22" y="808.09" width="2.16" height="2.21" fill="#ab5e40" fill-opacity="1.0" stroke="#2a1008" stroke-opacity="0.49" stroke-width="0.8"/><rect x="169.38" y="808.02" width="2.16" height="2.28" fill="#ab5e40" fill-opacity="1.0" stroke="#2a1008" stroke-opacity="0.70" stroke-width="0.8"/><rect x="171.54" y="807.95" width="2.16" height="2.35" fill="#ab5e40" fill-opacity="1.0" stroke="#2a1008" stroke-opacity="0.24" stroke-width="0.8"/><rect x="173.70" y="807.88" width="2.16" height="2.42" fill="#ab5e40" fill-opacity="1.0" stroke="#2a1008" stroke-opacity="0.49" stroke-width="0.8"/><rect x="175.85" y="807.82" width="2.16" height="2.48" fill="#ab5e40" fill-opacity="1.0" stroke="#2a1008" stroke-opacity="0.70" stroke-width="0.8"/><rect x="178.01" y="807.75" width="2.16" height="2.55" fill="#ab5e40" fill-opacity="1.0" stroke="#2a1008" stroke-opacity="0.24" stroke-width="0.8"/><rect x="180.17" y="807.48" width="2.16" height="2.82" fill="#ab5e40" fill-opacity="1.0" stroke="#2a1008" stroke-opacity="0.24" stroke-width="0.8"/><rect x="182.32" y="806.86" width="2.16" height="3.44" fill="#ab5e40" fill-opacity="1.0" stroke="#2a1008" stroke-opacity="0.24" stroke-width="0.8"/><rect x="184.48" y="806.09" width="2.16" height="4.21" fill="#ab5e40" fill-opacity="1.0" stroke="#2a1008" stroke-opacity="0.24" stroke-width="0.8"/><rect x="186.64" y="804.89" width="2.16" height="5.41" fill="#ab5e40" fill-opacity="1.0" stroke="#2a1008" stroke-opacity="0.70" stroke-width="0.8"/><rect x="188.79" y="803.71" width="2.16" height="6.59" fill="#ab5e40" fill-opacity="1.0" stroke="#2a1008" stroke-opacity="0.24" stroke-width="0.8"/><rect x="190.95" y="802.64" width="2.16" height="7.66" fill="#ab5e40" fill-opacity="1.0" stroke="#2a1008" stroke-opacity="0.49" stroke-width="0.8"/><rect x="193.11" y="801.56" width="2.16" height="8.74" fill="#ab5e40" fill-opacity="1.0" stroke="#2a1008" stroke-opacity="0.24" stroke-width="0.8"/><rect x="195.27" y="798.26" width="2.16" height="12.04" fill="#ab5e40" fill-opacity="1.0" stroke="#2a1008" stroke-opacity="0.70" stroke-width="0.8"/><rect x="197.42" y="794.58" width="2.16" height="15.72" fill="#ab5e40" fill-opacity="1.0" stroke="#2a1008" stroke-opacity="0.63" stroke-width="0.8"/><rect x="199.58" y="793.56" width="2.16" height="16.74" fill="#ab5e40" fill-opacity="1.0" stroke="#2a1008" stroke-opacity="0.70" stroke-width="0.8"/><rect x="201.74" y="793.57" width="2.16" height="16.73" fill="#ab5e40" fill-opacity="1.0" stroke="#2a1008" stroke-opacity="0.63" stroke-width="0.8"/><rect x="203.89" y="796.13" width="2.16" height="14.17" fill="#ab5e40" fill-opacity="1.0" stroke="#2a1008" stroke-opacity="0.24" stroke-width="0.8"/><rect x="206.05" y="797.93" width="2.16" height="12.37" fill="#ab5e40" fill-opacity="1.0" stroke="#2a1008" stroke-opacity="0.63" stroke-width="0.8"/><rect x="208.21" y="798.51" width="2.16" height="11.79" fill="#ab5e40" fill-opacity="1.0" stroke="#2a1008" stroke-opacity="0.70" stroke-width="0.8"/><rect x="210.36" y="798.72" width="2.16" height="11.58" fill="#ab5e40" fill-opacity="1.0" stroke="#2a1008" stroke-opacity="0.39" stroke-width="0.8"/><rect x="212.52" y="798.20" width="2.16" height="12.10" fill="#ab5e40" fill-opacity="1.0" stroke="#2a1008" stroke-opacity="0.70" stroke-width="0.8"/><rect x="214.68" y="797.69" width="2.16" height="12.61" fill="#ab5e40" fill-opacity="1.0" stroke="#2a1008" stroke-opacity="0.70" stroke-width="0.8"/><rect x="216.84" y="797.12" width="2.16" height="13.18" fill="#ab5e40" fill-opacity="1.0" stroke="#2a1008" stroke-opacity="0.70" stroke-width="0.8"/><rect x="218.99" y="796.56" width="2.16" height="13.74" fill="#ab5e40" fill-opacity="1.0" stroke="#2a1008" stroke-opacity="0.70" stroke-width="0.8"/><rect x="221.15" y="795.88" width="2.16" height="14.42" fill="#ab5e40" fill-opacity="1.0" stroke="#2a1008" stroke-opacity="0.70" stroke-width="0.8"/><rect x="223.31" y="795.15" width="2.16" height="15.15" fill="#ab5e40" fill-opacity="1.0" stroke="#2a1008" stroke-opacity="0.63" stroke-width="0.8"/><rect x="225.46" y="794.36" width="2.16" height="15.94" fill="#ab5e40" fill-opacity="1.0" stroke="#2a1008" stroke-opacity="0.70" stroke-width="0.8"/><rect x="227.62" y="793.50" width="2.16" height="16.80" fill="#ab5e40" fill-opacity="1.0" stroke="#2a1008" stroke-opacity="0.70" stroke-width="0.8"/><rect x="229.78" y="792.62" width="2.16" height="17.68" fill="#ab5e40" fill-opacity="1.0" stroke="#2a1008" stroke-opacity="0.39" stroke-width="0.8"/><rect x="231.93" y="791.54" width="2.16" height="18.76" fill="#ab5e40" fill-opacity="1.0" stroke="#2a1008" stroke-opacity="0.70" stroke-width="0.8"/><rect x="234.09" y="790.47" width="2.16" height="19.83" fill="#ab5e40" fill-opacity="1.0" stroke="#2a1008" stroke-opacity="0.70" stroke-width="0.8"/><rect x="236.25" y="788.83" width="2.16" height="21.47" fill="#ab5e40" fill-opacity="1.0" stroke="#2a1008" stroke-opacity="0.70" stroke-width="0.8"/><rect x="238.41" y="787.02" width="2.16" height="23.28" fill="#ab5e40" fill-opacity="1.0" stroke="#2a1008" stroke-opacity="0.63" stroke-width="0.8"/><rect x="240.56" y="784.15" width="2.16" height="26.15" fill="#ab5e40" fill-opacity="1.0" stroke="#2a1008" stroke-opacity="0.70" stroke-width="0.8"/><rect x="242.72" y="779.89" width="2.16" height="30.41" fill="#ab5e40" fill-opacity="1.0" stroke="#2a1008" stroke-opacity="0.24" stroke-width="0.8"/><rect x="244.88" y="777.33" width="2.16" height="32.97" fill="#ab5e40" fill-opacity="1.0" stroke="#2a1008" stroke-opacity="0.63" stroke-width="0.8"/><rect x="247.03" y="775.29" width="2.16" height="35.01" fill="#ab5e40" fill-opacity="1.0" stroke="#2a1008" stroke-opacity="0.49" stroke-width="0.8"/><rect x="249.19" y="773.19" width="2.16" height="37.11" fill="#ab5e40" fill-opacity="1.0" stroke="#2a1008" stroke-opacity="0.39" stroke-width="0.8"/><rect x="251.35" y="770.70" width="2.16" height="39.60" fill="#ab5e40" fill-opacity="1.0" stroke="#2a1008" stroke-opacity="0.39" stroke-width="0.8"/><rect x="253.50" y="767.55" width="2.16" height="42.75" fill="#ab5e40" fill-opacity="1.0" stroke="#2a1008" stroke-opacity="0.70" stroke-width="0.8"/><rect x="255.66" y="763.93" width="2.16" height="46.37" fill="#ab5e40" fill-opacity="1.0" stroke="#2a1008" stroke-opacity="0.39" stroke-width="0.8"/><rect x="257.82" y="760.08" width="2.16" height="50.22" fill="#ab5e40" fill-opacity="1.0" stroke="#2a1008" stroke-opacity="0.24" stroke-width="0.8"/><rect x="259.98" y="755.68" width="2.16" height="54.62" fill="#ab5e40" fill-opacity="1.0" stroke="#2a1008" stroke-opacity="0.70" stroke-width="0.8"/><rect x="262.13" y="751.30" width="2.16" height="59.00" fill="#ab5e40" fill-opacity="1.0" stroke="#2a1008" stroke-opacity="0.70" stroke-width="0.8"/><rect x="264.29" y="747.04" width="2.16" height="63.26" fill="#ab5e40" fill-opacity="1.0" stroke="#2a1008" stroke-opacity="0.24" stroke-width="0.8"/><rect x="266.45" y="741.61" width="2.16" height="68.69" fill="#ab5e40" fill-opacity="1.0" stroke="#2a1008" stroke-opacity="0.24" stroke-width="0.8"/><rect x="268.60" y="735.44" width="2.16" height="74.86" fill="#ab5e40" fill-opacity="1.0" stroke="#2a1008" stroke-opacity="0.24" stroke-width="0.8"/><rect x="270.76" y="730.40" width="2.16" height="79.90" fill="#ab5e40" fill-opacity="1.0" stroke="#2a1008" stroke-opacity="0.24" stroke-width="0.8"/><rect x="272.92" y="725.10" width="2.16" height="85.20" fill="#ab5e40" fill-opacity="1.0" stroke="#2a1008" stroke-opacity="0.39" stroke-width="0.8"/><rect x="275.07" y="718.92" width="2.16" height="91.38" fill="#ab5e40" fill-opacity="1.0" stroke="#2a1008" stroke-opacity="0.70" stroke-width="0.8"/><rect x="277.23" y="715.01" width="2.16" height="95.29" fill="#ab5e40" fill-opacity="1.0" stroke="#2a1008" stroke-opacity="0.63" stroke-width="0.8"/><rect x="279.39" y="712.55" width="2.16" height="97.75" fill="#ab5e40" fill-opacity="1.0" stroke="#2a1008" stroke-opacity="0.70" stroke-width="0.8"/><rect x="281.55" y="708.63" width="2.16" height="101.67" fill="#ab5e40" fill-opacity="1.0" stroke="#2a1008" stroke-opacity="0.49" stroke-width="0.8"/><rect x="283.70" y="704.62" width="2.16" height="105.68" fill="#ab5e40" fill-opacity="1.0" stroke="#2a1008" stroke-opacity="0.39" stroke-width="0.8"/><rect x="285.86" y="700.61" width="2.16" height="109.69" fill="#ab5e40" fill-opacity="1.0" stroke="#2a1008" stroke-opacity="0.49" stroke-width="0.8"/><rect x="288.02" y="697.25" width="2.16" height="113.05" fill="#ab5e40" fill-opacity="1.0" stroke="#2a1008" stroke-opacity="0.39" stroke-width="0.8"/><rect x="290.17" y="694.34" width="2.16" height="115.96" fill="#ab5e40" fill-opacity="1.0" stroke="#2a1008" stroke-opacity="0.24" stroke-width="0.8"/><rect x="292.33" y="687.00" width="2.16" height="123.30" fill="#ab5e40" fill-opacity="1.0" stroke="#2a1008" stroke-opacity="0.49" stroke-width="0.8"/><rect x="294.49" y="678.30" width="2.16" height="132.00" fill="#ab5e40" fill-opacity="1.0" stroke="#2a1008" stroke-opacity="0.63" stroke-width="0.8"/><rect x="296.64" y="668.78" width="2.16" height="141.52" fill="#ab5e40" fill-opacity="1.0" stroke="#2a1008" stroke-opacity="0.70" stroke-width="0.8"/><rect x="298.80" y="662.15" width="2.16" height="148.15" fill="#ab5e40" fill-opacity="1.0" stroke="#2a1008" stroke-opacity="0.70" stroke-width="0.8"/><rect x="300.96" y="657.10" width="2.16" height="153.20" fill="#ab5e40" fill-opacity="1.0" stroke="#2a1008" stroke-opacity="0.63" stroke-width="0.8"/><rect x="303.12" y="655.92" width="2.16" height="154.38" fill="#ab5e40" fill-opacity="1.0" stroke="#2a1008" stroke-opacity="0.70" stroke-width="0.8"/><rect x="305.27" y="655.19" width="2.16" height="155.11" fill="#ab5e40" fill-opacity="1.0" stroke="#2a1008" stroke-opacity="0.39" stroke-width="0.8"/><rect x="307.43" y="655.61" width="2.16" height="154.69" fill="#ab5e40" fill-opacity="1.0" stroke="#2a1008" stroke-opacity="0.63" stroke-width="0.8"/><rect x="309.59" y="652.00" width="2.16" height="158.30" fill="#ab5e40" fill-opacity="1.0" stroke="#2a1008" stroke-opacity="0.49" stroke-width="0.8"/><rect x="311.74" y="649.81" width="2.16" height="160.49" fill="#ab5e40" fill-opacity="1.0" stroke="#2a1008" stroke-opacity="0.70" stroke-width="0.8"/><rect x="313.90" y="646.31" width="2.16" height="163.99" fill="#ab5e40" fill-opacity="1.0" stroke="#2a1008" stroke-opacity="0.70" stroke-width="0.8"/><rect x="316.06" y="642.08" width="2.16" height="168.22" fill="#ab5e40" fill-opacity="1.0" stroke="#2a1008" stroke-opacity="0.70" stroke-width="0.8"/><rect x="318.21" y="639.52" width="2.16" height="170.78" fill="#ab5e40" fill-opacity="1.0" stroke="#2a1008" stroke-opacity="0.39" stroke-width="0.8"/><rect x="320.37" y="639.00" width="2.16" height="171.30" fill="#ab5e40" fill-opacity="1.0" stroke="#2a1008" stroke-opacity="0.49" stroke-width="0.8"/><rect x="322.53" y="632.73" width="2.16" height="177.57" fill="#ab5e40" fill-opacity="1.0" stroke="#2a1008" stroke-opacity="0.70" stroke-width="0.8"/><rect x="324.69" y="636.47" width="2.16" height="173.83" fill="#ab5e40" fill-opacity="1.0" stroke="#2a1008" stroke-opacity="0.49" stroke-width="0.8"/><rect x="326.84" y="639.72" width="2.16" height="170.58" fill="#ab5e40" fill-opacity="1.0" stroke="#2a1008" stroke-opacity="0.39" stroke-width="0.8"/><rect x="329.00" y="643.31" width="2.16" height="166.99" fill="#ab5e40" fill-opacity="1.0" stroke="#2a1008" stroke-opacity="0.70" stroke-width="0.8"/><rect x="331.16" y="651.50" width="2.16" height="158.80" fill="#ab5e40" fill-opacity="1.0" stroke="#2a1008" stroke-opacity="0.39" stroke-width="0.8"/><rect x="333.31" y="657.08" width="2.16" height="153.22" fill="#ab5e40" fill-opacity="1.0" stroke="#2a1008" stroke-opacity="0.63" stroke-width="0.8"/><rect x="335.47" y="658.97" width="2.16" height="151.33" fill="#ab5e40" fill-opacity="1.0" stroke="#2a1008" stroke-opacity="0.39" stroke-width="0.8"/><rect x="337.63" y="665.74" width="2.16" height="144.56" fill="#ab5e40" fill-opacity="1.0" stroke="#2a1008" stroke-opacity="0.63" stroke-width="0.8"/><rect x="339.78" y="670.68" width="2.16" height="139.62" fill="#ab5e40" fill-opacity="1.0" stroke="#2a1008" stroke-opacity="0.70" stroke-width="0.8"/><rect x="341.94" y="677.21" width="2.16" height="133.09" fill="#ab5e40" fill-opacity="1.0" stroke="#2a1008" stroke-opacity="0.70" stroke-width="0.8"/><rect x="344.10" y="683.87" width="2.16" height="126.43" fill="#ab5e40" fill-opacity="1.0" stroke="#2a1008" stroke-opacity="0.70" stroke-width="0.8"/><rect x="346.25" y="686.92" width="2.16" height="123.38" fill="#ab5e40" fill-opacity="1.0" stroke="#2a1008" stroke-opacity="0.39" stroke-width="0.8"/><rect x="348.41" y="693.58" width="2.16" height="116.72" fill="#ab5e40" fill-opacity="1.0" stroke="#2a1008" stroke-opacity="0.49" stroke-width="0.8"/><rect x="350.57" y="699.41" width="2.16" height="110.89" fill="#ab5e40" fill-opacity="1.0" stroke="#2a1008" stroke-opacity="0.63" stroke-width="0.8"/><rect x="352.73" y="704.34" width="2.16" height="105.96" fill="#ab5e40" fill-opacity="1.0" stroke="#2a1008" stroke-opacity="0.70" stroke-width="0.8"/><rect x="354.88" y="708.93" width="2.16" height="101.37" fill="#ab5e40" fill-opacity="1.0" stroke="#2a1008" stroke-opacity="0.63" stroke-width="0.8"/><rect x="357.04" y="713.61" width="2.16" height="96.69" fill="#ab5e40" fill-opacity="1.0" stroke="#2a1008" stroke-opacity="0.63" stroke-width="0.8"/><rect x="359.20" y="720.13" width="2.16" height="90.17" fill="#ab5e40" fill-opacity="1.0" stroke="#2a1008" stroke-opacity="0.24" stroke-width="0.8"/><rect x="361.35" y="726.32" width="2.16" height="83.98" fill="#ab5e40" fill-opacity="1.0" stroke="#2a1008" stroke-opacity="0.49" stroke-width="0.8"/><rect x="363.51" y="731.61" width="2.16" height="78.69" fill="#ab5e40" fill-opacity="1.0" stroke="#2a1008" stroke-opacity="0.63" stroke-width="0.8"/><rect x="365.67" y="735.96" width="2.16" height="74.34" fill="#ab5e40" fill-opacity="1.0" stroke="#2a1008" stroke-opacity="0.63" stroke-width="0.8"/><rect x="367.82" y="740.11" width="2.16" height="70.19" fill="#ab5e40" fill-opacity="1.0" stroke="#2a1008" stroke-opacity="0.70" stroke-width="0.8"/><rect x="369.98" y="747.97" width="2.16" height="62.33" fill="#ab5e40" fill-opacity="1.0" stroke="#2a1008" stroke-opacity="0.24" stroke-width="0.8"/><rect x="372.14" y="753.86" width="2.16" height="56.44" fill="#ab5e40" fill-opacity="1.0" stroke="#2a1008" stroke-opacity="0.39" stroke-width="0.8"/><rect x="374.30" y="760.13" width="2.16" height="50.17" fill="#ab5e40" fill-opacity="1.0" stroke="#2a1008" stroke-opacity="0.49" stroke-width="0.8"/><rect x="376.45" y="766.14" width="2.16" height="44.16" fill="#ab5e40" fill-opacity="1.0" stroke="#2a1008" stroke-opacity="0.70" stroke-width="0.8"/><rect x="378.61" y="771.13" width="2.16" height="39.17" fill="#ab5e40" fill-opacity="1.0" stroke="#2a1008" stroke-opacity="0.70" stroke-width="0.8"/><rect x="380.77" y="776.27" width="2.16" height="34.03" fill="#ab5e40" fill-opacity="1.0" stroke="#2a1008" stroke-opacity="0.39" stroke-width="0.8"/><rect x="382.92" y="779.93" width="2.16" height="30.37" fill="#ab5e40" fill-opacity="1.0" stroke="#2a1008" stroke-opacity="0.24" stroke-width="0.8"/><rect x="385.08" y="783.49" width="2.16" height="26.81" fill="#ab5e40" fill-opacity="1.0" stroke="#2a1008" stroke-opacity="0.39" stroke-width="0.8"/><rect x="387.24" y="786.64" width="2.16" height="23.66" fill="#ab5e40" fill-opacity="1.0" stroke="#2a1008" stroke-opacity="0.63" stroke-width="0.8"/><rect x="389.39" y="789.58" width="2.16" height="20.72" fill="#ab5e40" fill-opacity="1.0" stroke="#2a1008" stroke-opacity="0.49" stroke-width="0.8"/><rect x="391.55" y="792.22" width="2.16" height="18.08" fill="#ab5e40" fill-opacity="1.0" stroke="#2a1008" stroke-opacity="0.70" stroke-width="0.8"/><rect x="393.71" y="793.84" width="2.16" height="16.46" fill="#ab5e40" fill-opacity="1.0" stroke="#2a1008" stroke-opacity="0.39" stroke-width="0.8"/><rect x="395.87" y="796.27" width="2.16" height="14.03" fill="#ab5e40" fill-opacity="1.0" stroke="#2a1008" stroke-opacity="0.24" stroke-width="0.8"/><rect x="398.02" y="798.13" width="2.16" height="12.17" fill="#ab5e40" fill-opacity="1.0" stroke="#2a1008" stroke-opacity="0.49" stroke-width="0.8"/><rect x="400.18" y="799.35" width="2.16" height="10.95" fill="#ab5e40" fill-opacity="1.0" stroke="#2a1008" stroke-opacity="0.39" stroke-width="0.8"/><rect x="402.34" y="800.48" width="2.16" height="9.82" fill="#ab5e40" fill-opacity="1.0" stroke="#2a1008" stroke-opacity="0.39" stroke-width="0.8"/><rect x="404.49" y="801.58" width="2.16" height="8.72" fill="#ab5e40" fill-opacity="1.0" stroke="#2a1008" stroke-opacity="0.70" stroke-width="0.8"/><rect x="406.65" y="802.44" width="2.16" height="7.86" fill="#ab5e40" fill-opacity="1.0" stroke="#2a1008" stroke-opacity="0.63" stroke-width="0.8"/><rect x="408.81" y="803.26" width="2.16" height="7.04" fill="#ab5e40" fill-opacity="1.0" stroke="#2a1008" stroke-opacity="0.70" stroke-width="0.8"/><rect x="410.96" y="804.07" width="2.16" height="6.23" fill="#ab5e40" fill-opacity="1.0" stroke="#2a1008" stroke-opacity="0.63" stroke-width="0.8"/><rect x="413.12" y="804.88" width="2.16" height="5.42" fill="#ab5e40" fill-opacity="1.0" stroke="#2a1008" stroke-opacity="0.24" stroke-width="0.8"/><rect x="415.28" y="805.70" width="2.16" height="4.60" fill="#ab5e40" fill-opacity="1.0" stroke="#2a1008" stroke-opacity="0.63" stroke-width="0.8"/><rect x="417.44" y="806.45" width="2.16" height="3.85" fill="#ab5e40" fill-opacity="1.0" stroke="#2a1008" stroke-opacity="0.39" stroke-width="0.8"/><rect x="419.59" y="806.76" width="2.16" height="3.54" fill="#ab5e40" fill-opacity="1.0" stroke="#2a1008" stroke-opacity="0.63" stroke-width="0.8"/><rect x="421.75" y="807.08" width="2.16" height="3.22" fill="#ab5e40" fill-opacity="1.0" stroke="#2a1008" stroke-opacity="0.24" stroke-width="0.8"/><rect x="423.91" y="807.40" width="2.16" height="2.90" fill="#ab5e40" fill-opacity="1.0" stroke="#2a1008" stroke-opacity="0.70" stroke-width="0.8"/><rect x="426.06" y="807.63" width="2.16" height="2.67" fill="#ab5e40" fill-opacity="1.0" stroke="#2a1008" stroke-opacity="0.70" stroke-width="0.8"/><rect x="428.22" y="807.86" width="2.16" height="2.44" fill="#ab5e40" fill-opacity="1.0" stroke="#2a1008" stroke-opacity="0.70" stroke-width="0.8"/><rect x="430.38" y="808.09" width="2.16" height="2.21" fill="#ab5e40" fill-opacity="1.0" stroke="#2a1008" stroke-opacity="0.24" stroke-width="0.8"/><rect x="432.53" y="808.32" width="2.16" height="1.98" fill="#ab5e40" fill-opacity="1.0" stroke="#2a1008" stroke-opacity="0.49" stroke-width="0.8"/><rect x="434.69" y="808.58" width="2.16" height="1.72" fill="#ab5e40" fill-opacity="1.0" stroke="#2a1008" stroke-opacity="0.39" stroke-width="0.8"/><rect x="436.85" y="808.94" width="2.16" height="1.36" fill="#ab5e40" fill-opacity="1.0" stroke="#2a1008" stroke-opacity="0.49" stroke-width="0.8"/><rect x="439.01" y="809.31" width="2.16" height="0.99" fill="#ab5e40" fill-opacity="1.0" stroke="#2a1008" stroke-opacity="0.70" stroke-width="0.8"/><rect x="441.16" y="809.67" width="2.16" height="0.63" fill="#ab5e40" fill-opacity="1.0" stroke="#2a1008" stroke-opacity="0.49" stroke-width="0.8"/><rect x="443.32" y="809.90" width="2.16" height="0.40" fill="#ab5e40" fill-opacity="1.0" stroke="#2a1008" stroke-opacity="0.70" stroke-width="0.8"/>
<rect x="98.20" y="544.70" width="431.40" height="265.60" fill="none" stroke="#6a6a6a" stroke-width="1.1" />
<line x1="98.20" y1="810.30" x2="102.20" y2="810.30" stroke="#707070" stroke-width="1" />
<line x1="529.60" y1="810.30" x2="525.60" y2="810.30" stroke="#707070" stroke-width="1" />
<text x="93.60" y="814.90" font-size="13" text-anchor="end" font-weight="normal" fill="#333"  >0</text>
<line x1="98.20" y1="772.50" x2="102.20" y2="772.50" stroke="#707070" stroke-width="1" />
<line x1="529.60" y1="772.50" x2="525.60" y2="772.50" stroke="#707070" stroke-width="1" />
<text x="93.60" y="777.10" font-size="13" text-anchor="end" font-weight="normal" fill="#333"  >0.005</text>
<line x1="98.20" y1="734.70" x2="102.20" y2="734.70" stroke="#707070" stroke-width="1" />
<line x1="529.60" y1="734.70" x2="525.60" y2="734.70" stroke="#707070" stroke-width="1" />
<text x="93.60" y="739.30" font-size="13" text-anchor="end" font-weight="normal" fill="#333"  >0.01</text>
<line x1="98.20" y1="696.90" x2="102.20" y2="696.90" stroke="#707070" stroke-width="1" />
<line x1="529.60" y1="696.90" x2="525.60" y2="696.90" stroke="#707070" stroke-width="1" />
<text x="93.60" y="701.50" font-size="13" text-anchor="end" font-weight="normal" fill="#333"  >0.015</text>
<line x1="98.20" y1="659.10" x2="102.20" y2="659.10" stroke="#707070" stroke-width="1" />
<line x1="529.60" y1="659.10" x2="525.60" y2="659.10" stroke="#707070" stroke-width="1" />
<text x="93.60" y="663.70" font-size="13" text-anchor="end" font-weight="normal" fill="#333"  >0.02</text>
<line x1="98.20" y1="621.30" x2="102.20" y2="621.30" stroke="#707070" stroke-width="1" />
<line x1="529.60" y1="621.30" x2="525.60" y2="621.30" stroke="#707070" stroke-width="1" />
<text x="93.60" y="625.90" font-size="13" text-anchor="end" font-weight="normal" fill="#333"  >0.025</text>
<line x1="98.20" y1="583.50" x2="102.20" y2="583.50" stroke="#707070" stroke-width="1" />
<line x1="529.60" y1="583.50" x2="525.60" y2="583.50" stroke="#707070" stroke-width="1" />
<text x="93.60" y="588.10" font-size="13" text-anchor="end" font-weight="normal" fill="#333"  >0.03</text>
<line x1="98.20" y1="545.70" x2="102.20" y2="545.70" stroke="#707070" stroke-width="1" />
<line x1="529.60" y1="545.70" x2="525.60" y2="545.70" stroke="#707070" stroke-width="1" />
<text x="93.60" y="550.30" font-size="13" text-anchor="end" font-weight="normal" fill="#333"  >0.035</text>
<line x1="98.20" y1="810.30" x2="98.20" y2="806.30" stroke="#707070" stroke-width="1" />
<line x1="98.20" y1="544.70" x2="98.20" y2="548.70" stroke="#707070" stroke-width="1" />
<text x="98.20" y="826.80" font-size="13" text-anchor="middle" font-weight="normal" fill="#333"  >-0.5</text>
<line x1="313.90" y1="810.30" x2="313.90" y2="806.30" stroke="#707070" stroke-width="1" />
<line x1="313.90" y1="544.70" x2="313.90" y2="548.70" stroke="#707070" stroke-width="1" />
<text x="313.90" y="826.80" font-size="13" text-anchor="middle" font-weight="normal" fill="#333"  >0</text>
<line x1="529.60" y1="810.30" x2="529.60" y2="806.30" stroke="#707070" stroke-width="1" />
<line x1="529.60" y1="544.70" x2="529.60" y2="548.70" stroke="#707070" stroke-width="1" />
<text x="529.60" y="826.80" font-size="13" text-anchor="middle" font-weight="normal" fill="#333"  >0.5</text>
<text x="324.20" y="841.40" font-size="15.3" text-anchor="middle" font-weight="normal" fill="#111"  >Surface potential (V)</text>
<text transform="translate(51.8,668.5) rotate(-90)" font-size="13.2" text-anchor="middle" fill="#111">p (V<tspan font-size="8" dy="-4.5">-1</tspan><tspan dy="4.5">)</tspan></text>
<line x1="425.80" y1="560.20" x2="457.40" y2="560.20" stroke="#6b2a1a" stroke-width="2.4" />
<text x="462.6" y="564.90" font-size="13.3" fill="#5a2418">Cs<tspan font-size="8.2" dy="3.3">0</tspan></text>
<line x1="425.80" y1="573.60" x2="457.40" y2="573.60" stroke="#5cbf3c" stroke-width="2.4" />
<text x="462.6" y="578.30" font-size="13.3" fill="#187a5a">Cs<tspan font-size="8.2" dy="3.3">0.15</tspan></text>
<line x1="425.80" y1="586.70" x2="457.40" y2="586.70" stroke="#cfcfcf" stroke-width="2.4" />
<text x="462.6" y="591.40" font-size="13.3" fill="#b0b0b0">Cs<tspan font-size="8.2" dy="3.3">0.3</tspan></text>
</svg></body></html>
